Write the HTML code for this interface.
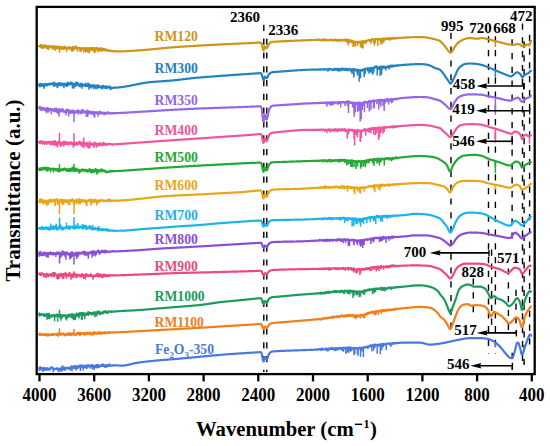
<!DOCTYPE html>
<html><head><meta charset="utf-8"><style>
html,body{margin:0;padding:0;background:#fff;}
svg{display:block;}
text{font-family:"Liberation Serif",serif;font-weight:bold;}
.lb{font-size:13.7px;}
.an{font-size:15px;fill:#000;text-anchor:middle;}
.tk{font-size:17px;fill:#000;text-anchor:middle;}
</style></head><body>
<svg width="550" height="446" viewBox="0 0 550 446" xmlns="http://www.w3.org/2000/svg">
<rect x="0" y="0" width="550" height="446" fill="#fff"/>
<g stroke="#000" stroke-width="1.4" stroke-dasharray="6.2 7.6">
<line x1="263.8" y1="24.8" x2="263.8" y2="372.0"/>
<line x1="266.8" y1="38.6" x2="266.8" y2="372.0"/>
<line x1="451.0" y1="32.8" x2="451.0" y2="335.0"/>
<line x1="488.5" y1="36.2" x2="488.5" y2="354.0"/>
<line x1="491.6" y1="249.6" x2="491.6" y2="327.0"/>
<line x1="495.4" y1="36.2" x2="495.4" y2="354.0"/>
<line x1="508.4" y1="268.5" x2="508.4" y2="330.5"/>
<line x1="512.1" y1="39.2" x2="512.1" y2="242.3"/>
<line x1="512.2" y1="352.7" x2="512.2" y2="370.0"/>
<line x1="516.0" y1="289.7" x2="516.0" y2="334.0"/>
<line x1="522.5" y1="23.5" x2="522.5" y2="364.0"/>
<line x1="524.1" y1="41.5" x2="524.1" y2="372.0"/>
<line x1="529.6" y1="34.7" x2="529.6" y2="352.0"/>
<line x1="473.3" y1="278.5" x2="473.3" y2="316.0"/>
</g>
<path d="M38.5,46.87 L39.0,46.04 L39.5,46.04 L40.0,45.61 L40.5,46.99 L41.0,44.80 L41.5,47.65 L42.0,45.92 L42.5,46.70 L43.0,46.32 L43.5,47.54 L44.0,45.10 L44.5,46.34 L45.0,46.32 L45.5,47.40 L46.0,45.86 L46.5,46.53 L47.0,46.06 L47.5,46.73 L48.0,47.13 L48.5,45.97 L49.0,47.57 L49.5,47.42 L50.0,47.16 L50.5,47.46 L51.0,46.37 L51.5,46.79 L52.0,46.24 L52.5,46.73 L53.0,47.31 L53.5,46.48 L54.0,46.71 L54.5,46.53 L55.0,46.44 L55.5,46.58 L56.0,47.07 L56.5,46.32 L57.0,47.28 L57.5,48.30 L58.0,47.68 L58.5,47.05 L59.0,46.59 L59.5,46.71 L60.0,48.44 L60.5,47.31 L61.0,46.85 L61.5,47.46 L62.0,48.81 L62.5,47.45 L63.0,47.82 L63.5,47.62 L64.0,47.19 L64.5,46.66 L65.0,47.23 L65.5,47.35 L66.0,47.93 L66.5,48.13 L67.0,48.22 L67.5,47.79 L68.0,48.23 L68.5,47.10 L69.0,48.53 L69.5,48.03 L70.0,47.49 L70.5,48.06 L71.0,47.68 L71.5,48.55 L72.0,48.85 L72.5,49.33 L73.0,46.85 L73.5,46.84 L74.0,47.52 L74.5,48.01 L75.0,48.53 L75.5,48.16 L76.0,46.55 L76.5,47.77 L77.0,48.59 L77.5,48.19 L78.0,48.59 L78.5,47.92 L79.0,47.96 L79.5,48.26 L80.0,48.44 L80.5,48.31 L81.0,48.28 L81.5,47.75 L82.0,48.51 L82.5,48.36 L83.0,49.09 L83.5,49.16 L84.0,48.48 L84.5,48.11 L85.0,47.96 L85.5,48.72 L86.0,48.51 L86.5,48.24 L87.0,48.54 L87.5,48.10 L88.0,49.04 L88.5,48.27 L89.0,49.47 L89.5,48.92 L90.0,49.08 L90.5,47.92 L91.0,48.83 L91.5,49.26 L92.0,48.10 L92.5,48.61 L93.0,48.85 L93.5,47.90 L94.0,49.11 L94.5,49.51 L95.0,48.35 L95.5,49.23 L96.0,48.10 L96.5,49.02 L97.0,47.95 L97.5,49.90 L98.0,49.44 L98.5,49.17 L99.0,48.68 L99.5,50.15 L100.0,50.68 L100.5,48.04 L101.0,50.25 L101.5,50.58 L102.0,49.73 L102.5,48.72 L103.0,50.22 L103.5,49.56 L104.0,49.33 L104.5,49.00 L105.0,50.25 L105.5,50.46 L106.0,49.69 L106.5,50.42 L107.0,49.61 L107.5,50.69 L108.0,50.39 L108.5,50.37 L109.0,50.48 L109.5,50.93 L110.0,50.94 L110.5,50.92 L111.0,50.86 L111.5,50.91 L112.0,51.10 L112.5,51.07 L113.0,51.20 L113.5,51.09 L114.0,50.90 L114.5,51.33 L115.0,51.40 L115.5,51.33 L116.0,51.34 L116.5,51.37 L117.0,51.39 L117.5,51.40 L118.0,51.40 L118.5,51.40 L119.0,51.40 L119.5,51.39 L120.0,51.38 L120.5,51.38 L121.0,51.37 L121.5,51.35 L122.0,51.34 L122.5,51.33 L123.0,51.31 L123.5,51.29 L124.0,51.27 L124.5,51.25 L125.0,51.23 L125.5,51.21 L126.0,51.19 L126.5,51.16 L127.0,51.14 L127.5,51.11 L128.0,51.08 L128.5,51.05 L129.0,51.02 L129.5,50.99 L130.0,50.96 L130.5,50.93 L131.0,50.90 L131.5,50.87 L132.0,50.84 L132.5,50.80 L133.0,50.77 L133.5,50.74 L134.0,50.70 L134.5,50.67 L135.0,50.63 L135.5,50.60 L136.0,50.57 L136.5,50.53 L137.0,50.50 L137.5,50.46 L138.0,50.43 L138.5,50.40 L139.0,50.36 L139.5,50.33 L140.0,50.30 L140.5,50.27 L141.0,50.23 L141.5,50.20 L142.0,50.17 L142.5,50.13 L143.0,50.09 L143.5,50.05 L144.0,50.01 L144.5,49.97 L145.0,49.93 L145.5,49.89 L146.0,49.85 L146.5,49.81 L147.0,49.76 L147.5,49.72 L148.0,49.67 L148.5,49.63 L149.0,49.58 L149.5,49.54 L150.0,49.49 L150.5,49.44 L151.0,49.39 L151.5,49.35 L152.0,49.30 L152.5,49.25 L153.0,49.20 L153.5,49.15 L154.0,49.10 L154.5,49.05 L155.0,49.00 L155.5,48.95 L156.0,48.90 L156.5,48.84 L157.0,48.79 L157.5,48.74 L158.0,48.69 L158.5,48.64 L159.0,48.59 L159.5,48.54 L160.0,48.49 L160.5,48.44 L161.0,48.39 L161.5,48.34 L162.0,48.29 L162.5,48.24 L163.0,48.19 L163.5,48.14 L164.0,48.09 L164.5,48.04 L165.0,47.99 L165.5,47.94 L166.0,47.90 L166.5,47.85 L167.0,47.80 L167.5,47.76 L168.0,47.71 L168.5,47.67 L169.0,47.62 L169.5,47.58 L170.0,47.54 L170.5,47.50 L171.0,47.46 L171.5,47.42 L172.0,47.38 L172.5,47.34 L173.0,47.30 L173.5,47.26 L174.0,47.23 L174.5,47.19 L175.0,47.15 L175.5,47.12 L176.0,47.08 L176.5,47.05 L177.0,47.01 L177.5,46.98 L178.0,46.94 L178.5,46.91 L179.0,46.87 L179.5,46.84 L180.0,46.80 L180.5,46.77 L181.0,46.73 L181.5,46.70 L182.0,46.67 L182.5,46.63 L183.0,46.60 L183.5,46.57 L184.0,46.53 L184.5,46.50 L185.0,46.47 L185.5,46.44 L186.0,46.41 L186.5,46.37 L187.0,46.34 L187.5,46.31 L188.0,46.28 L188.5,46.25 L189.0,46.22 L189.5,46.18 L190.0,46.15 L190.5,46.12 L191.0,46.09 L191.5,46.06 L192.0,46.03 L192.5,46.00 L193.0,45.97 L193.5,45.94 L194.0,45.91 L194.5,45.88 L195.0,45.85 L195.5,45.82 L196.0,45.79 L196.5,45.76 L197.0,45.73 L197.5,45.70 L198.0,45.68 L198.5,45.65 L199.0,45.62 L199.5,45.59 L200.0,45.56 L200.5,45.53 L201.0,45.50 L201.5,45.47 L202.0,45.45 L202.5,45.42 L203.0,45.39 L203.5,45.36 L204.0,45.33 L204.5,45.30 L205.0,45.28 L205.5,45.25 L206.0,45.22 L206.5,45.19 L207.0,45.17 L207.5,45.14 L208.0,45.11 L208.5,45.08 L209.0,45.06 L209.5,45.03 L210.0,45.00 L210.5,44.97 L211.0,44.95 L211.5,44.92 L212.0,44.89 L212.5,44.86 L213.0,44.84 L213.5,44.81 L214.0,44.79 L214.5,44.76 L215.0,44.73 L215.5,44.71 L216.0,44.68 L216.5,44.66 L217.0,44.63 L217.5,44.61 L218.0,44.58 L218.5,44.55 L219.0,44.53 L219.5,44.50 L220.0,44.48 L220.5,44.46 L221.0,44.43 L221.5,44.41 L222.0,44.38 L222.5,44.36 L223.0,44.33 L223.5,44.31 L224.0,44.29 L224.5,44.26 L225.0,44.24 L225.5,44.21 L226.0,44.19 L226.5,44.17 L227.0,44.14 L227.5,44.12 L228.0,44.09 L228.5,44.07 L229.0,44.05 L229.5,44.02 L230.0,44.00 L230.5,43.98 L231.0,43.95 L231.5,43.93 L232.0,43.91 L232.5,43.88 L233.0,43.86 L233.5,43.84 L234.0,43.81 L234.5,43.79 L235.0,43.77 L235.5,43.74 L236.0,43.72 L236.5,43.70 L237.0,43.68 L237.5,43.65 L238.0,43.63 L238.5,43.61 L239.0,43.58 L239.5,43.56 L240.0,43.53 L240.5,43.51 L241.0,43.49 L241.5,43.46 L242.0,43.44 L242.5,43.42 L243.0,43.39 L243.5,43.37 L244.0,43.35 L244.5,43.32 L245.0,43.30 L245.5,43.27 L246.0,43.25 L246.5,43.23 L247.0,43.20 L247.5,43.18 L248.0,43.15 L248.5,43.13 L249.0,43.10 L249.5,43.08 L250.0,43.05 L250.5,43.03 L251.0,43.00 L251.5,42.98 L252.0,42.95 L252.5,42.93 L253.0,42.90 L253.5,42.88 L254.0,42.85 L254.5,42.83 L255.0,42.80 L255.5,42.77 L256.0,42.75 L256.5,42.72 L257.0,42.69 L257.5,42.67 L258.0,42.64 L258.5,42.61 L259.0,42.59 L259.5,42.56 L260.0,42.54 L260.5,42.54 L261.0,42.69 L261.5,43.28 L262.0,44.72 L262.5,47.08 L263.0,49.42 L263.5,50.24 L264.0,49.12 L264.5,47.36 L265.0,46.48 L265.5,46.85 L266.0,47.76 L266.5,48.31 L267.0,48.07 L267.5,47.12 L268.0,45.91 L268.5,44.80 L269.0,43.96 L269.5,43.37 L270.0,42.93 L270.5,42.59 L271.0,42.32 L271.5,42.12 L272.0,41.98 L272.5,41.89 L273.0,41.83 L273.5,41.79 L274.0,41.76 L274.5,41.73 L275.0,41.70 L275.5,41.67 L276.0,41.65 L276.5,41.62 L277.0,41.60 L277.5,41.57 L278.0,41.54 L278.5,41.52 L279.0,41.49 L279.5,41.47 L280.0,41.44 L280.5,41.41 L281.0,41.39 L281.5,41.36 L282.0,41.34 L282.5,41.31 L283.0,41.28 L283.5,41.26 L284.0,41.23 L284.5,41.21 L285.0,41.18 L285.5,41.15 L286.0,41.13 L286.5,41.10 L287.0,41.08 L287.5,41.05 L288.0,41.03 L288.5,41.00 L289.0,40.98 L289.5,40.96 L290.0,40.93 L290.5,40.91 L291.0,40.88 L291.5,40.86 L292.0,40.84 L292.5,40.81 L293.0,40.79 L293.5,40.77 L294.0,40.74 L294.5,40.72 L295.0,40.70 L295.5,40.68 L296.0,40.66 L296.5,40.64 L297.0,40.62 L297.5,40.60 L298.0,40.58 L298.5,40.56 L299.0,40.54 L299.5,40.52 L300.0,40.50 L300.5,40.48 L301.0,40.46 L301.5,40.44 L302.0,40.42 L302.5,40.40 L303.0,40.38 L303.5,40.36 L304.0,40.34 L304.5,40.32 L305.0,40.30 L305.5,40.28 L306.0,40.26 L306.5,40.24 L307.0,40.22 L307.5,40.20 L308.0,40.18 L308.5,40.16 L309.0,40.15 L309.5,40.13 L310.0,40.11 L310.5,40.09 L311.0,40.07 L311.5,40.06 L312.0,40.04 L312.5,40.03 L313.0,40.01 L313.5,40.00 L314.0,39.98 L314.5,39.97 L315.0,39.96 L315.5,39.95 L316.0,39.94 L316.5,39.91 L317.0,39.87 L317.5,39.79 L318.0,39.83 L318.5,39.66 L319.0,39.79 L319.5,39.68 L320.0,40.09 L320.5,39.90 L321.0,39.82 L321.5,40.43 L322.0,40.14 L322.5,40.37 L323.0,39.97 L323.5,39.23 L324.0,39.55 L324.5,40.28 L325.0,39.57 L325.5,40.01 L326.0,39.96 L326.5,40.46 L327.0,40.11 L327.5,40.05 L328.0,39.95 L328.5,40.05 L329.0,40.05 L329.5,40.13 L330.0,40.14 L330.5,40.05 L331.0,39.63 L331.5,39.83 L332.0,39.95 L332.5,40.35 L333.0,40.35 L333.5,39.96 L334.0,40.53 L334.5,40.29 L335.0,39.40 L335.5,39.62 L336.0,40.26 L336.5,39.91 L337.0,40.57 L337.5,40.17 L338.0,40.06 L338.5,39.89 L339.0,39.64 L339.5,40.37 L340.0,40.12 L340.5,40.65 L341.0,39.81 L341.5,40.15 L342.0,39.93 L342.5,39.94 L343.0,40.34 L343.5,39.88 L344.0,40.29 L344.5,39.54 L345.0,39.61 L345.5,40.70 L346.0,39.85 L346.5,39.61 L347.0,40.75 L347.5,39.87 L348.0,40.36 L348.5,40.09 L349.0,39.88 L349.5,41.03 L350.0,40.78 L350.5,40.43 L351.0,40.71 L351.5,41.13 L352.0,40.75 L352.5,41.46 L353.0,41.24 L353.5,41.35 L354.0,41.68 L354.5,41.64 L355.0,41.79 L355.5,41.72 L356.0,42.26 L356.5,42.21 L357.0,42.46 L357.5,42.20 L358.0,41.88 L358.5,42.36 L359.0,41.70 L359.5,42.50 L360.0,42.94 L360.5,41.57 L361.0,42.48 L361.5,42.18 L362.0,41.82 L362.5,41.28 L363.0,41.98 L363.5,42.18 L364.0,41.23 L364.5,41.87 L365.0,42.26 L365.5,41.21 L366.0,41.15 L366.5,40.68 L367.0,40.92 L367.5,40.67 L368.0,40.54 L368.5,40.36 L369.0,40.03 L369.5,40.19 L370.0,40.15 L370.5,40.08 L371.0,39.83 L371.5,39.81 L372.0,39.42 L372.5,38.90 L373.0,39.54 L373.5,39.64 L374.0,40.01 L374.5,39.79 L375.0,39.36 L375.5,38.83 L376.0,39.20 L376.5,39.26 L377.0,39.07 L377.5,39.18 L378.0,39.40 L378.5,39.08 L379.0,38.81 L379.5,38.98 L380.0,39.03 L380.5,39.39 L381.0,39.01 L381.5,38.92 L382.0,38.91 L382.5,38.92 L383.0,39.02 L383.5,38.40 L384.0,38.68 L384.5,39.15 L385.0,38.39 L385.5,38.88 L386.0,38.97 L386.5,38.49 L387.0,38.56 L387.5,38.46 L388.0,38.26 L388.5,38.17 L389.0,39.11 L389.5,38.14 L390.0,38.31 L390.5,38.69 L391.0,38.79 L391.5,38.25 L392.0,38.36 L392.5,37.59 L393.0,38.38 L393.5,38.32 L394.0,38.31 L394.5,38.79 L395.0,38.01 L395.5,38.40 L396.0,38.26 L396.5,37.94 L397.0,38.12 L397.5,38.37 L398.0,38.13 L398.5,38.12 L399.0,37.96 L399.5,37.94 L400.0,37.92 L400.5,37.88 L401.0,37.84 L401.5,37.80 L402.0,37.76 L402.5,37.73 L403.0,37.69 L403.5,37.65 L404.0,37.62 L404.5,37.58 L405.0,37.55 L405.5,37.51 L406.0,37.48 L406.5,37.45 L407.0,37.43 L407.5,37.40 L408.0,37.38 L408.5,37.35 L409.0,37.33 L409.5,37.32 L410.0,37.30 L410.5,37.29 L411.0,37.27 L411.5,37.26 L412.0,37.24 L412.5,37.23 L413.0,37.21 L413.5,37.20 L414.0,37.19 L414.5,37.18 L415.0,37.16 L415.5,37.15 L416.0,37.14 L416.5,37.13 L417.0,37.12 L417.5,37.12 L418.0,37.11 L418.5,37.11 L419.0,37.10 L419.5,37.10 L420.0,37.10 L420.5,37.10 L421.0,37.11 L421.5,37.12 L422.0,37.14 L422.5,37.16 L423.0,37.18 L423.5,37.21 L424.0,37.24 L424.5,37.27 L425.0,37.30 L425.5,37.34 L426.0,37.40 L426.5,37.48 L427.0,37.57 L427.5,37.67 L428.0,37.77 L428.5,37.88 L429.0,37.99 L429.5,38.10 L430.0,38.20 L430.5,38.30 L431.0,38.40 L431.5,38.50 L432.0,38.60 L432.5,38.70 L433.0,38.81 L433.5,38.92 L434.0,39.04 L434.5,39.17 L435.0,39.30 L435.5,39.44 L436.0,39.57 L436.5,39.72 L437.0,39.87 L437.5,40.03 L438.0,40.20 L438.5,40.40 L439.0,40.61 L439.5,40.84 L440.0,41.10 L440.5,41.43 L441.0,41.86 L441.5,42.35 L442.0,42.89 L442.5,43.45 L443.0,44.00 L443.5,44.55 L444.0,45.13 L444.5,45.73 L445.0,46.34 L445.5,46.97 L446.0,47.60 L446.5,48.28 L447.0,49.01 L447.5,49.75 L448.0,50.46 L448.5,51.09 L449.0,51.60 L449.5,52.05 L450.0,52.44 L450.5,52.60 L451.0,52.38 L451.5,51.88 L452.0,51.30 L452.5,50.66 L453.0,49.88 L453.5,49.01 L454.0,48.11 L454.5,47.26 L455.0,46.50 L455.5,45.82 L456.0,45.16 L456.5,44.53 L457.0,43.93 L457.5,43.39 L458.0,42.90 L458.5,42.46 L459.0,42.05 L459.5,41.67 L460.0,41.32 L460.5,41.00 L461.0,40.70 L461.5,40.42 L462.0,40.15 L462.5,39.88 L463.0,39.64 L463.5,39.41 L464.0,39.21 L464.5,39.04 L465.0,38.90 L465.5,38.78 L466.0,38.66 L466.5,38.55 L467.0,38.45 L467.5,38.35 L468.0,38.27 L468.5,38.20 L469.0,38.14 L469.5,38.11 L470.0,38.10 L470.5,38.11 L471.0,38.13 L471.5,38.17 L472.0,38.21 L472.5,38.26 L473.0,38.30 L473.5,38.35 L474.0,38.41 L474.5,38.47 L475.0,38.54 L475.5,38.60 L476.0,38.65 L476.5,38.69 L477.0,38.70 L477.5,38.68 L478.0,38.63 L478.5,38.55 L479.0,38.45 L479.5,38.35 L480.0,38.25 L480.5,38.15 L481.0,38.07 L481.5,38.02 L482.0,38.00 L482.5,38.02 L483.0,38.06 L483.5,38.12 L484.0,38.21 L484.5,38.32 L485.0,38.43 L485.5,38.56 L486.0,38.69 L486.5,38.82 L487.0,38.96 L487.5,39.08 L488.0,39.20 L488.5,39.31 L489.0,39.43 L489.5,39.55 L490.0,39.67 L490.5,39.80 L491.0,39.92 L491.5,40.05 L492.0,40.18 L492.5,40.32 L493.0,40.45 L493.5,40.58 L494.0,40.72 L494.5,40.85 L495.0,40.99 L495.5,41.13 L496.0,41.26 L496.5,41.40 L497.0,41.53 L497.5,41.66 L498.0,41.79 L498.5,41.92 L499.0,42.05 L499.5,42.18 L500.0,42.30 L500.5,42.42 L501.0,42.55 L501.5,42.68 L502.0,42.81 L502.5,42.94 L503.0,43.07 L503.5,43.20 L504.0,43.33 L504.5,43.46 L505.0,43.59 L505.5,43.72 L506.0,43.84 L506.5,43.95 L507.0,44.06 L507.5,44.17 L508.0,44.27 L508.5,44.37 L509.0,44.45 L509.5,44.53 L510.0,44.60 L510.5,44.67 L511.0,44.74 L511.5,44.80 L512.0,44.85 L512.5,44.89 L513.0,44.90 L513.5,44.87 L514.0,44.77 L514.5,44.65 L515.0,44.50 L515.5,44.35 L516.0,44.23 L516.5,44.13 L517.0,44.10 L517.5,44.12 L518.0,44.17 L518.5,44.24 L519.0,44.34 L519.5,44.46 L520.0,44.60 L520.5,44.91 L521.0,45.42 L521.5,45.89 L522.0,46.10 L522.5,46.10 L523.0,46.10 L523.5,46.10 L524.0,46.10 L524.5,45.99 L525.0,45.71 L525.5,45.35 L526.0,44.99 L526.5,44.71 L527.0,44.60 L527.5,44.60 L528.0,44.60 L528.5,44.60 L529.0,44.60 L529.5,44.60 L530.0,43.90 L530.5,42.40 L531.0,41.00 L531.5,40.03" stroke="#CF9418" stroke-width="2.2" fill="none" stroke-linejoin="round"/>
<path d="M495.4,41.10V47.10M529.5,44.60V46.60M59.5,46.71V52.71M73.6,46.97V50.47M39.9,45.74V46.19M41.1,45.18V46.95M42.2,46.30V47.51M43.0,46.42V48.81M44.0,45.18V45.76M44.9,46.32V47.01M46.7,46.34V48.77M47.7,46.92V49.58M48.4,46.22V50.01M49.5,47.40V48.37M50.4,47.42V46.81M52.3,46.55V49.10M52.9,47.22V50.06M53.7,46.56V47.20M54.9,46.46V50.73M55.7,46.79V50.10M56.9,47.07V49.03M58.9,46.69V49.18M59.8,47.65V49.21M60.8,47.02V48.58M61.7,48.01V48.50M62.5,47.48V48.29M63.6,47.51V49.99M64.6,46.77V49.71M65.8,47.71V48.32M66.5,48.11V52.36M69.4,48.08V49.41M70.4,47.97V49.52M71.5,48.55V51.43M72.3,49.19V51.73M73.4,46.84V51.09M76.4,47.58V46.27M77.4,48.27V51.67M79.9,48.40V51.64M81.1,48.19V52.05M83.7,48.89V52.49M84.6,48.07V49.43M85.4,48.60V52.53M86.0,48.49V50.35M86.7,48.33V52.13M87.5,48.11V51.49M88.3,48.57V52.58M89.3,49.17V53.29M90.2,48.54V50.01M91.2,48.96V51.47M92.3,48.40V47.88M93.0,48.81V50.95M94.2,49.26V52.97M95.4,49.03V52.51M97.7,49.73V52.57M98.5,49.18V50.48M99.2,49.13V51.02M100.3,48.86V50.82M103.8,49.44V50.57M105.0,50.19V50.72M326.6,40.39V41.26M330.9,39.73V40.33M335.4,39.60V40.94M339.1,39.81V41.85M344.9,39.60V40.98M346.8,40.30V42.78M348.2,40.26V45.49M349.2,40.41V43.45M350.8,40.60V42.59M351.8,40.94V43.49M353.1,41.27V46.98M354.3,41.66V43.74M355.4,41.73V46.58M357.3,42.30V43.06M359.0,41.74V42.78M360.0,42.92V43.46M361.8,41.95V48.24M363.0,41.98V48.40M364.8,42.07V43.84M366.1,41.03V43.69M369.9,40.16V42.26M371.1,39.82V43.78M372.2,39.22V40.05M373.4,39.61V40.29M374.4,39.84V45.72M375.4,38.98V43.24M377.8,39.33V46.08M379.6,38.99V40.54M380.5,39.37V44.58M382.2,38.91V44.23M383.8,38.57V42.76M385.6,38.90V40.40M387.1,38.55V40.04M388.6,38.45V40.37M390.1,38.36V40.55M391.5,38.28V40.16M360.5,41.57V47.17M354.0,41.68V46.23M373.6,39.71V43.21M380.9,39.09V41.89M357.5,42.20V46.05" stroke="#CF9418" stroke-width="1.5" fill="none"/>
<path d="M38.5,85.25 L39.0,85.32 L39.5,84.04 L40.0,86.38 L40.5,83.93 L41.0,84.54 L41.5,85.44 L42.0,84.16 L42.5,84.25 L43.0,84.31 L43.5,85.29 L44.0,86.46 L44.5,84.85 L45.0,83.99 L45.5,85.12 L46.0,84.28 L46.5,84.65 L47.0,85.45 L47.5,84.07 L48.0,84.57 L48.5,83.91 L49.0,84.39 L49.5,84.65 L50.0,83.75 L50.5,84.18 L51.0,84.22 L51.5,83.92 L52.0,83.51 L52.5,83.32 L53.0,84.18 L53.5,84.08 L54.0,85.81 L54.5,82.53 L55.0,84.29 L55.5,84.45 L56.0,85.13 L56.5,84.51 L57.0,83.56 L57.5,84.13 L58.0,84.50 L58.5,83.89 L59.0,84.63 L59.5,82.78 L60.0,85.29 L60.5,85.09 L61.0,83.82 L61.5,84.47 L62.0,84.07 L62.5,83.45 L63.0,84.09 L63.5,84.72 L64.0,83.75 L64.5,83.75 L65.0,83.96 L65.5,84.31 L66.0,84.90 L66.5,83.56 L67.0,84.36 L67.5,84.15 L68.0,82.70 L68.5,83.71 L69.0,83.91 L69.5,83.98 L70.0,84.25 L70.5,82.61 L71.0,84.08 L71.5,83.59 L72.0,83.08 L72.5,84.47 L73.0,84.64 L73.5,83.70 L74.0,84.77 L74.5,83.94 L75.0,84.28 L75.5,83.50 L76.0,85.41 L76.5,82.48 L77.0,84.31 L77.5,84.90 L78.0,83.03 L78.5,84.36 L79.0,84.48 L79.5,85.15 L80.0,85.49 L80.5,84.38 L81.0,83.73 L81.5,85.70 L82.0,85.64 L82.5,84.51 L83.0,85.13 L83.5,85.20 L84.0,85.37 L84.5,85.16 L85.0,86.05 L85.5,83.89 L86.0,85.88 L86.5,85.47 L87.0,85.09 L87.5,86.11 L88.0,83.69 L88.5,86.19 L89.0,85.69 L89.5,84.67 L90.0,85.80 L90.5,85.33 L91.0,87.39 L91.5,86.92 L92.0,85.99 L92.5,85.23 L93.0,85.37 L93.5,85.61 L94.0,85.50 L94.5,85.32 L95.0,85.60 L95.5,85.88 L96.0,85.77 L96.5,85.70 L97.0,85.61 L97.5,88.11 L98.0,85.35 L98.5,85.73 L99.0,86.81 L99.5,86.35 L100.0,86.94 L100.5,87.26 L101.0,87.65 L101.5,87.35 L102.0,86.19 L102.5,87.73 L103.0,85.77 L103.5,86.99 L104.0,86.77 L104.5,86.44 L105.0,87.65 L105.5,87.15 L106.0,88.04 L106.5,86.38 L107.0,87.96 L107.5,87.77 L108.0,87.57 L108.5,86.75 L109.0,87.44 L109.5,86.83 L110.0,86.65 L110.5,89.08 L111.0,88.06 L111.5,88.36 L112.0,87.54 L112.5,87.92 L113.0,87.90 L113.5,87.86 L114.0,87.69 L114.5,87.63 L115.0,87.30 L115.5,87.73 L116.0,87.67 L116.5,87.69 L117.0,87.54 L117.5,87.57 L118.0,87.48 L118.5,87.44 L119.0,87.39 L119.5,87.34 L120.0,87.29 L120.5,87.24 L121.0,87.18 L121.5,87.11 L122.0,87.05 L122.5,86.98 L123.0,86.91 L123.5,86.84 L124.0,86.76 L124.5,86.68 L125.0,86.60 L125.5,86.52 L126.0,86.44 L126.5,86.35 L127.0,86.26 L127.5,86.17 L128.0,86.08 L128.5,85.99 L129.0,85.90 L129.5,85.80 L130.0,85.71 L130.5,85.61 L131.0,85.51 L131.5,85.41 L132.0,85.31 L132.5,85.21 L133.0,85.11 L133.5,85.01 L134.0,84.91 L134.5,84.81 L135.0,84.71 L135.5,84.61 L136.0,84.51 L136.5,84.41 L137.0,84.31 L137.5,84.21 L138.0,84.11 L138.5,84.01 L139.0,83.91 L139.5,83.82 L140.0,83.72 L140.5,83.63 L141.0,83.53 L141.5,83.44 L142.0,83.35 L142.5,83.26 L143.0,83.18 L143.5,83.09 L144.0,83.01 L144.5,82.93 L145.0,82.85 L145.5,82.77 L146.0,82.70 L146.5,82.63 L147.0,82.56 L147.5,82.49 L148.0,82.43 L148.5,82.36 L149.0,82.31 L149.5,82.25 L150.0,82.20 L150.5,82.15 L151.0,82.10 L151.5,82.06 L152.0,82.01 L152.5,81.96 L153.0,81.92 L153.5,81.88 L154.0,81.84 L154.5,81.79 L155.0,81.75 L155.5,81.71 L156.0,81.68 L156.5,81.64 L157.0,81.60 L157.5,81.56 L158.0,81.53 L158.5,81.49 L159.0,81.45 L159.5,81.42 L160.0,81.38 L160.5,81.35 L161.0,81.31 L161.5,81.28 L162.0,81.24 L162.5,81.21 L163.0,81.18 L163.5,81.14 L164.0,81.11 L164.5,81.07 L165.0,81.04 L165.5,81.00 L166.0,80.96 L166.5,80.93 L167.0,80.89 L167.5,80.85 L168.0,80.82 L168.5,80.78 L169.0,80.74 L169.5,80.70 L170.0,80.66 L170.5,80.62 L171.0,80.58 L171.5,80.53 L172.0,80.49 L172.5,80.45 L173.0,80.40 L173.5,80.35 L174.0,80.30 L174.5,80.25 L175.0,80.20 L175.5,80.15 L176.0,80.10 L176.5,80.04 L177.0,79.99 L177.5,79.93 L178.0,79.88 L178.5,79.82 L179.0,79.76 L179.5,79.70 L180.0,79.64 L180.5,79.58 L181.0,79.52 L181.5,79.46 L182.0,79.40 L182.5,79.34 L183.0,79.27 L183.5,79.21 L184.0,79.15 L184.5,79.09 L185.0,79.03 L185.5,78.96 L186.0,78.90 L186.5,78.84 L187.0,78.78 L187.5,78.72 L188.0,78.66 L188.5,78.60 L189.0,78.54 L189.5,78.48 L190.0,78.42 L190.5,78.37 L191.0,78.31 L191.5,78.26 L192.0,78.20 L192.5,78.15 L193.0,78.10 L193.5,78.05 L194.0,78.00 L194.5,77.95 L195.0,77.90 L195.5,77.85 L196.0,77.81 L196.5,77.76 L197.0,77.72 L197.5,77.68 L198.0,77.63 L198.5,77.59 L199.0,77.55 L199.5,77.51 L200.0,77.47 L200.5,77.43 L201.0,77.39 L201.5,77.35 L202.0,77.31 L202.5,77.27 L203.0,77.23 L203.5,77.19 L204.0,77.15 L204.5,77.12 L205.0,77.08 L205.5,77.04 L206.0,77.00 L206.5,76.97 L207.0,76.93 L207.5,76.89 L208.0,76.85 L208.5,76.81 L209.0,76.78 L209.5,76.74 L210.0,76.70 L210.5,76.66 L211.0,76.62 L211.5,76.58 L212.0,76.55 L212.5,76.51 L213.0,76.47 L213.5,76.43 L214.0,76.39 L214.5,76.36 L215.0,76.32 L215.5,76.28 L216.0,76.24 L216.5,76.20 L217.0,76.17 L217.5,76.13 L218.0,76.09 L218.5,76.05 L219.0,76.02 L219.5,75.98 L220.0,75.94 L220.5,75.90 L221.0,75.87 L221.5,75.83 L222.0,75.79 L222.5,75.76 L223.0,75.72 L223.5,75.68 L224.0,75.65 L224.5,75.61 L225.0,75.57 L225.5,75.54 L226.0,75.50 L226.5,75.46 L227.0,75.43 L227.5,75.39 L228.0,75.35 L228.5,75.32 L229.0,75.28 L229.5,75.24 L230.0,75.21 L230.5,75.17 L231.0,75.14 L231.5,75.10 L232.0,75.06 L232.5,75.03 L233.0,74.99 L233.5,74.96 L234.0,74.92 L234.5,74.89 L235.0,74.85 L235.5,74.82 L236.0,74.78 L236.5,74.74 L237.0,74.71 L237.5,74.67 L238.0,74.64 L238.5,74.60 L239.0,74.57 L239.5,74.53 L240.0,74.50 L240.5,74.47 L241.0,74.43 L241.5,74.40 L242.0,74.36 L242.5,74.33 L243.0,74.30 L243.5,74.26 L244.0,74.23 L244.5,74.20 L245.0,74.16 L245.5,74.13 L246.0,74.10 L246.5,74.07 L247.0,74.03 L247.5,74.00 L248.0,73.97 L248.5,73.94 L249.0,73.90 L249.5,73.87 L250.0,73.84 L250.5,73.81 L251.0,73.77 L251.5,73.74 L252.0,73.71 L252.5,73.67 L253.0,73.64 L253.5,73.60 L254.0,73.57 L254.5,73.54 L255.0,73.50 L255.5,73.46 L256.0,73.43 L256.5,73.39 L257.0,73.36 L257.5,73.32 L258.0,73.28 L258.5,73.25 L259.0,73.21 L259.5,73.17 L260.0,73.14 L260.5,73.13 L261.0,73.26 L261.5,73.77 L262.0,75.07 L262.5,77.21 L263.0,79.32 L263.5,80.05 L264.0,79.02 L264.5,77.40 L265.0,76.59 L265.5,76.91 L266.0,77.73 L266.5,78.22 L267.0,77.98 L267.5,77.11 L268.0,75.99 L268.5,74.96 L269.0,74.19 L269.5,73.64 L270.0,73.23 L270.5,72.90 L271.0,72.64 L271.5,72.45 L272.0,72.31 L272.5,72.21 L273.0,72.14 L273.5,72.09 L274.0,72.04 L274.5,72.00 L275.0,71.96 L275.5,71.93 L276.0,71.89 L276.5,71.85 L277.0,71.81 L277.5,71.78 L278.0,71.74 L278.5,71.71 L279.0,71.67 L279.5,71.63 L280.0,71.60 L280.5,71.57 L281.0,71.53 L281.5,71.49 L282.0,71.46 L282.5,71.42 L283.0,71.38 L283.5,71.35 L284.0,71.31 L284.5,71.27 L285.0,71.23 L285.5,71.20 L286.0,71.16 L286.5,71.12 L287.0,71.08 L287.5,71.04 L288.0,71.01 L288.5,70.97 L289.0,70.93 L289.5,70.89 L290.0,70.85 L290.5,70.81 L291.0,70.77 L291.5,70.74 L292.0,70.70 L292.5,70.66 L293.0,70.62 L293.5,70.59 L294.0,70.55 L294.5,70.51 L295.0,70.48 L295.5,70.44 L296.0,70.41 L296.5,70.37 L297.0,70.34 L297.5,70.30 L298.0,70.27 L298.5,70.24 L299.0,70.20 L299.5,70.17 L300.0,70.14 L300.5,70.11 L301.0,70.08 L301.5,70.05 L302.0,70.03 L302.5,70.00 L303.0,69.97 L303.5,69.95 L304.0,69.92 L304.5,69.90 L305.0,69.87 L305.5,69.85 L306.0,69.83 L306.5,69.81 L307.0,69.79 L307.5,69.77 L308.0,69.76 L308.5,69.74 L309.0,69.73 L309.5,69.71 L310.0,69.70 L310.5,69.69 L311.0,69.68 L311.5,69.67 L312.0,69.66 L312.5,69.65 L313.0,69.64 L313.5,69.63 L314.0,69.62 L314.5,69.61 L315.0,69.61 L315.5,69.60 L316.0,69.59 L316.5,69.58 L317.0,69.55 L317.5,69.60 L318.0,69.51 L318.5,69.60 L319.0,69.45 L319.5,69.27 L320.0,69.37 L320.5,69.33 L321.0,69.65 L321.5,69.58 L322.0,69.35 L322.5,69.63 L323.0,69.29 L323.5,69.49 L324.0,69.40 L324.5,69.64 L325.0,69.18 L325.5,69.43 L326.0,69.46 L326.5,69.08 L327.0,69.47 L327.5,69.43 L328.0,69.76 L328.5,69.04 L329.0,68.91 L329.5,68.85 L330.0,69.47 L330.5,69.20 L331.0,69.03 L331.5,69.45 L332.0,69.66 L332.5,70.00 L333.0,69.76 L333.5,69.09 L334.0,69.81 L334.5,69.03 L335.0,69.43 L335.5,69.54 L336.0,68.74 L336.5,69.29 L337.0,69.26 L337.5,69.98 L338.0,68.99 L338.5,69.45 L339.0,69.11 L339.5,69.19 L340.0,68.82 L340.5,69.48 L341.0,69.56 L341.5,69.53 L342.0,68.51 L342.5,68.45 L343.0,69.06 L343.5,69.48 L344.0,69.36 L344.5,68.99 L345.0,68.84 L345.5,69.68 L346.0,69.59 L346.5,68.85 L347.0,69.10 L347.5,69.11 L348.0,69.90 L348.5,69.45 L349.0,69.62 L349.5,68.96 L350.0,69.41 L350.5,69.32 L351.0,69.46 L351.5,69.60 L352.0,69.49 L352.5,69.21 L353.0,70.04 L353.5,69.37 L354.0,69.48 L354.5,69.18 L355.0,70.00 L355.5,69.97 L356.0,69.75 L356.5,69.72 L357.0,70.12 L357.5,69.99 L358.0,69.75 L358.5,70.28 L359.0,70.44 L359.5,70.24 L360.0,70.39 L360.5,70.15 L361.0,70.56 L361.5,70.28 L362.0,69.79 L362.5,70.22 L363.0,69.88 L363.5,69.49 L364.0,69.34 L364.5,69.37 L365.0,68.68 L365.5,68.99 L366.0,68.97 L366.5,68.50 L367.0,68.62 L367.5,68.46 L368.0,68.16 L368.5,68.54 L369.0,68.56 L369.5,68.51 L370.0,68.69 L370.5,68.13 L371.0,67.94 L371.5,68.02 L372.0,68.38 L372.5,68.42 L373.0,67.60 L373.5,67.87 L374.0,67.62 L374.5,67.81 L375.0,66.70 L375.5,67.35 L376.0,66.80 L376.5,66.31 L377.0,67.49 L377.5,66.99 L378.0,67.72 L378.5,67.51 L379.0,67.64 L379.5,67.44 L380.0,66.96 L380.5,67.21 L381.0,66.52 L381.5,66.59 L382.0,67.15 L382.5,67.56 L383.0,66.98 L383.5,66.47 L384.0,66.81 L384.5,67.01 L385.0,67.12 L385.5,66.78 L386.0,67.30 L386.5,67.03 L387.0,66.76 L387.5,66.46 L388.0,67.39 L388.5,66.36 L389.0,66.37 L389.5,66.12 L390.0,66.49 L390.5,65.75 L391.0,66.51 L391.5,65.71 L392.0,66.46 L392.5,65.67 L393.0,65.67 L393.5,65.79 L394.0,66.07 L394.5,65.87 L395.0,65.59 L395.5,65.77 L396.0,65.90 L396.5,65.33 L397.0,65.86 L397.5,65.58 L398.0,65.21 L398.5,65.47 L399.0,65.38 L399.5,65.32 L400.0,65.28 L400.5,65.22 L401.0,65.16 L401.5,65.11 L402.0,65.06 L402.5,65.01 L403.0,64.96 L403.5,64.91 L404.0,64.87 L404.5,64.83 L405.0,64.80 L405.5,64.77 L406.0,64.73 L406.5,64.70 L407.0,64.67 L407.5,64.64 L408.0,64.60 L408.5,64.57 L409.0,64.54 L409.5,64.51 L410.0,64.47 L410.5,64.44 L411.0,64.41 L411.5,64.38 L412.0,64.36 L412.5,64.33 L413.0,64.30 L413.5,64.28 L414.0,64.25 L414.5,64.23 L415.0,64.21 L415.5,64.19 L416.0,64.17 L416.5,64.16 L417.0,64.14 L417.5,64.13 L418.0,64.12 L418.5,64.11 L419.0,64.10 L419.5,64.10 L420.0,64.10 L420.5,64.10 L421.0,64.12 L421.5,64.14 L422.0,64.16 L422.5,64.19 L423.0,64.23 L423.5,64.27 L424.0,64.31 L424.5,64.35 L425.0,64.40 L425.5,64.46 L426.0,64.53 L426.5,64.61 L427.0,64.71 L427.5,64.82 L428.0,64.94 L428.5,65.07 L429.0,65.21 L429.5,65.35 L430.0,65.50 L430.5,65.67 L431.0,65.89 L431.5,66.13 L432.0,66.40 L432.5,66.68 L433.0,66.97 L433.5,67.25 L434.0,67.52 L434.5,67.77 L435.0,68.00 L435.5,68.19 L436.0,68.36 L436.5,68.52 L437.0,68.66 L437.5,68.81 L438.0,68.96 L438.5,69.13 L439.0,69.32 L439.5,69.54 L440.0,69.80 L440.5,70.15 L441.0,70.63 L441.5,71.19 L442.0,71.81 L442.5,72.46 L443.0,73.10 L443.5,73.76 L444.0,74.48 L444.5,75.23 L445.0,75.99 L445.5,76.76 L446.0,77.50 L446.5,78.22 L447.0,78.95 L447.5,79.67 L448.0,80.38 L448.5,81.09 L449.0,81.80 L449.5,82.66 L450.0,83.43 L450.5,83.56 L451.0,83.16 L451.5,82.51 L452.0,81.80 L452.5,81.05 L453.0,80.16 L453.5,79.17 L454.0,78.12 L454.5,77.05 L455.0,76.00 L455.5,74.91 L456.0,73.73 L456.5,72.53 L457.0,71.38 L457.5,70.35 L458.0,69.50 L458.5,68.80 L459.0,68.16 L459.5,67.58 L460.0,67.06 L460.5,66.60 L461.0,66.20 L461.5,65.83 L462.0,65.47 L462.5,65.13 L463.0,64.81 L463.5,64.54 L464.0,64.30 L464.5,64.12 L465.0,64.00 L465.5,63.92 L466.0,63.84 L466.5,63.76 L467.0,63.70 L467.5,63.64 L468.0,63.59 L468.5,63.55 L469.0,63.52 L469.5,63.51 L470.0,63.50 L470.5,63.50 L471.0,63.52 L471.5,63.54 L472.0,63.56 L472.5,63.60 L473.0,63.63 L473.5,63.67 L474.0,63.71 L474.5,63.76 L475.0,63.80 L475.5,63.85 L476.0,63.90 L476.5,63.96 L477.0,64.03 L477.5,64.10 L478.0,64.18 L478.5,64.27 L479.0,64.36 L479.5,64.46 L480.0,64.56 L480.5,64.66 L481.0,64.77 L481.5,64.88 L482.0,65.00 L482.5,65.13 L483.0,65.27 L483.5,65.43 L484.0,65.61 L484.5,65.79 L485.0,65.98 L485.5,66.18 L486.0,66.39 L486.5,66.59 L487.0,66.80 L487.5,67.00 L488.0,67.20 L488.5,67.40 L489.0,67.60 L489.5,67.80 L490.0,68.01 L490.5,68.21 L491.0,68.42 L491.5,68.64 L492.0,68.85 L492.5,69.07 L493.0,69.28 L493.5,69.50 L494.0,69.72 L494.5,69.94 L495.0,70.16 L495.5,70.38 L496.0,70.60 L496.5,70.81 L497.0,71.03 L497.5,71.25 L498.0,71.46 L498.5,71.67 L499.0,71.88 L499.5,72.09 L500.0,72.30 L500.5,72.51 L501.0,72.71 L501.5,72.92 L502.0,73.12 L502.5,73.33 L503.0,73.53 L503.5,73.73 L504.0,73.92 L504.5,74.11 L505.0,74.30 L505.5,74.49 L506.0,74.70 L506.5,74.92 L507.0,75.14 L507.5,75.36 L508.0,75.57 L508.5,75.77 L509.0,75.94 L509.5,76.09 L510.0,76.20 L510.5,76.27 L511.0,76.30 L511.5,76.20 L512.0,75.93 L512.5,75.55 L513.0,75.11 L513.5,74.68 L514.0,74.30 L514.5,73.92 L515.0,73.49 L515.5,73.05 L516.0,72.67 L516.5,72.40 L517.0,72.30 L517.5,72.36 L518.0,72.52 L518.5,72.77 L519.0,73.08 L519.5,73.43 L520.0,73.80 L520.5,74.40 L521.0,75.30 L521.5,76.25 L522.0,77.00 L522.5,77.30 L523.0,76.87 L523.5,75.99 L524.0,75.30 L524.5,74.96 L525.0,74.68 L525.5,74.45 L526.0,74.24 L526.5,74.03 L527.0,73.80 L527.5,73.57 L528.0,73.36 L528.5,73.12 L529.0,72.80 L529.5,72.12 L530.0,71.24 L530.5,70.80 L531.0,71.04 L531.5,71.75" stroke="#2483BF" stroke-width="2.2" fill="none" stroke-linejoin="round"/>
<path d="M495.4,70.33V77.33M74.0,84.77V88.77M39.2,84.80V86.76M40.4,84.36V86.75M41.3,85.00V86.59M42.1,84.19V85.69M43.0,84.31V86.69M44.0,86.43V88.80M45.8,84.59V83.82M47.0,85.38V86.06M49.5,84.58V82.87M50.6,84.18V83.60M51.8,83.69V82.58M52.7,83.66V85.27M54.0,85.78V86.63M55.1,84.31V86.05M57.1,83.67V87.71M57.7,84.31V88.31M58.4,83.96V84.48M59.3,83.48V82.29M59.9,84.90V83.24M62.0,84.11V86.54M63.9,83.87V88.20M65.1,84.04V85.86M66.1,84.61V86.90M66.8,84.12V87.08M68.1,82.94V86.16M69.9,84.18V85.25M70.6,82.85V83.74M71.6,83.48V81.78M72.4,84.24V88.57M73.7,84.09V86.25M74.4,84.06V87.48M75.5,83.57V86.44M76.2,84.02V86.41M77.5,84.88V84.38M78.2,83.44V83.01M79.0,84.47V86.85M80.0,85.44V87.58M80.9,83.81V87.09M82.0,85.54V88.82M82.8,84.83V83.62M83.6,85.24V84.31M84.3,85.26V86.16M85.4,84.51V85.21M86.6,85.40V86.65M88.3,85.08V86.42M89.0,85.59V89.70M89.8,85.31V85.82M90.7,86.14V84.91M93.5,85.60V88.88M94.2,85.43V88.54M94.8,85.51V86.73M95.8,85.80V89.15M98.7,86.19V86.71M100.4,87.18V87.72M101.5,87.37V88.72M102.6,87.45V89.53M105.2,87.45V88.55M106.0,88.01V89.03M108.1,87.44V88.01M109.9,86.70V87.27M324.8,69.35V69.99M327.9,69.68V71.64M329.4,68.86V70.36M331.1,69.13V70.07M336.6,69.28V70.15M338.3,69.25V71.62M339.8,68.94V71.46M341.5,69.47V71.21M342.8,68.77V69.97M344.0,69.37V71.09M345.3,69.28V70.45M346.3,69.19V70.94M347.3,69.11V70.74M348.3,69.61V71.55M350.9,69.44V72.24M352.1,69.44V73.97M353.8,69.44V77.47M354.9,69.85V71.07M356.4,69.73V72.56M357.3,70.04V71.56M359.2,70.37V81.86M362.1,69.90V71.58M363.1,69.81V71.12M364.1,69.35V77.25M365.2,68.83V74.19M367.5,68.44V71.58M369.0,68.56V73.64M370.3,68.34V71.97M371.3,67.99V73.33M372.9,67.82V74.73M373.9,67.68V70.89M377.2,67.31V75.61M378.6,67.53V69.88M380.2,67.07V75.92M381.6,66.72V74.87M382.7,67.37V69.18M384.3,66.92V68.69M385.7,66.99V70.61M387.2,66.65V68.29M388.2,66.91V68.29M389.4,66.19V69.47M392.5,65.67V67.42M360.5,70.15V78.15M354.0,69.48V75.98M373.6,67.82V72.82M380.9,66.66V70.66M357.5,69.99V75.49" stroke="#2483BF" stroke-width="1.5" fill="none"/>
<path d="M38.5,108.53 L39.0,108.18 L39.5,108.10 L40.0,106.82 L40.5,108.00 L41.0,108.02 L41.5,108.28 L42.0,107.97 L42.5,108.45 L43.0,108.22 L43.5,107.70 L44.0,109.31 L44.5,109.38 L45.0,110.03 L45.5,108.93 L46.0,108.68 L46.5,108.65 L47.0,108.01 L47.5,109.85 L48.0,108.46 L48.5,108.46 L49.0,109.21 L49.5,110.45 L50.0,109.64 L50.5,108.82 L51.0,109.10 L51.5,110.09 L52.0,109.60 L52.5,109.23 L53.0,109.66 L53.5,110.40 L54.0,111.32 L54.5,109.12 L55.0,109.60 L55.5,109.53 L56.0,108.45 L56.5,109.54 L57.0,109.52 L57.5,111.07 L58.0,110.24 L58.5,109.24 L59.0,110.87 L59.5,110.21 L60.0,109.28 L60.5,110.12 L61.0,110.17 L61.5,110.01 L62.0,110.68 L62.5,109.12 L63.0,110.54 L63.5,111.48 L64.0,111.40 L64.5,111.61 L65.0,111.66 L65.5,111.95 L66.0,110.16 L66.5,111.56 L67.0,109.70 L67.5,110.62 L68.0,109.73 L68.5,111.83 L69.0,112.06 L69.5,111.02 L70.0,112.43 L70.5,110.75 L71.0,111.36 L71.5,111.39 L72.0,110.56 L72.5,111.64 L73.0,112.72 L73.5,110.67 L74.0,112.05 L74.5,111.34 L75.0,112.71 L75.5,111.84 L76.0,112.00 L76.5,112.00 L77.0,111.76 L77.5,110.63 L78.0,112.61 L78.5,110.70 L79.0,111.85 L79.5,112.14 L80.0,111.15 L80.5,111.87 L81.0,112.61 L81.5,111.80 L82.0,111.22 L82.5,109.83 L83.0,111.21 L83.5,111.51 L84.0,111.59 L84.5,111.30 L85.0,112.26 L85.5,111.62 L86.0,111.98 L86.5,112.56 L87.0,111.51 L87.5,111.93 L88.0,113.68 L88.5,112.81 L89.0,111.33 L89.5,112.21 L90.0,112.69 L90.5,113.19 L91.0,112.46 L91.5,112.02 L92.0,111.91 L92.5,112.91 L93.0,112.71 L93.5,112.16 L94.0,112.42 L94.5,112.29 L95.0,113.12 L95.5,112.16 L96.0,113.02 L96.5,113.30 L97.0,113.08 L97.5,112.18 L98.0,113.74 L98.5,112.35 L99.0,113.15 L99.5,112.35 L100.0,111.68 L100.5,113.09 L101.0,113.16 L101.5,112.93 L102.0,113.20 L102.5,112.57 L103.0,112.53 L103.5,112.95 L104.0,114.42 L104.5,113.67 L105.0,112.75 L105.5,113.52 L106.0,112.81 L106.5,112.85 L107.0,113.72 L107.5,112.86 L108.0,112.21 L108.5,112.69 L109.0,113.24 L109.5,113.26 L110.0,113.78 L110.5,112.89 L111.0,113.50 L111.5,113.36 L112.0,113.14 L112.5,113.45 L113.0,113.32 L113.5,112.94 L114.0,113.41 L114.5,112.90 L115.0,113.14 L115.5,113.12 L116.0,113.15 L116.5,113.03 L117.0,113.07 L117.5,113.05 L118.0,113.04 L118.5,113.02 L119.0,113.00 L119.5,112.98 L120.0,112.95 L120.5,112.93 L121.0,112.91 L121.5,112.88 L122.0,112.86 L122.5,112.83 L123.0,112.81 L123.5,112.78 L124.0,112.75 L124.5,112.73 L125.0,112.70 L125.5,112.67 L126.0,112.64 L126.5,112.61 L127.0,112.58 L127.5,112.55 L128.0,112.52 L128.5,112.49 L129.0,112.46 L129.5,112.43 L130.0,112.40 L130.5,112.37 L131.0,112.33 L131.5,112.30 L132.0,112.27 L132.5,112.24 L133.0,112.21 L133.5,112.18 L134.0,112.15 L134.5,112.12 L135.0,112.09 L135.5,112.06 L136.0,112.03 L136.5,112.00 L137.0,111.97 L137.5,111.94 L138.0,111.91 L138.5,111.88 L139.0,111.85 L139.5,111.83 L140.0,111.80 L140.5,111.77 L141.0,111.75 L141.5,111.72 L142.0,111.69 L142.5,111.66 L143.0,111.64 L143.5,111.61 L144.0,111.58 L144.5,111.55 L145.0,111.52 L145.5,111.49 L146.0,111.46 L146.5,111.43 L147.0,111.40 L147.5,111.37 L148.0,111.34 L148.5,111.31 L149.0,111.28 L149.5,111.25 L150.0,111.22 L150.5,111.19 L151.0,111.15 L151.5,111.12 L152.0,111.09 L152.5,111.06 L153.0,111.03 L153.5,111.00 L154.0,110.96 L154.5,110.93 L155.0,110.90 L155.5,110.87 L156.0,110.84 L156.5,110.80 L157.0,110.77 L157.5,110.74 L158.0,110.71 L158.5,110.67 L159.0,110.64 L159.5,110.61 L160.0,110.58 L160.5,110.55 L161.0,110.51 L161.5,110.48 L162.0,110.45 L162.5,110.42 L163.0,110.39 L163.5,110.36 L164.0,110.33 L164.5,110.29 L165.0,110.26 L165.5,110.23 L166.0,110.20 L166.5,110.17 L167.0,110.14 L167.5,110.11 L168.0,110.08 L168.5,110.05 L169.0,110.02 L169.5,109.99 L170.0,109.97 L170.5,109.94 L171.0,109.91 L171.5,109.88 L172.0,109.85 L172.5,109.83 L173.0,109.80 L173.5,109.77 L174.0,109.75 L174.5,109.72 L175.0,109.69 L175.5,109.67 L176.0,109.64 L176.5,109.61 L177.0,109.59 L177.5,109.56 L178.0,109.54 L178.5,109.51 L179.0,109.48 L179.5,109.46 L180.0,109.43 L180.5,109.41 L181.0,109.38 L181.5,109.36 L182.0,109.33 L182.5,109.31 L183.0,109.28 L183.5,109.26 L184.0,109.23 L184.5,109.21 L185.0,109.18 L185.5,109.16 L186.0,109.13 L186.5,109.11 L187.0,109.08 L187.5,109.06 L188.0,109.04 L188.5,109.01 L189.0,108.99 L189.5,108.96 L190.0,108.94 L190.5,108.92 L191.0,108.89 L191.5,108.87 L192.0,108.85 L192.5,108.82 L193.0,108.80 L193.5,108.78 L194.0,108.76 L194.5,108.73 L195.0,108.71 L195.5,108.69 L196.0,108.67 L196.5,108.65 L197.0,108.63 L197.5,108.60 L198.0,108.58 L198.5,108.56 L199.0,108.54 L199.5,108.52 L200.0,108.50 L200.5,108.48 L201.0,108.46 L201.5,108.44 L202.0,108.42 L202.5,108.40 L203.0,108.38 L203.5,108.36 L204.0,108.34 L204.5,108.32 L205.0,108.30 L205.5,108.28 L206.0,108.27 L206.5,108.25 L207.0,108.23 L207.5,108.21 L208.0,108.19 L208.5,108.17 L209.0,108.16 L209.5,108.14 L210.0,108.12 L210.5,108.10 L211.0,108.09 L211.5,108.07 L212.0,108.05 L212.5,108.03 L213.0,108.02 L213.5,108.00 L214.0,107.98 L214.5,107.97 L215.0,107.95 L215.5,107.93 L216.0,107.92 L216.5,107.90 L217.0,107.88 L217.5,107.87 L218.0,107.85 L218.5,107.83 L219.0,107.82 L219.5,107.80 L220.0,107.78 L220.5,107.77 L221.0,107.75 L221.5,107.73 L222.0,107.72 L222.5,107.70 L223.0,107.69 L223.5,107.67 L224.0,107.65 L224.5,107.64 L225.0,107.62 L225.5,107.60 L226.0,107.59 L226.5,107.57 L227.0,107.55 L227.5,107.54 L228.0,107.52 L228.5,107.50 L229.0,107.49 L229.5,107.47 L230.0,107.45 L230.5,107.44 L231.0,107.42 L231.5,107.40 L232.0,107.39 L232.5,107.37 L233.0,107.35 L233.5,107.33 L234.0,107.32 L234.5,107.30 L235.0,107.28 L235.5,107.26 L236.0,107.25 L236.5,107.23 L237.0,107.21 L237.5,107.19 L238.0,107.17 L238.5,107.16 L239.0,107.14 L239.5,107.12 L240.0,107.10 L240.5,107.08 L241.0,107.06 L241.5,107.04 L242.0,107.02 L242.5,107.01 L243.0,106.99 L243.5,106.97 L244.0,106.95 L244.5,106.93 L245.0,106.91 L245.5,106.89 L246.0,106.87 L246.5,106.85 L247.0,106.83 L247.5,106.81 L248.0,106.79 L248.5,106.77 L249.0,106.75 L249.5,106.73 L250.0,106.71 L250.5,106.69 L251.0,106.67 L251.5,106.65 L252.0,106.63 L252.5,106.61 L253.0,106.59 L253.5,106.57 L254.0,106.54 L254.5,106.52 L255.0,106.50 L255.5,106.48 L256.0,106.46 L256.5,106.43 L257.0,106.41 L257.5,106.39 L258.0,106.36 L258.5,106.34 L259.0,106.32 L259.5,106.30 L260.0,106.28 L260.5,106.33 L261.0,106.65 L261.5,107.82 L262.0,110.66 L262.5,115.30 L263.0,119.89 L263.5,121.56 L264.0,119.52 L264.5,116.28 L265.0,114.88 L265.5,115.99 L266.0,118.10 L266.5,119.36 L267.0,118.87 L267.5,116.85 L268.0,114.23 L268.5,111.84 L269.0,110.05 L269.5,108.79 L270.0,107.87 L270.5,107.16 L271.0,106.61 L271.5,106.21 L272.0,105.94 L272.5,105.77 L273.0,105.67 L273.5,105.60 L274.0,105.56 L274.5,105.53 L275.0,105.50 L275.5,105.47 L276.0,105.44 L276.5,105.42 L277.0,105.39 L277.5,105.36 L278.0,105.33 L278.5,105.30 L279.0,105.27 L279.5,105.23 L280.0,105.20 L280.5,105.17 L281.0,105.14 L281.5,105.11 L282.0,105.07 L282.5,105.04 L283.0,105.01 L283.5,104.97 L284.0,104.94 L284.5,104.91 L285.0,104.87 L285.5,104.84 L286.0,104.80 L286.5,104.77 L287.0,104.73 L287.5,104.70 L288.0,104.66 L288.5,104.63 L289.0,104.60 L289.5,104.56 L290.0,104.53 L290.5,104.49 L291.0,104.46 L291.5,104.42 L292.0,104.39 L292.5,104.35 L293.0,104.32 L293.5,104.28 L294.0,104.25 L294.5,104.21 L295.0,104.18 L295.5,104.14 L296.0,104.11 L296.5,104.08 L297.0,104.04 L297.5,104.01 L298.0,103.98 L298.5,103.94 L299.0,103.91 L299.5,103.88 L300.0,103.85 L300.5,103.82 L301.0,103.78 L301.5,103.75 L302.0,103.72 L302.5,103.69 L303.0,103.66 L303.5,103.63 L304.0,103.61 L304.5,103.58 L305.0,103.55 L305.5,103.52 L306.0,103.49 L306.5,103.47 L307.0,103.44 L307.5,103.42 L308.0,103.39 L308.5,103.37 L309.0,103.35 L309.5,103.32 L310.0,103.30 L310.5,103.28 L311.0,103.26 L311.5,103.24 L312.0,103.22 L312.5,103.20 L313.0,103.18 L313.5,103.16 L314.0,103.14 L314.5,103.12 L315.0,103.10 L315.5,103.09 L316.0,103.07 L316.5,103.04 L317.0,103.02 L317.5,102.93 L318.0,103.08 L318.5,103.06 L319.0,103.05 L319.5,102.80 L320.0,102.66 L320.5,102.80 L321.0,102.79 L321.5,102.92 L322.0,102.86 L322.5,102.94 L323.0,102.92 L323.5,103.06 L324.0,102.52 L324.5,102.47 L325.0,102.97 L325.5,103.24 L326.0,102.76 L326.5,102.52 L327.0,103.11 L327.5,102.44 L328.0,102.11 L328.5,103.04 L329.0,102.93 L329.5,103.13 L330.0,102.87 L330.5,102.43 L331.0,102.77 L331.5,102.21 L332.0,102.31 L332.5,102.38 L333.0,102.86 L333.5,102.19 L334.0,102.84 L334.5,102.74 L335.0,102.70 L335.5,102.18 L336.0,102.39 L336.5,102.61 L337.0,102.54 L337.5,102.81 L338.0,102.01 L338.5,101.91 L339.0,102.17 L339.5,102.88 L340.0,102.43 L340.5,102.35 L341.0,102.64 L341.5,102.13 L342.0,102.29 L342.5,102.17 L343.0,102.25 L343.5,102.14 L344.0,102.65 L344.5,102.25 L345.0,102.14 L345.5,102.14 L346.0,101.83 L346.5,102.06 L347.0,102.32 L347.5,102.06 L348.0,101.28 L348.5,101.88 L349.0,102.29 L349.5,102.54 L350.0,102.39 L350.5,102.13 L351.0,102.41 L351.5,103.00 L352.0,102.81 L352.5,102.52 L353.0,102.73 L353.5,103.21 L354.0,102.54 L354.5,102.73 L355.0,102.78 L355.5,103.20 L356.0,102.80 L356.5,103.65 L357.0,102.74 L357.5,103.29 L358.0,103.59 L358.5,103.28 L359.0,103.56 L359.5,102.34 L360.0,102.96 L360.5,103.31 L361.0,103.36 L361.5,103.14 L362.0,103.10 L362.5,103.07 L363.0,103.10 L363.5,102.45 L364.0,102.51 L364.5,102.73 L365.0,101.77 L365.5,102.22 L366.0,102.20 L366.5,102.50 L367.0,102.37 L367.5,102.36 L368.0,101.64 L368.5,102.01 L369.0,101.23 L369.5,101.40 L370.0,100.93 L370.5,101.78 L371.0,101.62 L371.5,101.51 L372.0,101.10 L372.5,101.32 L373.0,101.30 L373.5,100.50 L374.0,100.87 L374.5,100.68 L375.0,100.87 L375.5,100.89 L376.0,100.56 L376.5,100.60 L377.0,100.57 L377.5,100.28 L378.0,100.20 L378.5,100.51 L379.0,100.32 L379.5,100.21 L380.0,99.77 L380.5,100.83 L381.0,100.37 L381.5,100.16 L382.0,100.14 L382.5,99.68 L383.0,100.24 L383.5,100.09 L384.0,100.26 L384.5,99.85 L385.0,99.69 L385.5,99.69 L386.0,99.55 L386.5,99.94 L387.0,100.03 L387.5,99.00 L388.0,99.39 L388.5,100.31 L389.0,99.49 L389.5,99.43 L390.0,100.55 L390.5,99.36 L391.0,99.46 L391.5,98.82 L392.0,99.18 L392.5,99.82 L393.0,99.40 L393.5,99.23 L394.0,99.41 L394.5,98.76 L395.0,98.88 L395.5,98.65 L396.0,98.90 L396.5,99.27 L397.0,98.87 L397.5,98.66 L398.0,98.55 L398.5,98.55 L399.0,98.49 L399.5,98.37 L400.0,98.35 L400.5,98.28 L401.0,98.21 L401.5,98.15 L402.0,98.09 L402.5,98.03 L403.0,97.98 L403.5,97.93 L404.0,97.88 L404.5,97.84 L405.0,97.80 L405.5,97.76 L406.0,97.73 L406.5,97.69 L407.0,97.65 L407.5,97.61 L408.0,97.58 L408.5,97.54 L409.0,97.50 L409.5,97.46 L410.0,97.43 L410.5,97.39 L411.0,97.36 L411.5,97.33 L412.0,97.29 L412.5,97.26 L413.0,97.23 L413.5,97.20 L414.0,97.18 L414.5,97.15 L415.0,97.13 L415.5,97.10 L416.0,97.08 L416.5,97.06 L417.0,97.05 L417.5,97.03 L418.0,97.02 L418.5,97.01 L419.0,97.01 L419.5,97.00 L420.0,97.00 L420.5,97.00 L421.0,97.00 L421.5,97.01 L422.0,97.02 L422.5,97.03 L423.0,97.04 L423.5,97.05 L424.0,97.07 L424.5,97.08 L425.0,97.10 L425.5,97.13 L426.0,97.16 L426.5,97.22 L427.0,97.28 L427.5,97.35 L428.0,97.43 L428.5,97.52 L429.0,97.61 L429.5,97.70 L430.0,97.80 L430.5,97.91 L431.0,98.03 L431.5,98.17 L432.0,98.33 L432.5,98.49 L433.0,98.66 L433.5,98.82 L434.0,98.99 L434.5,99.15 L435.0,99.30 L435.5,99.44 L436.0,99.56 L436.5,99.68 L437.0,99.80 L437.5,99.92 L438.0,100.04 L438.5,100.18 L439.0,100.33 L439.5,100.50 L440.0,100.70 L440.5,100.95 L441.0,101.28 L441.5,101.66 L442.0,102.07 L442.5,102.49 L443.0,102.90 L443.5,103.30 L444.0,103.72 L444.5,104.16 L445.0,104.60 L445.5,105.05 L446.0,105.50 L446.5,105.99 L447.0,106.51 L447.5,107.04 L448.0,107.55 L448.5,108.02 L449.0,108.40 L449.5,108.76 L450.0,109.04 L450.5,109.06 L451.0,108.66 L451.5,108.01 L452.0,107.30 L452.5,106.51 L453.0,105.54 L453.5,104.47 L454.0,103.38 L454.5,102.36 L455.0,101.50 L455.5,100.76 L456.0,100.05 L456.5,99.39 L457.0,98.78 L457.5,98.25 L458.0,97.80 L458.5,97.41 L459.0,97.06 L459.5,96.74 L460.0,96.46 L460.5,96.21 L461.0,96.00 L461.5,95.82 L462.0,95.64 L462.5,95.49 L463.0,95.34 L463.5,95.21 L464.0,95.10 L464.5,94.99 L465.0,94.90 L465.5,94.81 L466.0,94.73 L466.5,94.65 L467.0,94.57 L467.5,94.49 L468.0,94.43 L468.5,94.38 L469.0,94.34 L469.5,94.31 L470.0,94.30 L470.5,94.30 L471.0,94.30 L471.5,94.31 L472.0,94.31 L472.5,94.32 L473.0,94.33 L473.5,94.34 L474.0,94.36 L474.5,94.37 L475.0,94.38 L475.5,94.40 L476.0,94.42 L476.5,94.44 L477.0,94.46 L477.5,94.48 L478.0,94.50 L478.5,94.53 L479.0,94.55 L479.5,94.57 L480.0,94.60 L480.5,94.63 L481.0,94.68 L481.5,94.74 L482.0,94.81 L482.5,94.89 L483.0,94.98 L483.5,95.08 L484.0,95.19 L484.5,95.30 L485.0,95.42 L485.5,95.54 L486.0,95.66 L486.5,95.78 L487.0,95.91 L487.5,96.03 L488.0,96.15 L488.5,96.27 L489.0,96.39 L489.5,96.50 L490.0,96.60 L490.5,96.70 L491.0,96.80 L491.5,96.90 L492.0,97.00 L492.5,97.10 L493.0,97.20 L493.5,97.30 L494.0,97.40 L494.5,97.50 L495.0,97.60 L495.5,97.70 L496.0,97.80 L496.5,97.90 L497.0,98.00 L497.5,98.10 L498.0,98.20 L498.5,98.30 L499.0,98.40 L499.5,98.50 L500.0,98.60 L500.5,98.70 L501.0,98.82 L501.5,98.94 L502.0,99.06 L502.5,99.19 L503.0,99.33 L503.5,99.46 L504.0,99.59 L504.5,99.72 L505.0,99.85 L505.5,99.97 L506.0,100.09 L506.5,100.20 L507.0,100.29 L507.5,100.38 L508.0,100.46 L508.5,100.52 L509.0,100.56 L509.5,100.59 L510.0,100.60 L510.5,100.56 L511.0,100.45 L511.5,100.28 L512.0,100.07 L512.5,99.83 L513.0,99.56 L513.5,99.30 L514.0,99.04 L514.5,98.80 L515.0,98.60 L515.5,98.40 L516.0,98.18 L516.5,97.96 L517.0,97.78 L517.5,97.65 L518.0,97.60 L518.5,97.77 L519.0,98.22 L519.5,98.87 L520.0,99.60 L520.5,100.33 L521.0,100.97 L521.5,101.43 L522.0,101.60 L522.5,101.50 L523.0,101.24 L523.5,100.86 L524.0,100.40 L524.5,99.90 L525.0,99.41 L525.5,98.96 L526.0,98.60 L526.5,98.32 L527.0,98.09 L527.5,97.87 L528.0,97.66 L528.5,97.45 L529.0,97.21 L529.5,96.93 L530.0,96.60 L530.5,96.16 L531.0,95.61 L531.5,94.99" stroke="#9466E8" stroke-width="2.2" fill="none" stroke-linejoin="round"/>
<path d="M495.4,97.68V114.68M59.0,110.87V116.87M74.0,112.05V122.05M39.1,108.16V107.54M40.4,107.84V110.32M41.2,108.13V111.02M42.7,108.36V110.71M43.7,108.24V109.42M44.9,109.86V111.32M45.8,108.80V110.04M46.4,108.65V113.36M47.5,109.80V111.93M48.3,108.46V112.68M49.0,109.16V108.34M50.1,109.46V108.47M51.3,109.78V114.43M55.1,109.58V112.01M56.4,109.32V112.85M57.6,110.93V114.00M58.8,110.20V110.72M59.6,110.08V111.10M60.6,110.13V112.74M61.2,110.11V110.75M62.2,110.20V111.86M64.0,111.40V113.21M65.2,111.78V110.56M66.1,110.39V115.41M67.4,110.42V112.62M68.7,111.91V116.46M70.5,110.79V113.98M71.5,111.38V113.55M72.3,111.21V112.02M73.4,110.92V112.69M74.4,111.55V113.35M75.6,111.88V113.21M76.6,111.96V109.97M77.9,112.14V113.74M78.6,110.98V114.48M79.4,112.06V112.81M80.6,112.00V114.15M81.8,111.50V114.05M83.4,111.45V113.34M84.3,111.43V113.20M85.1,112.08V111.02M86.3,112.30V116.91M87.1,111.59V109.62M87.8,113.07V116.87M89.5,112.23V110.53M90.5,113.19V113.90M91.8,111.96V114.78M93.0,112.71V110.89M93.8,112.33V116.26M94.7,112.67V117.65M97.0,113.09V111.77M98.2,113.14V116.67M100.6,113.11V114.67M101.5,112.94V113.48M102.4,112.73V112.25M320.2,102.72V103.56M321.6,102.91V103.71M324.4,102.48V103.04M325.9,102.88V104.33M326.9,102.97V106.67M328.2,102.40V104.05M329.1,102.96V104.42M330.4,102.50V105.70M331.4,102.34V105.59M332.5,102.37V105.45M334.1,102.81V104.74M335.4,102.28V103.61M337.0,102.54V103.62M337.9,102.11V104.94M339.5,102.84V103.70M340.7,102.44V107.40M343.7,102.33V103.32M345.0,102.14V105.98M346.3,101.99V103.18M347.5,102.07V106.31M348.5,101.89V112.94M349.7,102.49V103.51M350.8,102.27V103.82M352.6,102.55V107.60M354.2,102.63V116.76M355.2,102.96V112.40M356.9,102.85V105.27M358.8,103.43V111.09M360.2,103.09V121.54M361.3,103.24V119.11M362.4,103.08V110.05M363.4,102.58V106.03M364.5,102.64V112.26M366.4,102.46V103.32M367.4,102.36V108.12M369.3,101.32V111.62M371.0,101.61V109.72M374.3,100.74V107.88M376.8,100.58V104.32M378.7,100.45V109.50M380.3,100.32V104.41M381.9,100.15V101.80M383.1,100.22V105.79M384.2,100.14V110.69M385.3,99.69V103.58M387.1,99.76V101.89M388.6,100.13V104.59M389.9,100.42V101.37M391.4,99.00V103.15M392.7,99.67V102.62M393.8,99.35V100.54M360.5,103.31V116.11M354.0,102.54V112.94M373.6,100.58V108.58M380.9,100.46V106.86M357.5,103.29V112.09" stroke="#9466E8" stroke-width="1.5" fill="none"/>
<path d="M38.5,142.32 L39.0,142.54 L39.5,141.74 L40.0,142.81 L40.5,142.04 L41.0,141.24 L41.5,141.90 L42.0,142.78 L42.5,142.61 L43.0,141.58 L43.5,142.83 L44.0,142.34 L44.5,142.71 L45.0,142.65 L45.5,141.62 L46.0,142.69 L46.5,142.03 L47.0,143.54 L47.5,142.98 L48.0,142.51 L48.5,141.80 L49.0,142.54 L49.5,142.63 L50.0,141.68 L50.5,144.09 L51.0,142.82 L51.5,143.74 L52.0,141.79 L52.5,143.72 L53.0,141.64 L53.5,142.14 L54.0,142.99 L54.5,142.66 L55.0,140.98 L55.5,141.87 L56.0,143.24 L56.5,144.13 L57.0,143.32 L57.5,142.50 L58.0,143.26 L58.5,141.91 L59.0,143.08 L59.5,141.79 L60.0,142.74 L60.5,142.67 L61.0,143.33 L61.5,142.57 L62.0,143.64 L62.5,142.67 L63.0,143.41 L63.5,143.39 L64.0,141.56 L64.5,142.89 L65.0,142.90 L65.5,142.34 L66.0,143.02 L66.5,141.89 L67.0,143.31 L67.5,143.29 L68.0,143.16 L68.5,144.69 L69.0,143.22 L69.5,143.03 L70.0,142.49 L70.5,143.22 L71.0,142.35 L71.5,143.93 L72.0,142.60 L72.5,143.18 L73.0,144.48 L73.5,143.92 L74.0,143.29 L74.5,144.10 L75.0,143.12 L75.5,143.73 L76.0,143.21 L76.5,142.58 L77.0,143.53 L77.5,143.90 L78.0,143.03 L78.5,142.52 L79.0,142.94 L79.5,141.66 L80.0,142.93 L80.5,142.62 L81.0,144.81 L81.5,143.02 L82.0,142.35 L82.5,144.07 L83.0,143.36 L83.5,143.53 L84.0,143.65 L84.5,143.69 L85.0,143.30 L85.5,144.25 L86.0,143.97 L86.5,143.28 L87.0,143.53 L87.5,143.01 L88.0,143.89 L88.5,144.23 L89.0,144.19 L89.5,144.19 L90.0,143.69 L90.5,144.91 L91.0,143.68 L91.5,143.86 L92.0,143.63 L92.5,143.94 L93.0,143.74 L93.5,145.35 L94.0,144.24 L94.5,142.78 L95.0,143.68 L95.5,143.01 L96.0,144.63 L96.5,145.00 L97.0,143.74 L97.5,144.50 L98.0,143.94 L98.5,144.39 L99.0,145.33 L99.5,143.89 L100.0,143.28 L100.5,144.66 L101.0,144.53 L101.5,144.66 L102.0,144.92 L102.5,143.73 L103.0,142.84 L103.5,144.96 L104.0,143.96 L104.5,143.44 L105.0,143.51 L105.5,144.96 L106.0,144.38 L106.5,144.45 L107.0,144.73 L107.5,143.95 L108.0,143.77 L108.5,143.92 L109.0,143.85 L109.5,144.19 L110.0,143.99 L110.5,144.31 L111.0,144.16 L111.5,144.27 L112.0,144.44 L112.5,144.56 L113.0,144.54 L113.5,144.27 L114.0,144.27 L114.5,144.18 L115.0,144.27 L115.5,144.24 L116.0,144.17 L116.5,144.15 L117.0,144.13 L117.5,144.11 L118.0,144.09 L118.5,144.06 L119.0,144.03 L119.5,144.01 L120.0,143.98 L120.5,143.95 L121.0,143.92 L121.5,143.88 L122.0,143.85 L122.5,143.82 L123.0,143.78 L123.5,143.75 L124.0,143.71 L124.5,143.68 L125.0,143.64 L125.5,143.60 L126.0,143.57 L126.5,143.53 L127.0,143.49 L127.5,143.45 L128.0,143.41 L128.5,143.37 L129.0,143.33 L129.5,143.29 L130.0,143.25 L130.5,143.21 L131.0,143.17 L131.5,143.13 L132.0,143.09 L132.5,143.05 L133.0,143.01 L133.5,142.97 L134.0,142.93 L134.5,142.90 L135.0,142.86 L135.5,142.82 L136.0,142.78 L136.5,142.74 L137.0,142.71 L137.5,142.67 L138.0,142.64 L138.5,142.60 L139.0,142.57 L139.5,142.53 L140.0,142.50 L140.5,142.47 L141.0,142.44 L141.5,142.40 L142.0,142.37 L142.5,142.34 L143.0,142.30 L143.5,142.27 L144.0,142.24 L144.5,142.20 L145.0,142.17 L145.5,142.14 L146.0,142.10 L146.5,142.07 L147.0,142.03 L147.5,142.00 L148.0,141.97 L148.5,141.93 L149.0,141.90 L149.5,141.86 L150.0,141.83 L150.5,141.79 L151.0,141.76 L151.5,141.72 L152.0,141.69 L152.5,141.65 L153.0,141.62 L153.5,141.58 L154.0,141.55 L154.5,141.51 L155.0,141.48 L155.5,141.44 L156.0,141.40 L156.5,141.37 L157.0,141.33 L157.5,141.30 L158.0,141.26 L158.5,141.23 L159.0,141.19 L159.5,141.15 L160.0,141.12 L160.5,141.08 L161.0,141.05 L161.5,141.01 L162.0,140.98 L162.5,140.94 L163.0,140.90 L163.5,140.87 L164.0,140.83 L164.5,140.80 L165.0,140.76 L165.5,140.73 L166.0,140.69 L166.5,140.66 L167.0,140.62 L167.5,140.58 L168.0,140.55 L168.5,140.51 L169.0,140.48 L169.5,140.44 L170.0,140.41 L170.5,140.37 L171.0,140.34 L171.5,140.30 L172.0,140.27 L172.5,140.23 L173.0,140.20 L173.5,140.17 L174.0,140.13 L174.5,140.10 L175.0,140.06 L175.5,140.03 L176.0,139.99 L176.5,139.96 L177.0,139.93 L177.5,139.89 L178.0,139.86 L178.5,139.82 L179.0,139.79 L179.5,139.75 L180.0,139.72 L180.5,139.69 L181.0,139.65 L181.5,139.62 L182.0,139.58 L182.5,139.55 L183.0,139.52 L183.5,139.48 L184.0,139.45 L184.5,139.42 L185.0,139.38 L185.5,139.35 L186.0,139.31 L186.5,139.28 L187.0,139.25 L187.5,139.21 L188.0,139.18 L188.5,139.14 L189.0,139.11 L189.5,139.08 L190.0,139.04 L190.5,139.01 L191.0,138.98 L191.5,138.94 L192.0,138.91 L192.5,138.87 L193.0,138.84 L193.5,138.81 L194.0,138.77 L194.5,138.74 L195.0,138.71 L195.5,138.67 L196.0,138.64 L196.5,138.61 L197.0,138.57 L197.5,138.54 L198.0,138.50 L198.5,138.47 L199.0,138.44 L199.5,138.40 L200.0,138.37 L200.5,138.34 L201.0,138.30 L201.5,138.27 L202.0,138.23 L202.5,138.20 L203.0,138.17 L203.5,138.13 L204.0,138.10 L204.5,138.06 L205.0,138.03 L205.5,138.00 L206.0,137.96 L206.5,137.93 L207.0,137.89 L207.5,137.86 L208.0,137.83 L208.5,137.79 L209.0,137.76 L209.5,137.72 L210.0,137.69 L210.5,137.66 L211.0,137.62 L211.5,137.59 L212.0,137.55 L212.5,137.52 L213.0,137.48 L213.5,137.45 L214.0,137.42 L214.5,137.38 L215.0,137.35 L215.5,137.31 L216.0,137.28 L216.5,137.24 L217.0,137.21 L217.5,137.17 L218.0,137.14 L218.5,137.10 L219.0,137.07 L219.5,137.03 L220.0,137.00 L220.5,136.97 L221.0,136.93 L221.5,136.90 L222.0,136.86 L222.5,136.83 L223.0,136.79 L223.5,136.76 L224.0,136.73 L224.5,136.69 L225.0,136.66 L225.5,136.62 L226.0,136.59 L226.5,136.56 L227.0,136.52 L227.5,136.49 L228.0,136.46 L228.5,136.42 L229.0,136.39 L229.5,136.36 L230.0,136.32 L230.5,136.29 L231.0,136.26 L231.5,136.23 L232.0,136.19 L232.5,136.16 L233.0,136.13 L233.5,136.09 L234.0,136.06 L234.5,136.03 L235.0,135.99 L235.5,135.96 L236.0,135.92 L236.5,135.89 L237.0,135.86 L237.5,135.82 L238.0,135.79 L238.5,135.75 L239.0,135.72 L239.5,135.69 L240.0,135.65 L240.5,135.62 L241.0,135.58 L241.5,135.55 L242.0,135.51 L242.5,135.48 L243.0,135.44 L243.5,135.40 L244.0,135.37 L244.5,135.33 L245.0,135.29 L245.5,135.26 L246.0,135.22 L246.5,135.18 L247.0,135.15 L247.5,135.11 L248.0,135.07 L248.5,135.03 L249.0,134.99 L249.5,134.95 L250.0,134.91 L250.5,134.87 L251.0,134.83 L251.5,134.79 L252.0,134.75 L252.5,134.71 L253.0,134.67 L253.5,134.63 L254.0,134.59 L254.5,134.54 L255.0,134.50 L255.5,134.46 L256.0,134.41 L256.5,134.36 L257.0,134.32 L257.5,134.27 L258.0,134.22 L258.5,134.17 L259.0,134.12 L259.5,134.07 L260.0,134.02 L260.5,134.01 L261.0,134.16 L261.5,134.82 L262.0,136.48 L262.5,139.22 L263.0,141.94 L263.5,142.89 L264.0,141.61 L264.5,139.60 L265.0,138.67 L265.5,139.24 L266.0,140.41 L266.5,141.11 L267.0,140.78 L267.5,139.56 L268.0,137.99 L268.5,136.56 L269.0,135.47 L269.5,134.70 L270.0,134.12 L270.5,133.67 L271.0,133.31 L271.5,133.04 L272.0,132.85 L272.5,132.71 L273.0,132.62 L273.5,132.55 L274.0,132.50 L274.5,132.45 L275.0,132.40 L275.5,132.36 L276.0,132.31 L276.5,132.26 L277.0,132.22 L277.5,132.17 L278.0,132.12 L278.5,132.08 L279.0,132.03 L279.5,131.98 L280.0,131.93 L280.5,131.88 L281.0,131.83 L281.5,131.78 L282.0,131.73 L282.5,131.68 L283.0,131.63 L283.5,131.58 L284.0,131.53 L284.5,131.48 L285.0,131.43 L285.5,131.38 L286.0,131.33 L286.5,131.28 L287.0,131.23 L287.5,131.19 L288.0,131.14 L288.5,131.09 L289.0,131.04 L289.5,130.99 L290.0,130.94 L290.5,130.90 L291.0,130.85 L291.5,130.80 L292.0,130.76 L292.5,130.71 L293.0,130.67 L293.5,130.63 L294.0,130.58 L294.5,130.54 L295.0,130.50 L295.5,130.46 L296.0,130.42 L296.5,130.38 L297.0,130.34 L297.5,130.30 L298.0,130.27 L298.5,130.23 L299.0,130.20 L299.5,130.17 L300.0,130.14 L300.5,130.10 L301.0,130.08 L301.5,130.05 L302.0,130.02 L302.5,130.00 L303.0,129.97 L303.5,129.95 L304.0,129.93 L304.5,129.91 L305.0,129.89 L305.5,129.87 L306.0,129.86 L306.5,129.84 L307.0,129.83 L307.5,129.82 L308.0,129.81 L308.5,129.81 L309.0,129.80 L309.5,129.80 L310.0,129.80 L310.5,129.80 L311.0,129.80 L311.5,129.80 L312.0,129.80 L312.5,129.80 L313.0,129.80 L313.5,129.80 L314.0,129.80 L314.5,129.80 L315.0,129.80 L315.5,129.80 L316.0,129.80 L316.5,129.81 L317.0,129.89 L317.5,129.80 L318.0,129.61 L318.5,129.92 L319.0,129.66 L319.5,129.95 L320.0,129.85 L320.5,129.67 L321.0,129.69 L321.5,129.63 L322.0,130.02 L322.5,129.54 L323.0,129.70 L323.5,129.59 L324.0,129.58 L324.5,130.06 L325.0,130.22 L325.5,129.68 L326.0,129.86 L326.5,130.14 L327.0,130.08 L327.5,129.63 L328.0,130.09 L328.5,129.84 L329.0,129.36 L329.5,129.67 L330.0,129.47 L330.5,129.99 L331.0,130.06 L331.5,130.13 L332.0,129.72 L332.5,129.61 L333.0,129.69 L333.5,129.80 L334.0,129.55 L334.5,129.90 L335.0,130.10 L335.5,129.16 L336.0,130.06 L336.5,130.06 L337.0,129.31 L337.5,131.22 L338.0,130.04 L338.5,129.84 L339.0,129.18 L339.5,129.78 L340.0,129.73 L340.5,129.89 L341.0,129.53 L341.5,129.33 L342.0,129.30 L342.5,129.76 L343.0,129.41 L343.5,129.77 L344.0,130.25 L344.5,129.11 L345.0,129.59 L345.5,130.45 L346.0,129.86 L346.5,130.34 L347.0,129.80 L347.5,130.31 L348.0,130.15 L348.5,130.21 L349.0,129.46 L349.5,130.38 L350.0,129.97 L350.5,129.83 L351.0,130.33 L351.5,129.90 L352.0,129.76 L352.5,130.25 L353.0,130.64 L353.5,130.22 L354.0,130.63 L354.5,130.96 L355.0,130.51 L355.5,130.54 L356.0,130.38 L356.5,130.47 L357.0,130.67 L357.5,129.86 L358.0,130.82 L358.5,131.40 L359.0,130.81 L359.5,130.77 L360.0,130.50 L360.5,130.93 L361.0,130.55 L361.5,131.27 L362.0,130.72 L362.5,130.69 L363.0,130.53 L363.5,130.17 L364.0,129.32 L364.5,129.96 L365.0,130.26 L365.5,129.22 L366.0,129.95 L366.5,129.83 L367.0,129.77 L367.5,129.52 L368.0,129.43 L368.5,129.11 L369.0,129.54 L369.5,128.55 L370.0,128.53 L370.5,128.49 L371.0,128.43 L371.5,128.91 L372.0,128.49 L372.5,128.80 L373.0,127.98 L373.5,128.21 L374.0,128.03 L374.5,128.27 L375.0,128.26 L375.5,128.22 L376.0,127.86 L376.5,128.49 L377.0,127.88 L377.5,128.24 L378.0,128.51 L378.5,128.34 L379.0,127.39 L379.5,128.42 L380.0,127.70 L380.5,127.97 L381.0,127.74 L381.5,127.66 L382.0,127.66 L382.5,127.77 L383.0,127.86 L383.5,127.20 L384.0,126.90 L384.5,127.30 L385.0,126.95 L385.5,127.06 L386.0,127.76 L386.5,127.53 L387.0,127.01 L387.5,127.03 L388.0,127.02 L388.5,127.02 L389.0,127.07 L389.5,127.16 L390.0,127.41 L390.5,126.97 L391.0,126.37 L391.5,126.99 L392.0,126.87 L392.5,126.71 L393.0,127.13 L393.5,126.13 L394.0,126.35 L394.5,126.44 L395.0,127.11 L395.5,126.36 L396.0,126.45 L396.5,126.58 L397.0,126.46 L397.5,126.08 L398.0,126.35 L398.5,126.25 L399.0,126.26 L399.5,126.22 L400.0,126.14 L400.5,126.09 L401.0,126.04 L401.5,125.99 L402.0,125.94 L402.5,125.90 L403.0,125.85 L403.5,125.81 L404.0,125.77 L404.5,125.74 L405.0,125.70 L405.5,125.67 L406.0,125.63 L406.5,125.60 L407.0,125.56 L407.5,125.52 L408.0,125.49 L408.5,125.45 L409.0,125.41 L409.5,125.38 L410.0,125.34 L410.5,125.31 L411.0,125.27 L411.5,125.24 L412.0,125.20 L412.5,125.17 L413.0,125.14 L413.5,125.11 L414.0,125.08 L414.5,125.06 L415.0,125.03 L415.5,125.01 L416.0,124.99 L416.5,124.97 L417.0,124.95 L417.5,124.94 L418.0,124.92 L418.5,124.91 L419.0,124.91 L419.5,124.90 L420.0,124.90 L420.5,124.90 L421.0,124.91 L421.5,124.92 L422.0,124.94 L422.5,124.96 L423.0,124.99 L423.5,125.01 L424.0,125.04 L424.5,125.07 L425.0,125.10 L425.5,125.13 L426.0,125.18 L426.5,125.22 L427.0,125.28 L427.5,125.34 L428.0,125.40 L428.5,125.47 L429.0,125.54 L429.5,125.62 L430.0,125.70 L430.5,125.79 L431.0,125.89 L431.5,126.00 L432.0,126.12 L432.5,126.25 L433.0,126.38 L433.5,126.51 L434.0,126.65 L434.5,126.78 L435.0,126.90 L435.5,127.01 L436.0,127.11 L436.5,127.21 L437.0,127.30 L437.5,127.40 L438.0,127.50 L438.5,127.62 L439.0,127.76 L439.5,127.91 L440.0,128.10 L440.5,128.38 L441.0,128.80 L441.5,129.31 L442.0,129.86 L442.5,130.41 L443.0,130.90 L443.5,131.34 L444.0,131.77 L444.5,132.19 L445.0,132.62 L445.5,133.05 L446.0,133.50 L446.5,133.99 L447.0,134.51 L447.5,135.04 L448.0,135.55 L448.5,136.02 L449.0,136.40 L449.5,136.76 L450.0,137.04 L450.5,137.06 L451.0,136.64 L451.5,135.98 L452.0,135.30 L452.5,134.65 L453.0,133.93 L453.5,133.17 L454.0,132.39 L454.5,131.63 L455.0,130.90 L455.5,130.18 L456.0,129.43 L456.5,128.69 L457.0,127.99 L457.5,127.39 L458.0,126.90 L458.5,126.50 L459.0,126.13 L459.5,125.79 L460.0,125.51 L460.5,125.27 L461.0,125.10 L461.5,124.97 L462.0,124.85 L462.5,124.75 L463.0,124.66 L463.5,124.58 L464.0,124.51 L464.5,124.45 L465.0,124.40 L465.5,124.35 L466.0,124.31 L466.5,124.27 L467.0,124.23 L467.5,124.19 L468.0,124.16 L468.5,124.14 L469.0,124.12 L469.5,124.10 L470.0,124.10 L470.5,124.10 L471.0,124.10 L471.5,124.11 L472.0,124.12 L472.5,124.13 L473.0,124.14 L473.5,124.16 L474.0,124.17 L474.5,124.19 L475.0,124.21 L475.5,124.24 L476.0,124.26 L476.5,124.28 L477.0,124.31 L477.5,124.34 L478.0,124.37 L478.5,124.40 L479.0,124.43 L479.5,124.47 L480.0,124.50 L480.5,124.54 L481.0,124.61 L481.5,124.69 L482.0,124.78 L482.5,124.89 L483.0,125.01 L483.5,125.14 L484.0,125.28 L484.5,125.43 L485.0,125.58 L485.5,125.74 L486.0,125.91 L486.5,126.07 L487.0,126.24 L487.5,126.41 L488.0,126.58 L488.5,126.74 L489.0,126.90 L489.5,127.05 L490.0,127.20 L490.5,127.34 L491.0,127.49 L491.5,127.63 L492.0,127.78 L492.5,127.92 L493.0,128.07 L493.5,128.22 L494.0,128.36 L494.5,128.51 L495.0,128.66 L495.5,128.81 L496.0,128.96 L496.5,129.12 L497.0,129.27 L497.5,129.42 L498.0,129.58 L498.5,129.73 L499.0,129.89 L499.5,130.04 L500.0,130.20 L500.5,130.36 L501.0,130.53 L501.5,130.70 L502.0,130.88 L502.5,131.07 L503.0,131.25 L503.5,131.44 L504.0,131.63 L504.5,131.82 L505.0,132.00 L505.5,132.19 L506.0,132.37 L506.5,132.54 L507.0,132.71 L507.5,132.86 L508.0,133.01 L508.5,133.15 L509.0,133.28 L509.5,133.40 L510.0,133.50 L510.5,133.60 L511.0,133.70 L511.5,133.77 L512.0,133.80 L512.5,133.58 L513.0,133.04 L513.5,132.39 L514.0,131.81 L514.5,131.51 L515.0,131.52 L515.5,131.58 L516.0,131.68 L516.5,131.82 L517.0,131.99 L517.5,132.19 L518.0,132.40 L518.5,132.70 L519.0,133.13 L519.5,133.70 L520.0,134.38 L520.5,135.15 L521.0,136.00 L521.5,137.57 L522.0,138.70 L522.5,138.28 L523.0,137.32 L523.5,136.28 L524.0,135.60 L524.5,135.26 L525.0,134.98 L525.5,134.78 L526.0,134.70 L526.5,134.90 L527.0,135.35 L527.5,135.80 L528.0,136.00 L528.5,135.97 L529.0,135.90 L529.5,135.80 L530.0,135.70 L530.5,135.63 L531.0,135.60 L531.5,136.05" stroke="#F0559E" stroke-width="2.2" fill="none" stroke-linejoin="round"/>
<path d="M495.4,128.78V142.78M529.5,135.80V143.80M523.0,137.32V139.82M59.5,141.79V132.79M74.0,143.29V133.29M83.8,143.61V137.61M89.6,144.09V141.09M39.0,142.51V141.31M40.0,142.78V144.22M40.9,141.46V142.99M42.4,142.64V144.65M43.9,142.44V143.82M44.7,142.68V144.91M45.5,141.72V142.99M46.7,142.67V144.48M47.6,142.93V143.51M49.3,142.58V144.58M50.4,143.39V143.84M51.2,143.22V145.35M52.2,142.45V145.07M53.0,141.67V145.26M53.9,142.74V145.84M54.7,141.97V145.25M55.4,141.73V143.15M56.2,143.55V145.89M56.8,143.64V146.55M57.6,142.58V147.49M58.5,141.94V144.59M59.7,142.13V145.04M60.5,142.70V147.00M61.2,143.08V143.77M61.9,143.52V146.05M62.6,142.82V143.49M63.8,142.12V146.85M64.7,142.89V144.70M65.4,142.47V144.94M66.8,142.77V144.92M67.6,143.26V142.64M70.7,142.85V143.84M71.6,143.80V144.50M72.2,142.83V143.93M73.4,144.02V147.96M74.1,143.48V141.80M74.9,143.23V146.09M76.9,143.34V145.90M78.0,142.98V144.88M78.9,142.83V144.69M79.5,141.67V142.60M80.5,142.77V144.57M81.3,143.75V143.00M82.1,142.69V147.18M83.4,143.49V146.44M84.1,143.66V148.29M85.2,143.74V142.36M86.2,143.64V146.54M87.2,143.29V147.81M87.9,143.65V146.94M88.8,144.21V148.39M89.8,143.89V148.40M92.2,143.72V146.28M93.3,144.64V145.34M94.1,144.00V147.89M94.7,143.11V142.03M95.4,143.11V145.11M96.4,144.96V147.91M97.5,144.45V145.47M98.4,144.29V146.51M100.8,144.58V145.45M101.6,144.72V144.30M102.2,144.36V146.22M103.4,144.57V145.31M104.1,143.87V144.56M106.1,144.39V145.01M321.5,129.63V130.16M324.5,130.03V131.91M325.4,129.77V130.70M326.9,130.08V133.06M328.7,129.64V131.31M330.3,129.78V132.39M331.3,130.11V131.60M332.3,129.65V130.93M333.3,129.76V131.41M335.1,129.96V131.76M336.7,129.73V131.19M338.0,130.03V131.28M340.5,129.85V131.80M342.1,129.35V131.50M343.9,130.12V131.24M345.6,130.37V132.25M347.3,130.10V138.74M348.5,130.20V134.45M349.9,130.05V130.76M350.8,130.13V130.71M353.5,130.25V132.75M354.6,130.84V145.44M356.0,130.38V134.84M357.2,130.42V136.80M360.2,130.69V142.03M361.3,130.92V138.08M362.8,130.60V131.65M364.0,129.35V130.50M365.7,129.50V135.64M367.3,129.63V131.62M368.6,129.21V131.97M369.7,128.54V132.74M370.8,128.46V133.19M374.0,128.04V130.64M375.4,128.23V135.17M376.8,128.07V133.28M378.6,128.20V140.09M379.7,128.13V137.19M381.1,127.73V128.99M382.1,127.68V130.40M383.0,127.80V133.70M384.2,127.02V131.90M385.4,127.03V128.07M386.9,127.14V128.16M388.7,127.04V127.86M389.6,127.22V127.90M390.9,126.48V127.76M392.2,126.81V128.39M393.4,126.41V128.34M394.7,126.71V127.73M396.2,126.51V127.18M397.5,126.08V127.03M360.5,130.93V141.33M354.0,130.63V139.08M373.6,128.18V134.68M380.9,127.78V132.98M357.5,129.86V137.01" stroke="#F0559E" stroke-width="1.5" fill="none"/>
<path d="M38.5,168.85 L39.0,168.55 L39.5,170.14 L40.0,168.55 L40.5,168.81 L41.0,169.85 L41.5,168.12 L42.0,168.35 L42.5,168.91 L43.0,168.56 L43.5,167.96 L44.0,168.66 L44.5,168.57 L45.0,169.25 L45.5,167.67 L46.0,168.36 L46.5,169.67 L47.0,170.17 L47.5,167.82 L48.0,169.35 L48.5,168.22 L49.0,168.32 L49.5,168.32 L50.0,168.65 L50.5,169.65 L51.0,169.46 L51.5,169.02 L52.0,168.74 L52.5,169.00 L53.0,168.94 L53.5,169.58 L54.0,168.60 L54.5,169.05 L55.0,169.00 L55.5,169.04 L56.0,169.27 L56.5,169.24 L57.0,170.05 L57.5,169.07 L58.0,170.24 L58.5,168.95 L59.0,168.84 L59.5,169.26 L60.0,169.45 L60.5,169.40 L61.0,170.13 L61.5,170.04 L62.0,169.60 L62.5,169.04 L63.0,169.22 L63.5,170.29 L64.0,169.47 L64.5,168.41 L65.0,168.86 L65.5,168.96 L66.0,170.18 L66.5,169.32 L67.0,170.99 L67.5,169.88 L68.0,169.53 L68.5,169.15 L69.0,170.15 L69.5,169.32 L70.0,168.92 L70.5,169.91 L71.0,169.54 L71.5,170.38 L72.0,169.52 L72.5,167.59 L73.0,170.16 L73.5,168.31 L74.0,170.73 L74.5,170.95 L75.0,169.39 L75.5,168.90 L76.0,168.76 L76.5,170.37 L77.0,169.65 L77.5,169.39 L78.0,169.67 L78.5,171.33 L79.0,170.13 L79.5,170.44 L80.0,170.49 L80.5,170.68 L81.0,170.74 L81.5,169.53 L82.0,169.90 L82.5,169.55 L83.0,169.61 L83.5,170.94 L84.0,169.81 L84.5,170.14 L85.0,169.74 L85.5,169.84 L86.0,170.83 L86.5,170.00 L87.0,170.00 L87.5,170.71 L88.0,170.74 L88.5,170.98 L89.0,170.57 L89.5,169.25 L90.0,170.95 L90.5,170.88 L91.0,171.28 L91.5,170.00 L92.0,172.38 L92.5,169.78 L93.0,171.18 L93.5,170.73 L94.0,170.38 L94.5,171.32 L95.0,170.58 L95.5,169.16 L96.0,170.00 L96.5,171.17 L97.0,172.43 L97.5,169.85 L98.0,170.90 L98.5,171.95 L99.0,171.38 L99.5,170.71 L100.0,170.00 L100.5,169.77 L101.0,170.51 L101.5,170.79 L102.0,169.49 L102.5,169.89 L103.0,171.31 L103.5,170.82 L104.0,170.59 L104.5,170.86 L105.0,170.62 L105.5,171.72 L106.0,172.12 L106.5,172.32 L107.0,171.55 L107.5,171.56 L108.0,171.87 L108.5,171.96 L109.0,171.80 L109.5,171.66 L110.0,170.98 L110.5,170.69 L111.0,171.45 L111.5,171.17 L112.0,171.17 L112.5,171.00 L113.0,170.94 L113.5,171.36 L114.0,171.20 L114.5,171.04 L115.0,171.14 L115.5,171.11 L116.0,171.08 L116.5,171.06 L117.0,171.04 L117.5,171.02 L118.0,171.00 L118.5,170.98 L119.0,170.95 L119.5,170.92 L120.0,170.90 L120.5,170.87 L121.0,170.84 L121.5,170.81 L122.0,170.78 L122.5,170.75 L123.0,170.72 L123.5,170.69 L124.0,170.65 L124.5,170.62 L125.0,170.58 L125.5,170.55 L126.0,170.51 L126.5,170.48 L127.0,170.44 L127.5,170.40 L128.0,170.37 L128.5,170.33 L129.0,170.29 L129.5,170.26 L130.0,170.22 L130.5,170.18 L131.0,170.14 L131.5,170.10 L132.0,170.07 L132.5,170.03 L133.0,169.99 L133.5,169.95 L134.0,169.92 L134.5,169.88 L135.0,169.84 L135.5,169.81 L136.0,169.77 L136.5,169.73 L137.0,169.70 L137.5,169.66 L138.0,169.63 L138.5,169.60 L139.0,169.56 L139.5,169.53 L140.0,169.50 L140.5,169.47 L141.0,169.44 L141.5,169.41 L142.0,169.37 L142.5,169.34 L143.0,169.31 L143.5,169.27 L144.0,169.24 L144.5,169.21 L145.0,169.17 L145.5,169.14 L146.0,169.11 L146.5,169.07 L147.0,169.04 L147.5,169.00 L148.0,168.97 L148.5,168.93 L149.0,168.90 L149.5,168.86 L150.0,168.83 L150.5,168.79 L151.0,168.75 L151.5,168.72 L152.0,168.68 L152.5,168.65 L153.0,168.61 L153.5,168.57 L154.0,168.54 L154.5,168.50 L155.0,168.46 L155.5,168.43 L156.0,168.39 L156.5,168.35 L157.0,168.32 L157.5,168.28 L158.0,168.24 L158.5,168.21 L159.0,168.17 L159.5,168.13 L160.0,168.10 L160.5,168.06 L161.0,168.03 L161.5,167.99 L162.0,167.95 L162.5,167.92 L163.0,167.88 L163.5,167.85 L164.0,167.81 L164.5,167.77 L165.0,167.74 L165.5,167.70 L166.0,167.67 L166.5,167.63 L167.0,167.60 L167.5,167.56 L168.0,167.53 L168.5,167.50 L169.0,167.46 L169.5,167.43 L170.0,167.40 L170.5,167.36 L171.0,167.33 L171.5,167.30 L172.0,167.26 L172.5,167.23 L173.0,167.20 L173.5,167.17 L174.0,167.14 L174.5,167.11 L175.0,167.07 L175.5,167.04 L176.0,167.01 L176.5,166.98 L177.0,166.95 L177.5,166.92 L178.0,166.89 L178.5,166.86 L179.0,166.83 L179.5,166.79 L180.0,166.76 L180.5,166.73 L181.0,166.70 L181.5,166.67 L182.0,166.64 L182.5,166.61 L183.0,166.58 L183.5,166.55 L184.0,166.52 L184.5,166.49 L185.0,166.46 L185.5,166.43 L186.0,166.40 L186.5,166.37 L187.0,166.34 L187.5,166.31 L188.0,166.28 L188.5,166.25 L189.0,166.22 L189.5,166.19 L190.0,166.16 L190.5,166.13 L191.0,166.10 L191.5,166.07 L192.0,166.05 L192.5,166.02 L193.0,165.99 L193.5,165.96 L194.0,165.93 L194.5,165.90 L195.0,165.87 L195.5,165.84 L196.0,165.81 L196.5,165.79 L197.0,165.76 L197.5,165.73 L198.0,165.70 L198.5,165.67 L199.0,165.64 L199.5,165.62 L200.0,165.59 L200.5,165.56 L201.0,165.53 L201.5,165.50 L202.0,165.47 L202.5,165.45 L203.0,165.42 L203.5,165.39 L204.0,165.36 L204.5,165.34 L205.0,165.31 L205.5,165.28 L206.0,165.25 L206.5,165.22 L207.0,165.20 L207.5,165.17 L208.0,165.14 L208.5,165.12 L209.0,165.09 L209.5,165.06 L210.0,165.03 L210.5,165.01 L211.0,164.98 L211.5,164.95 L212.0,164.93 L212.5,164.90 L213.0,164.87 L213.5,164.84 L214.0,164.82 L214.5,164.79 L215.0,164.76 L215.5,164.74 L216.0,164.71 L216.5,164.68 L217.0,164.66 L217.5,164.63 L218.0,164.61 L218.5,164.58 L219.0,164.55 L219.5,164.53 L220.0,164.50 L220.5,164.47 L221.0,164.45 L221.5,164.42 L222.0,164.39 L222.5,164.37 L223.0,164.34 L223.5,164.32 L224.0,164.29 L224.5,164.26 L225.0,164.24 L225.5,164.21 L226.0,164.18 L226.5,164.16 L227.0,164.13 L227.5,164.10 L228.0,164.08 L228.5,164.05 L229.0,164.02 L229.5,164.00 L230.0,163.97 L230.5,163.94 L231.0,163.92 L231.5,163.89 L232.0,163.86 L232.5,163.84 L233.0,163.81 L233.5,163.79 L234.0,163.76 L234.5,163.73 L235.0,163.71 L235.5,163.68 L236.0,163.66 L236.5,163.63 L237.0,163.60 L237.5,163.58 L238.0,163.55 L238.5,163.53 L239.0,163.50 L239.5,163.48 L240.0,163.45 L240.5,163.43 L241.0,163.41 L241.5,163.38 L242.0,163.36 L242.5,163.33 L243.0,163.31 L243.5,163.29 L244.0,163.26 L244.5,163.24 L245.0,163.22 L245.5,163.19 L246.0,163.17 L246.5,163.15 L247.0,163.12 L247.5,163.10 L248.0,163.08 L248.5,163.06 L249.0,163.04 L249.5,163.02 L250.0,163.00 L250.5,162.97 L251.0,162.95 L251.5,162.93 L252.0,162.91 L252.5,162.89 L253.0,162.87 L253.5,162.86 L254.0,162.84 L254.5,162.82 L255.0,162.80 L255.5,162.78 L256.0,162.76 L256.5,162.75 L257.0,162.73 L257.5,162.71 L258.0,162.70 L258.5,162.68 L259.0,162.67 L259.5,162.65 L260.0,162.64 L260.5,162.67 L261.0,162.86 L261.5,163.56 L262.0,165.26 L262.5,168.05 L263.0,170.80 L263.5,171.80 L264.0,170.56 L264.5,168.59 L265.0,167.71 L265.5,168.31 L266.0,169.53 L266.5,170.27 L267.0,169.98 L267.5,168.81 L268.0,167.28 L268.5,165.89 L269.0,164.84 L269.5,164.11 L270.0,163.58 L270.5,163.16 L271.0,162.84 L271.5,162.61 L272.0,162.45 L272.5,162.35 L273.0,162.30 L273.5,162.26 L274.0,162.24 L274.5,162.22 L275.0,162.20 L275.5,162.18 L276.0,162.17 L276.5,162.15 L277.0,162.14 L277.5,162.12 L278.0,162.10 L278.5,162.09 L279.0,162.07 L279.5,162.05 L280.0,162.03 L280.5,162.02 L281.0,162.00 L281.5,161.98 L282.0,161.96 L282.5,161.95 L283.0,161.93 L283.5,161.91 L284.0,161.89 L284.5,161.88 L285.0,161.86 L285.5,161.84 L286.0,161.82 L286.5,161.80 L287.0,161.79 L287.5,161.77 L288.0,161.75 L288.5,161.73 L289.0,161.71 L289.5,161.69 L290.0,161.68 L290.5,161.66 L291.0,161.64 L291.5,161.62 L292.0,161.60 L292.5,161.59 L293.0,161.57 L293.5,161.55 L294.0,161.53 L294.5,161.51 L295.0,161.50 L295.5,161.48 L296.0,161.46 L296.5,161.44 L297.0,161.42 L297.5,161.41 L298.0,161.39 L298.5,161.37 L299.0,161.35 L299.5,161.34 L300.0,161.32 L300.5,161.30 L301.0,161.28 L301.5,161.27 L302.0,161.25 L302.5,161.23 L303.0,161.22 L303.5,161.20 L304.0,161.18 L304.5,161.17 L305.0,161.15 L305.5,161.14 L306.0,161.12 L306.5,161.10 L307.0,161.09 L307.5,161.07 L308.0,161.06 L308.5,161.04 L309.0,161.03 L309.5,161.01 L310.0,161.00 L310.5,160.99 L311.0,160.97 L311.5,160.96 L312.0,160.94 L312.5,160.93 L313.0,160.92 L313.5,160.91 L314.0,160.89 L314.5,160.88 L315.0,160.87 L315.5,160.85 L316.0,160.84 L316.5,160.88 L317.0,160.77 L317.5,160.73 L318.0,160.90 L318.5,160.66 L319.0,160.59 L319.5,160.93 L320.0,160.69 L320.5,160.59 L321.0,160.50 L321.5,160.41 L322.0,160.78 L322.5,160.63 L323.0,160.45 L323.5,161.41 L324.0,160.88 L324.5,160.20 L325.0,160.74 L325.5,160.37 L326.0,160.42 L326.5,161.26 L327.0,161.04 L327.5,160.67 L328.0,160.94 L328.5,160.03 L329.0,160.78 L329.5,160.79 L330.0,160.25 L330.5,159.90 L331.0,160.68 L331.5,160.56 L332.0,160.42 L332.5,160.46 L333.0,160.46 L333.5,160.73 L334.0,160.91 L334.5,160.22 L335.0,160.82 L335.5,160.20 L336.0,160.09 L336.5,160.24 L337.0,160.54 L337.5,160.48 L338.0,160.28 L338.5,159.92 L339.0,160.61 L339.5,160.15 L340.0,160.24 L340.5,159.96 L341.0,160.85 L341.5,160.08 L342.0,159.75 L342.5,160.51 L343.0,160.21 L343.5,160.52 L344.0,160.52 L344.5,159.62 L345.0,160.15 L345.5,161.07 L346.0,160.45 L346.5,160.47 L347.0,160.67 L347.5,160.78 L348.0,160.39 L348.5,160.73 L349.0,160.73 L349.5,160.59 L350.0,160.55 L350.5,160.88 L351.0,160.80 L351.5,160.41 L352.0,160.35 L352.5,160.86 L353.0,160.91 L353.5,161.51 L354.0,161.08 L354.5,161.14 L355.0,161.08 L355.5,161.36 L356.0,161.48 L356.5,161.78 L357.0,161.27 L357.5,161.67 L358.0,161.84 L358.5,160.94 L359.0,161.66 L359.5,161.24 L360.0,161.36 L360.5,161.43 L361.0,161.39 L361.5,161.15 L362.0,161.47 L362.5,161.54 L363.0,161.18 L363.5,160.82 L364.0,160.96 L364.5,161.61 L365.0,161.15 L365.5,160.67 L366.0,160.37 L366.5,160.73 L367.0,160.62 L367.5,161.22 L368.0,159.81 L368.5,160.41 L369.0,160.53 L369.5,160.46 L370.0,159.51 L370.5,160.08 L371.0,159.88 L371.5,159.90 L372.0,159.86 L372.5,159.40 L373.0,159.77 L373.5,159.23 L374.0,158.96 L374.5,159.23 L375.0,159.47 L375.5,159.94 L376.0,159.18 L376.5,159.80 L377.0,158.96 L377.5,159.00 L378.0,158.68 L378.5,159.13 L379.0,159.12 L379.5,159.39 L380.0,158.94 L380.5,159.11 L381.0,158.59 L381.5,158.92 L382.0,159.57 L382.5,158.59 L383.0,158.93 L383.5,159.21 L384.0,159.11 L384.5,158.78 L385.0,158.65 L385.5,158.37 L386.0,159.22 L386.5,158.18 L387.0,158.60 L387.5,158.28 L388.0,158.46 L388.5,158.18 L389.0,158.57 L389.5,158.86 L390.0,158.34 L390.5,158.50 L391.0,158.54 L391.5,158.31 L392.0,159.02 L392.5,158.04 L393.0,158.13 L393.5,158.59 L394.0,158.29 L394.5,158.13 L395.0,158.46 L395.5,157.51 L396.0,158.09 L396.5,158.22 L397.0,157.68 L397.5,158.25 L398.0,157.83 L398.5,157.76 L399.0,157.69 L399.5,157.60 L400.0,157.54 L400.5,157.47 L401.0,157.41 L401.5,157.36 L402.0,157.30 L402.5,157.24 L403.0,157.19 L403.5,157.14 L404.0,157.09 L404.5,157.04 L405.0,157.00 L405.5,156.96 L406.0,156.92 L406.5,156.87 L407.0,156.83 L407.5,156.78 L408.0,156.74 L408.5,156.69 L409.0,156.65 L409.5,156.60 L410.0,156.56 L410.5,156.51 L411.0,156.47 L411.5,156.43 L412.0,156.39 L412.5,156.35 L413.0,156.31 L413.5,156.27 L414.0,156.23 L414.5,156.20 L415.0,156.17 L415.5,156.14 L416.0,156.11 L416.5,156.09 L417.0,156.06 L417.5,156.05 L418.0,156.03 L418.5,156.02 L419.0,156.01 L419.5,156.00 L420.0,156.00 L420.5,156.00 L421.0,156.01 L421.5,156.02 L422.0,156.03 L422.5,156.05 L423.0,156.07 L423.5,156.09 L424.0,156.12 L424.5,156.15 L425.0,156.18 L425.5,156.21 L426.0,156.25 L426.5,156.29 L427.0,156.33 L427.5,156.37 L428.0,156.41 L428.5,156.46 L429.0,156.50 L429.5,156.55 L430.0,156.60 L430.5,156.65 L431.0,156.71 L431.5,156.79 L432.0,156.87 L432.5,156.95 L433.0,157.05 L433.5,157.15 L434.0,157.27 L434.5,157.39 L435.0,157.51 L435.5,157.65 L436.0,157.79 L436.5,157.94 L437.0,158.10 L437.5,158.29 L438.0,158.51 L438.5,158.78 L439.0,159.07 L439.5,159.37 L440.0,159.68 L440.5,160.00 L441.0,160.30 L441.5,160.59 L442.0,160.88 L442.5,161.17 L443.0,161.49 L443.5,161.82 L444.0,162.20 L444.5,162.62 L445.0,163.07 L445.5,163.58 L446.0,164.13 L446.5,164.74 L447.0,165.40 L447.5,166.33 L448.0,167.57 L448.5,168.92 L449.0,170.15 L449.5,171.05 L450.0,171.40 L450.5,171.07 L451.0,170.22 L451.5,169.03 L452.0,167.71 L452.5,166.43 L453.0,165.40 L453.5,164.57 L454.0,163.77 L454.5,163.00 L455.0,162.28 L455.5,161.61 L456.0,161.00 L456.5,160.43 L457.0,159.89 L457.5,159.38 L458.0,158.91 L458.5,158.48 L459.0,158.10 L459.5,157.75 L460.0,157.40 L460.5,157.07 L461.0,156.76 L461.5,156.48 L462.0,156.24 L462.5,156.04 L463.0,155.90 L463.5,155.79 L464.0,155.69 L464.5,155.60 L465.0,155.52 L465.5,155.45 L466.0,155.39 L466.5,155.33 L467.0,155.28 L467.5,155.24 L468.0,155.20 L468.5,155.17 L469.0,155.13 L469.5,155.10 L470.0,155.07 L470.5,155.04 L471.0,155.02 L471.5,154.99 L472.0,154.97 L472.5,154.95 L473.0,154.93 L473.5,154.92 L474.0,154.91 L474.5,154.90 L475.0,154.90 L475.5,154.91 L476.0,154.93 L476.5,154.96 L477.0,155.01 L477.5,155.07 L478.0,155.13 L478.5,155.21 L479.0,155.29 L479.5,155.38 L480.0,155.48 L480.5,155.58 L481.0,155.68 L481.5,155.79 L482.0,155.90 L482.5,156.03 L483.0,156.20 L483.5,156.40 L484.0,156.62 L484.5,156.87 L485.0,157.13 L485.5,157.39 L486.0,157.66 L486.5,157.92 L487.0,158.16 L487.5,158.39 L488.0,158.60 L488.5,158.79 L489.0,158.98 L489.5,159.16 L490.0,159.34 L490.5,159.51 L491.0,159.68 L491.5,159.85 L492.0,160.02 L492.5,160.18 L493.0,160.34 L493.5,160.50 L494.0,160.66 L494.5,160.82 L495.0,160.97 L495.5,161.12 L496.0,161.28 L496.5,161.43 L497.0,161.58 L497.5,161.73 L498.0,161.89 L498.5,162.04 L499.0,162.19 L499.5,162.34 L500.0,162.50 L500.5,162.66 L501.0,162.84 L501.5,163.02 L502.0,163.21 L502.5,163.41 L503.0,163.61 L503.5,163.81 L504.0,164.00 L504.5,164.20 L505.0,164.39 L505.5,164.57 L506.0,164.74 L506.5,164.90 L507.0,165.05 L507.5,165.18 L508.0,165.29 L508.5,165.38 L509.0,165.44 L509.5,165.49 L510.0,165.50 L510.5,165.42 L511.0,165.20 L511.5,164.88 L512.0,164.46 L512.5,164.00 L513.0,163.50 L513.5,163.00 L514.0,162.54 L514.5,162.12 L515.0,161.80 L515.5,161.58 L516.0,161.50 L516.5,161.54 L517.0,161.65 L517.5,161.83 L518.0,162.07 L518.5,162.36 L519.0,162.71 L519.5,163.09 L520.0,163.50 L520.5,164.37 L521.0,165.71 L521.5,166.96 L522.0,167.50 L522.5,167.40 L523.0,167.14 L523.5,166.76 L524.0,166.30 L524.5,165.80 L525.0,165.31 L525.5,164.86 L526.0,164.50 L526.5,164.21 L527.0,163.95 L527.5,163.70 L528.0,163.46 L528.5,163.23 L529.0,163.00 L529.5,162.76 L530.0,162.50 L530.5,162.23 L531.0,161.95 L531.5,161.67" stroke="#26A836" stroke-width="2.2" fill="none" stroke-linejoin="round"/>
<path d="M495.4,161.09V173.09M59.5,169.26V164.26M74.0,170.73V163.73M39.3,169.62V168.85M41.2,168.99V170.59M42.5,168.91V170.85M43.6,168.05V170.12M44.8,168.93V169.91M45.9,168.24V169.27M46.6,169.78V171.12M47.8,168.71V171.65M48.8,168.27V169.75M49.5,168.32V170.14M50.6,169.62V172.47M51.5,169.03V169.47M53.4,169.46V172.44M54.1,168.67V169.56M55.3,169.03V171.18M56.5,169.32V170.16M57.6,169.34V172.04M58.8,168.89V172.39M60.4,169.42V172.09M61.5,170.05V169.34M62.2,169.37V170.90M64.3,168.75V170.26M65.6,169.22V168.34M68.2,169.40V171.78M68.9,169.94V171.89M69.6,169.27V172.10M70.2,169.34V172.17M71.4,170.19V170.80M72.6,168.21V171.59M73.2,169.28V170.71M74.3,170.86V170.23M75.3,169.14V171.89M76.1,169.19V167.74M77.3,169.47V170.01M78.6,171.19V172.14M79.3,170.33V173.80M80.4,170.66V172.55M81.5,169.54V171.17M82.5,169.55V171.29M84.3,169.99V171.51M85.5,169.83V170.76M86.5,170.00V171.90M87.2,170.26V172.85M87.9,170.74V171.87M89.6,169.49V171.67M90.3,170.90V173.12M91.4,170.18V171.60M92.3,170.86V172.65M94.0,170.43V173.31M95.2,170.00V170.73M95.9,169.88V172.32M96.9,172.14V174.81M98.2,171.26V172.69M99.3,171.04V172.12M100.1,169.93V170.69M101.1,170.57V172.23M103.5,170.83V171.85M104.4,170.83V171.44M105.3,171.30V171.72M106.4,172.27V172.69M326.0,160.50V161.10M327.6,160.72V162.58M328.5,160.05V160.96M331.2,160.63V162.71M332.9,160.46V161.93M333.9,160.86V161.85M337.1,160.53V161.76M338.7,160.22V162.85M340.2,160.11V162.23M342.4,160.33V161.85M343.4,160.48V161.00M344.9,160.05V163.36M346.8,160.57V165.58M348.4,160.68V164.51M350.0,160.56V164.31M350.9,160.82V166.99M352.2,160.53V167.37M354.1,161.09V163.22M355.9,161.46V168.94M357.1,161.33V163.37M358.8,161.40V162.15M360.5,161.43V162.69M361.7,161.28V166.97M363.5,160.83V166.47M365.3,160.87V167.20M366.7,160.68V163.69M367.9,160.02V161.71M369.0,160.52V163.39M370.9,159.94V160.47M372.4,159.46V163.32M374.0,158.97V165.89M375.6,159.74V161.27M377.0,158.99V163.43M378.1,158.80V162.66M379.5,159.38V165.53M380.4,159.09V160.13M381.4,158.85V159.49M383.0,158.90V160.08M384.3,158.93V165.61M385.5,158.42V159.66M387.1,158.54V159.19M389.0,158.53V160.39M390.7,158.52V160.40M391.6,158.51V161.24M392.6,158.05V159.80M394.0,158.29V158.79M360.5,161.43V168.63M354.0,161.08V166.93M373.6,159.18V163.68M380.9,158.70V162.30M357.5,161.67V166.62" stroke="#26A836" stroke-width="1.5" fill="none"/>
<path d="M38.5,200.89 L39.0,201.33 L39.5,201.10 L40.0,200.33 L40.5,199.21 L41.0,201.57 L41.5,201.71 L42.0,199.85 L42.5,202.04 L43.0,200.58 L43.5,202.71 L44.0,201.27 L44.5,200.61 L45.0,201.69 L45.5,200.89 L46.0,200.89 L46.5,200.84 L47.0,200.67 L47.5,201.21 L48.0,201.32 L48.5,200.99 L49.0,202.00 L49.5,199.77 L50.0,200.39 L50.5,201.28 L51.0,199.87 L51.5,201.78 L52.0,201.17 L52.5,200.54 L53.0,201.03 L53.5,200.24 L54.0,199.61 L54.5,201.24 L55.0,201.29 L55.5,200.71 L56.0,200.60 L56.5,199.13 L57.0,200.03 L57.5,200.28 L58.0,200.77 L58.5,201.57 L59.0,200.24 L59.5,200.05 L60.0,201.27 L60.5,200.51 L61.0,199.64 L61.5,201.45 L62.0,200.00 L62.5,200.21 L63.0,199.88 L63.5,200.86 L64.0,201.36 L64.5,200.34 L65.0,200.89 L65.5,200.28 L66.0,202.25 L66.5,201.67 L67.0,200.20 L67.5,200.99 L68.0,201.28 L68.5,200.92 L69.0,200.10 L69.5,200.51 L70.0,201.14 L70.5,200.94 L71.0,200.04 L71.5,200.95 L72.0,199.93 L72.5,199.15 L73.0,200.77 L73.5,201.32 L74.0,200.97 L74.5,201.69 L75.0,201.89 L75.5,200.91 L76.0,200.22 L76.5,200.64 L77.0,199.66 L77.5,200.66 L78.0,200.62 L78.5,200.81 L79.0,201.46 L79.5,199.21 L80.0,201.23 L80.5,200.33 L81.0,201.26 L81.5,200.83 L82.0,199.99 L82.5,201.33 L83.0,200.20 L83.5,201.09 L84.0,200.32 L84.5,200.40 L85.0,200.82 L85.5,202.07 L86.0,201.23 L86.5,200.73 L87.0,201.91 L87.5,200.78 L88.0,200.55 L88.5,200.08 L89.0,200.88 L89.5,200.85 L90.0,200.29 L90.5,199.43 L91.0,200.68 L91.5,200.86 L92.0,200.50 L92.5,200.11 L93.0,200.03 L93.5,200.45 L94.0,201.74 L94.5,200.90 L95.0,199.65 L95.5,201.24 L96.0,200.48 L96.5,202.43 L97.0,200.58 L97.5,200.76 L98.0,200.93 L98.5,201.00 L99.0,200.84 L99.5,200.84 L100.0,200.65 L100.5,200.41 L101.0,200.54 L101.5,199.97 L102.0,200.43 L102.5,200.33 L103.0,200.49 L103.5,200.48 L104.0,200.69 L104.5,201.08 L105.0,200.58 L105.5,200.83 L106.0,200.92 L106.5,200.59 L107.0,200.68 L107.5,200.93 L108.0,199.95 L108.5,201.02 L109.0,200.54 L109.5,199.32 L110.0,200.90 L110.5,200.32 L111.0,200.96 L111.5,200.43 L112.0,200.63 L112.5,200.81 L113.0,200.52 L113.5,200.50 L114.0,200.63 L114.5,200.75 L115.0,200.68 L115.5,200.65 L116.0,200.60 L116.5,200.59 L117.0,200.57 L117.5,200.56 L118.0,200.55 L118.5,200.54 L119.0,200.53 L119.5,200.51 L120.0,200.50 L120.5,200.49 L121.0,200.47 L121.5,200.45 L122.0,200.43 L122.5,200.40 L123.0,200.38 L123.5,200.35 L124.0,200.32 L124.5,200.29 L125.0,200.25 L125.5,200.22 L126.0,200.18 L126.5,200.14 L127.0,200.10 L127.5,200.06 L128.0,200.01 L128.5,199.97 L129.0,199.92 L129.5,199.87 L130.0,199.83 L130.5,199.78 L131.0,199.73 L131.5,199.68 L132.0,199.63 L132.5,199.57 L133.0,199.52 L133.5,199.47 L134.0,199.42 L134.5,199.36 L135.0,199.31 L135.5,199.26 L136.0,199.21 L136.5,199.15 L137.0,199.10 L137.5,199.05 L138.0,199.00 L138.5,198.95 L139.0,198.90 L139.5,198.85 L140.0,198.80 L140.5,198.75 L141.0,198.70 L141.5,198.65 L142.0,198.60 L142.5,198.54 L143.0,198.49 L143.5,198.43 L144.0,198.38 L144.5,198.32 L145.0,198.26 L145.5,198.20 L146.0,198.15 L146.5,198.09 L147.0,198.03 L147.5,197.97 L148.0,197.91 L148.5,197.85 L149.0,197.79 L149.5,197.72 L150.0,197.66 L150.5,197.60 L151.0,197.54 L151.5,197.48 L152.0,197.43 L152.5,197.37 L153.0,197.31 L153.5,197.25 L154.0,197.19 L154.5,197.14 L155.0,197.08 L155.5,197.03 L156.0,196.98 L156.5,196.92 L157.0,196.87 L157.5,196.82 L158.0,196.78 L158.5,196.73 L159.0,196.69 L159.5,196.64 L160.0,196.60 L160.5,196.56 L161.0,196.52 L161.5,196.48 L162.0,196.44 L162.5,196.40 L163.0,196.36 L163.5,196.33 L164.0,196.29 L164.5,196.25 L165.0,196.22 L165.5,196.18 L166.0,196.15 L166.5,196.11 L167.0,196.08 L167.5,196.04 L168.0,196.01 L168.5,195.98 L169.0,195.94 L169.5,195.91 L170.0,195.88 L170.5,195.85 L171.0,195.82 L171.5,195.78 L172.0,195.75 L172.5,195.72 L173.0,195.69 L173.5,195.66 L174.0,195.63 L174.5,195.61 L175.0,195.58 L175.5,195.55 L176.0,195.52 L176.5,195.49 L177.0,195.46 L177.5,195.44 L178.0,195.41 L178.5,195.38 L179.0,195.35 L179.5,195.33 L180.0,195.30 L180.5,195.27 L181.0,195.25 L181.5,195.22 L182.0,195.20 L182.5,195.17 L183.0,195.15 L183.5,195.13 L184.0,195.10 L184.5,195.08 L185.0,195.06 L185.5,195.03 L186.0,195.01 L186.5,194.99 L187.0,194.97 L187.5,194.95 L188.0,194.93 L188.5,194.90 L189.0,194.88 L189.5,194.86 L190.0,194.84 L190.5,194.82 L191.0,194.80 L191.5,194.78 L192.0,194.76 L192.5,194.74 L193.0,194.72 L193.5,194.69 L194.0,194.67 L194.5,194.65 L195.0,194.63 L195.5,194.61 L196.0,194.59 L196.5,194.56 L197.0,194.54 L197.5,194.52 L198.0,194.50 L198.5,194.47 L199.0,194.45 L199.5,194.42 L200.0,194.40 L200.5,194.38 L201.0,194.35 L201.5,194.32 L202.0,194.30 L202.5,194.27 L203.0,194.25 L203.5,194.22 L204.0,194.19 L204.5,194.17 L205.0,194.14 L205.5,194.11 L206.0,194.09 L206.5,194.06 L207.0,194.03 L207.5,194.00 L208.0,193.98 L208.5,193.95 L209.0,193.92 L209.5,193.89 L210.0,193.86 L210.5,193.84 L211.0,193.81 L211.5,193.78 L212.0,193.75 L212.5,193.72 L213.0,193.69 L213.5,193.67 L214.0,193.64 L214.5,193.61 L215.0,193.58 L215.5,193.55 L216.0,193.52 L216.5,193.50 L217.0,193.47 L217.5,193.44 L218.0,193.41 L218.5,193.38 L219.0,193.36 L219.5,193.33 L220.0,193.30 L220.5,193.27 L221.0,193.25 L221.5,193.22 L222.0,193.19 L222.5,193.17 L223.0,193.14 L223.5,193.11 L224.0,193.09 L224.5,193.06 L225.0,193.04 L225.5,193.01 L226.0,192.99 L226.5,192.96 L227.0,192.94 L227.5,192.91 L228.0,192.89 L228.5,192.86 L229.0,192.83 L229.5,192.81 L230.0,192.78 L230.5,192.76 L231.0,192.73 L231.5,192.70 L232.0,192.68 L232.5,192.65 L233.0,192.62 L233.5,192.60 L234.0,192.57 L234.5,192.54 L235.0,192.51 L235.5,192.48 L236.0,192.45 L236.5,192.42 L237.0,192.39 L237.5,192.36 L238.0,192.33 L238.5,192.30 L239.0,192.27 L239.5,192.23 L240.0,192.20 L240.5,192.17 L241.0,192.13 L241.5,192.09 L242.0,192.05 L242.5,192.01 L243.0,191.97 L243.5,191.93 L244.0,191.88 L244.5,191.84 L245.0,191.79 L245.5,191.75 L246.0,191.70 L246.5,191.65 L247.0,191.60 L247.5,191.55 L248.0,191.51 L248.5,191.46 L249.0,191.41 L249.5,191.36 L250.0,191.31 L250.5,191.26 L251.0,191.21 L251.5,191.16 L252.0,191.11 L252.5,191.07 L253.0,191.02 L253.5,190.97 L254.0,190.93 L254.5,190.88 L255.0,190.84 L255.5,190.80 L256.0,190.75 L256.5,190.71 L257.0,190.67 L257.5,190.64 L258.0,190.60 L258.5,190.56 L259.0,190.53 L259.5,190.49 L260.0,190.46 L260.5,190.47 L261.0,190.62 L261.5,191.21 L262.0,192.71 L262.5,195.16 L263.0,197.58 L263.5,198.44 L264.0,197.30 L264.5,195.50 L265.0,194.64 L265.5,195.10 L266.0,196.11 L266.5,196.72 L267.0,196.45 L267.5,195.42 L268.0,194.09 L268.5,192.88 L269.0,191.96 L269.5,191.32 L270.0,190.84 L270.5,190.47 L271.0,190.18 L271.5,189.96 L272.0,189.81 L272.5,189.71 L273.0,189.64 L273.5,189.60 L274.0,189.57 L274.5,189.54 L275.0,189.51 L275.5,189.49 L276.0,189.46 L276.5,189.44 L277.0,189.42 L277.5,189.40 L278.0,189.38 L278.5,189.36 L279.0,189.34 L279.5,189.32 L280.0,189.30 L280.5,189.28 L281.0,189.27 L281.5,189.25 L282.0,189.24 L282.5,189.22 L283.0,189.21 L283.5,189.19 L284.0,189.18 L284.5,189.17 L285.0,189.16 L285.5,189.15 L286.0,189.13 L286.5,189.12 L287.0,189.11 L287.5,189.10 L288.0,189.09 L288.5,189.08 L289.0,189.07 L289.5,189.06 L290.0,189.05 L290.5,189.04 L291.0,189.03 L291.5,189.02 L292.0,189.01 L292.5,189.00 L293.0,188.99 L293.5,188.98 L294.0,188.97 L294.5,188.96 L295.0,188.94 L295.5,188.93 L296.0,188.92 L296.5,188.91 L297.0,188.89 L297.5,188.88 L298.0,188.86 L298.5,188.85 L299.0,188.83 L299.5,188.82 L300.0,188.80 L300.5,188.78 L301.0,188.76 L301.5,188.74 L302.0,188.72 L302.5,188.69 L303.0,188.67 L303.5,188.64 L304.0,188.61 L304.5,188.58 L305.0,188.55 L305.5,188.52 L306.0,188.49 L306.5,188.46 L307.0,188.43 L307.5,188.39 L308.0,188.36 L308.5,188.33 L309.0,188.29 L309.5,188.26 L310.0,188.22 L310.5,188.19 L311.0,188.15 L311.5,188.12 L312.0,188.08 L312.5,188.05 L313.0,188.01 L313.5,187.98 L314.0,187.94 L314.5,187.91 L315.0,187.88 L315.5,187.85 L316.0,187.82 L316.5,187.74 L317.0,187.66 L317.5,187.79 L318.0,187.72 L318.5,187.75 L319.0,188.13 L319.5,187.48 L320.0,187.69 L320.5,187.92 L321.0,187.08 L321.5,187.37 L322.0,187.70 L322.5,187.31 L323.0,187.45 L323.5,187.13 L324.0,187.77 L324.5,187.90 L325.0,186.16 L325.5,187.73 L326.0,187.10 L326.5,187.16 L327.0,187.06 L327.5,187.33 L328.0,187.21 L328.5,187.40 L329.0,186.84 L329.5,187.11 L330.0,187.85 L330.5,187.03 L331.0,187.11 L331.5,187.12 L332.0,187.67 L332.5,187.10 L333.0,187.24 L333.5,187.50 L334.0,187.01 L334.5,186.49 L335.0,187.26 L335.5,186.60 L336.0,186.58 L336.5,186.46 L337.0,186.72 L337.5,187.24 L338.0,187.07 L338.5,187.75 L339.0,187.15 L339.5,186.82 L340.0,186.66 L340.5,187.98 L341.0,187.12 L341.5,186.62 L342.0,187.01 L342.5,186.06 L343.0,187.01 L343.5,186.68 L344.0,186.54 L344.5,187.02 L345.0,187.15 L345.5,187.20 L346.0,186.70 L346.5,186.45 L347.0,187.24 L347.5,186.98 L348.0,186.51 L348.5,187.17 L349.0,186.82 L349.5,187.34 L350.0,187.03 L350.5,187.75 L351.0,187.27 L351.5,187.20 L352.0,186.99 L352.5,187.47 L353.0,187.42 L353.5,188.02 L354.0,187.49 L354.5,187.36 L355.0,188.06 L355.5,188.19 L356.0,188.14 L356.5,187.21 L357.0,187.64 L357.5,187.75 L358.0,187.81 L358.5,188.38 L359.0,188.46 L359.5,187.61 L360.0,187.89 L360.5,188.04 L361.0,187.45 L361.5,187.83 L362.0,187.41 L362.5,187.91 L363.0,187.52 L363.5,187.81 L364.0,187.55 L364.5,187.40 L365.0,187.30 L365.5,187.68 L366.0,187.64 L366.5,187.13 L367.0,186.78 L367.5,186.89 L368.0,186.90 L368.5,186.51 L369.0,186.34 L369.5,186.06 L370.0,186.11 L370.5,186.58 L371.0,185.79 L371.5,186.44 L372.0,186.33 L372.5,186.14 L373.0,185.96 L373.5,185.80 L374.0,185.27 L374.5,186.04 L375.0,185.80 L375.5,185.59 L376.0,185.05 L376.5,185.56 L377.0,185.43 L377.5,185.90 L378.0,186.06 L378.5,185.20 L379.0,185.92 L379.5,185.26 L380.0,185.00 L380.5,185.39 L381.0,184.79 L381.5,184.63 L382.0,184.68 L382.5,185.70 L383.0,185.32 L383.5,184.90 L384.0,185.34 L384.5,185.44 L385.0,185.23 L385.5,184.78 L386.0,185.25 L386.5,185.16 L387.0,184.65 L387.5,184.85 L388.0,184.81 L388.5,184.52 L389.0,184.60 L389.5,185.28 L390.0,184.83 L390.5,184.57 L391.0,184.97 L391.5,184.88 L392.0,184.97 L392.5,184.99 L393.0,184.22 L393.5,184.47 L394.0,184.37 L394.5,184.66 L395.0,184.64 L395.5,184.45 L396.0,184.66 L396.5,184.30 L397.0,183.95 L397.5,184.38 L398.0,184.27 L398.5,184.17 L399.0,184.08 L399.5,184.08 L400.0,184.05 L400.5,184.01 L401.0,183.97 L401.5,183.93 L402.0,183.90 L402.5,183.86 L403.0,183.83 L403.5,183.79 L404.0,183.76 L404.5,183.73 L405.0,183.70 L405.5,183.67 L406.0,183.64 L406.5,183.61 L407.0,183.58 L407.5,183.55 L408.0,183.52 L408.5,183.49 L409.0,183.45 L409.5,183.42 L410.0,183.39 L410.5,183.36 L411.0,183.33 L411.5,183.30 L412.0,183.27 L412.5,183.24 L413.0,183.22 L413.5,183.19 L414.0,183.16 L414.5,183.14 L415.0,183.12 L415.5,183.10 L416.0,183.08 L416.5,183.06 L417.0,183.05 L417.5,183.03 L418.0,183.02 L418.5,183.01 L419.0,183.01 L419.5,183.00 L420.0,183.00 L420.5,183.00 L421.0,183.00 L421.5,183.01 L422.0,183.01 L422.5,183.02 L423.0,183.03 L423.5,183.04 L424.0,183.05 L424.5,183.07 L425.0,183.08 L425.5,183.10 L426.0,183.12 L426.5,183.13 L427.0,183.16 L427.5,183.18 L428.0,183.20 L428.5,183.22 L429.0,183.25 L429.5,183.27 L430.0,183.30 L430.5,183.34 L431.0,183.39 L431.5,183.46 L432.0,183.54 L432.5,183.63 L433.0,183.74 L433.5,183.85 L434.0,183.96 L434.5,184.09 L435.0,184.21 L435.5,184.34 L436.0,184.46 L436.5,184.58 L437.0,184.70 L437.5,184.81 L438.0,184.92 L438.5,185.03 L439.0,185.14 L439.5,185.25 L440.0,185.36 L440.5,185.48 L441.0,185.61 L441.5,185.74 L442.0,185.89 L442.5,186.04 L443.0,186.21 L443.5,186.40 L444.0,186.60 L444.5,186.85 L445.0,187.15 L445.5,187.51 L446.0,187.91 L446.5,188.35 L447.0,188.80 L447.5,189.39 L448.0,190.17 L448.5,190.99 L449.0,191.75 L449.5,192.29 L450.0,192.50 L450.5,192.21 L451.0,191.47 L451.5,190.44 L452.0,189.29 L452.5,188.19 L453.0,187.30 L453.5,186.58 L454.0,185.88 L454.5,185.21 L455.0,184.60 L455.5,184.05 L456.0,183.60 L456.5,183.21 L457.0,182.84 L457.5,182.50 L458.0,182.21 L458.5,181.97 L459.0,181.80 L459.5,181.66 L460.0,181.53 L460.5,181.41 L461.0,181.29 L461.5,181.19 L462.0,181.09 L462.5,181.01 L463.0,180.94 L463.5,180.88 L464.0,180.84 L464.5,180.81 L465.0,180.80 L465.5,180.80 L466.0,180.80 L466.5,180.80 L467.0,180.80 L467.5,180.80 L468.0,180.80 L468.5,180.80 L469.0,180.80 L469.5,180.80 L470.0,180.80 L470.5,180.80 L471.0,180.80 L471.5,180.80 L472.0,180.80 L472.5,180.80 L473.0,180.80 L473.5,180.80 L474.0,180.80 L474.5,180.80 L475.0,180.80 L475.5,180.81 L476.0,180.82 L476.5,180.84 L477.0,180.88 L477.5,180.92 L478.0,180.97 L478.5,181.02 L479.0,181.08 L479.5,181.14 L480.0,181.21 L480.5,181.28 L481.0,181.35 L481.5,181.43 L482.0,181.50 L482.5,181.59 L483.0,181.70 L483.5,181.82 L484.0,181.97 L484.5,182.12 L485.0,182.28 L485.5,182.44 L486.0,182.61 L486.5,182.77 L487.0,182.93 L487.5,183.07 L488.0,183.20 L488.5,183.32 L489.0,183.44 L489.5,183.55 L490.0,183.67 L490.5,183.78 L491.0,183.89 L491.5,184.00 L492.0,184.10 L492.5,184.21 L493.0,184.31 L493.5,184.41 L494.0,184.51 L494.5,184.61 L495.0,184.71 L495.5,184.81 L496.0,184.91 L496.5,185.00 L497.0,185.10 L497.5,185.20 L498.0,185.30 L498.5,185.40 L499.0,185.50 L499.5,185.60 L500.0,185.70 L500.5,185.81 L501.0,185.92 L501.5,186.04 L502.0,186.17 L502.5,186.30 L503.0,186.43 L503.5,186.57 L504.0,186.70 L504.5,186.83 L505.0,186.95 L505.5,187.08 L506.0,187.19 L506.5,187.30 L507.0,187.40 L507.5,187.48 L508.0,187.56 L508.5,187.62 L509.0,187.66 L509.5,187.69 L510.0,187.70 L510.5,187.64 L511.0,187.48 L511.5,187.23 L512.0,186.92 L512.5,186.57 L513.0,186.20 L513.5,185.83 L514.0,185.48 L514.5,185.17 L515.0,184.92 L515.5,184.76 L516.0,184.70 L516.5,184.73 L517.0,184.82 L517.5,184.96 L518.0,185.15 L518.5,185.39 L519.0,185.66 L519.5,185.97 L520.0,186.30 L520.5,187.03 L521.0,188.17 L521.5,189.23 L522.0,189.70 L522.5,189.65 L523.0,189.50 L523.5,189.29 L524.0,189.01 L524.5,188.70 L525.0,188.36 L525.5,188.02 L526.0,187.70 L526.5,187.38 L527.0,187.03 L527.5,186.67 L528.0,186.28 L528.5,185.87 L529.0,185.44 L529.5,184.99 L530.0,184.53 L530.5,184.04 L531.0,183.54 L531.5,183.02" stroke="#E9A617" stroke-width="2.2" fill="none" stroke-linejoin="round"/>
<path d="M495.4,184.79V189.79M59.5,200.05V214.05M74.0,200.97V213.97M39.3,201.18V202.13M40.0,200.34V203.49M41.1,201.60V200.95M41.9,200.18V202.31M43.1,200.93V204.40M44.1,201.12V202.07M44.7,201.09V201.72M45.5,200.95V204.18M46.7,200.78V206.31M47.7,201.25V204.16M48.5,201.07V205.06M49.5,199.80V199.28M52.5,200.58V201.80M53.4,200.35V200.91M54.2,200.41V202.07M54.9,201.28V205.96M55.5,200.70V205.44M56.7,199.57V198.22M57.7,200.45V204.90M58.6,201.44V202.93M59.8,200.81V203.79M61.8,200.59V203.42M62.6,200.11V204.87M63.6,200.92V204.89M64.8,200.70V202.40M65.9,201.76V202.18M66.5,201.67V200.00M67.8,201.15V202.94M68.6,200.75V205.33M69.8,200.90V204.94M70.7,200.61V201.66M71.4,200.85V202.27M72.5,199.20V200.10M73.5,201.29V204.42M74.3,201.38V205.14M75.3,201.36V202.03M76.3,200.44V204.58M76.9,199.78V202.82M78.1,200.67V202.60M78.7,201.11V204.26M79.4,199.82V202.51M80.2,200.95V204.25M81.0,201.26V203.08M82.3,200.67V201.10M83.3,200.80V202.25M85.8,201.54V204.51M86.8,201.56V206.36M87.6,200.72V202.29M90.8,200.23V205.54M92.1,200.45V204.07M93.0,200.04V201.38M94.4,200.99V202.25M96.8,201.41V205.45M97.6,200.81V204.12M98.8,200.90V199.57M99.4,200.84V203.00M100.5,200.41V201.34M101.3,200.21V200.63M102.4,200.35V199.70M103.4,200.48V202.25M104.1,200.74V201.60M105.2,200.67V201.29M105.9,200.90V201.36M325.4,187.55V188.70M326.3,187.14V188.05M327.3,187.20V188.15M328.4,187.37V188.60M334.0,187.01V188.07M342.2,186.57V189.12M344.1,186.60V189.80M345.8,186.93V189.11M347.6,186.92V191.80M349.4,187.20V188.80M351.1,187.26V188.71M352.0,187.00V189.48M354.8,187.73V194.49M356.4,187.39V189.08M359.5,187.64V192.74M361.3,187.69V188.23M362.5,187.86V189.04M364.1,187.52V191.67M366.9,186.83V187.56M369.6,186.07V186.67M373.3,185.86V187.92M374.9,185.86V192.31M376.4,185.48V186.81M378.3,185.55V189.24M379.9,185.04V190.58M381.4,184.66V187.07M383.2,185.15V185.71M384.5,185.42V186.95M385.9,185.17V186.01M387.1,184.67V185.33M388.5,184.52V187.01M390.1,184.80V186.04M391.9,184.95V185.70M393.7,184.44V184.94M360.5,188.04V193.64M354.0,187.49V192.04M373.6,185.70V189.20M380.9,184.91V187.71M357.5,187.75V191.60" stroke="#E9A617" stroke-width="1.5" fill="none"/>
<path d="M38.5,229.19 L39.0,228.37 L39.5,228.59 L40.0,228.85 L40.5,228.00 L41.0,228.54 L41.5,228.52 L42.0,227.28 L42.5,229.21 L43.0,228.91 L43.5,228.04 L44.0,228.34 L44.5,228.80 L45.0,228.25 L45.5,228.25 L46.0,227.39 L46.5,228.78 L47.0,228.47 L47.5,228.56 L48.0,227.28 L48.5,229.49 L49.0,228.43 L49.5,228.04 L50.0,229.72 L50.5,228.25 L51.0,227.25 L51.5,227.97 L52.0,226.64 L52.5,228.96 L53.0,227.92 L53.5,227.68 L54.0,228.93 L54.5,227.01 L55.0,228.53 L55.5,226.69 L56.0,227.66 L56.5,227.26 L57.0,229.12 L57.5,229.31 L58.0,227.83 L58.5,228.63 L59.0,227.90 L59.5,228.41 L60.0,227.47 L60.5,226.79 L61.0,226.70 L61.5,228.22 L62.0,229.50 L62.5,228.10 L63.0,227.52 L63.5,229.21 L64.0,228.01 L64.5,227.90 L65.0,227.98 L65.5,227.69 L66.0,227.54 L66.5,226.73 L67.0,228.06 L67.5,227.62 L68.0,228.50 L68.5,227.38 L69.0,226.28 L69.5,227.53 L70.0,228.76 L70.5,227.28 L71.0,226.91 L71.5,226.67 L72.0,226.75 L72.5,227.26 L73.0,226.62 L73.5,228.48 L74.0,227.21 L74.5,227.47 L75.0,228.39 L75.5,228.42 L76.0,227.20 L76.5,227.57 L77.0,227.85 L77.5,227.19 L78.0,226.07 L78.5,227.77 L79.0,227.93 L79.5,227.59 L80.0,226.65 L80.5,227.17 L81.0,226.90 L81.5,227.11 L82.0,228.24 L82.5,228.43 L83.0,227.85 L83.5,227.79 L84.0,227.91 L84.5,227.46 L85.0,227.45 L85.5,227.08 L86.0,227.55 L86.5,229.22 L87.0,228.29 L87.5,227.50 L88.0,227.46 L88.5,227.24 L89.0,228.16 L89.5,228.23 L90.0,227.01 L90.5,228.42 L91.0,227.75 L91.5,229.21 L92.0,228.38 L92.5,229.54 L93.0,228.08 L93.5,228.27 L94.0,228.75 L94.5,229.34 L95.0,229.07 L95.5,227.88 L96.0,228.93 L96.5,228.89 L97.0,228.64 L97.5,228.55 L98.0,230.29 L98.5,228.85 L99.0,228.59 L99.5,229.69 L100.0,229.39 L100.5,229.31 L101.0,229.97 L101.5,229.84 L102.0,229.82 L102.5,230.32 L103.0,229.92 L103.5,229.37 L104.0,229.63 L104.5,229.62 L105.0,230.19 L105.5,229.48 L106.0,229.15 L106.5,230.35 L107.0,229.67 L107.5,229.48 L108.0,230.69 L108.5,230.26 L109.0,230.83 L109.5,230.48 L110.0,230.33 L110.5,230.35 L111.0,230.63 L111.5,230.72 L112.0,230.61 L112.5,230.74 L113.0,230.53 L113.5,230.80 L114.0,230.59 L114.5,230.78 L115.0,230.83 L115.5,230.82 L116.0,230.78 L116.5,230.78 L117.0,230.77 L117.5,230.76 L118.0,230.76 L118.5,230.75 L119.0,230.75 L119.5,230.74 L120.0,230.73 L120.5,230.72 L121.0,230.72 L121.5,230.71 L122.0,230.70 L122.5,230.69 L123.0,230.68 L123.5,230.66 L124.0,230.64 L124.5,230.62 L125.0,230.59 L125.5,230.57 L126.0,230.54 L126.5,230.50 L127.0,230.47 L127.5,230.43 L128.0,230.39 L128.5,230.35 L129.0,230.31 L129.5,230.27 L130.0,230.23 L130.5,230.18 L131.0,230.13 L131.5,230.09 L132.0,230.04 L132.5,229.99 L133.0,229.94 L133.5,229.89 L134.0,229.84 L134.5,229.80 L135.0,229.75 L135.5,229.70 L136.0,229.65 L136.5,229.60 L137.0,229.56 L137.5,229.51 L138.0,229.47 L138.5,229.42 L139.0,229.38 L139.5,229.34 L140.0,229.30 L140.5,229.26 L141.0,229.22 L141.5,229.19 L142.0,229.15 L142.5,229.11 L143.0,229.07 L143.5,229.03 L144.0,229.00 L144.5,228.96 L145.0,228.92 L145.5,228.88 L146.0,228.85 L146.5,228.81 L147.0,228.77 L147.5,228.73 L148.0,228.70 L148.5,228.66 L149.0,228.62 L149.5,228.58 L150.0,228.55 L150.5,228.51 L151.0,228.47 L151.5,228.43 L152.0,228.40 L152.5,228.36 L153.0,228.32 L153.5,228.29 L154.0,228.25 L154.5,228.21 L155.0,228.17 L155.5,228.14 L156.0,228.10 L156.5,228.06 L157.0,228.02 L157.5,227.99 L158.0,227.95 L158.5,227.91 L159.0,227.87 L159.5,227.84 L160.0,227.80 L160.5,227.76 L161.0,227.72 L161.5,227.69 L162.0,227.65 L162.5,227.61 L163.0,227.57 L163.5,227.53 L164.0,227.50 L164.5,227.46 L165.0,227.42 L165.5,227.38 L166.0,227.34 L166.5,227.30 L167.0,227.27 L167.5,227.23 L168.0,227.19 L168.5,227.15 L169.0,227.11 L169.5,227.07 L170.0,227.04 L170.5,227.00 L171.0,226.96 L171.5,226.92 L172.0,226.88 L172.5,226.85 L173.0,226.81 L173.5,226.77 L174.0,226.73 L174.5,226.70 L175.0,226.66 L175.5,226.62 L176.0,226.59 L176.5,226.55 L177.0,226.51 L177.5,226.48 L178.0,226.44 L178.5,226.41 L179.0,226.37 L179.5,226.33 L180.0,226.30 L180.5,226.27 L181.0,226.23 L181.5,226.20 L182.0,226.16 L182.5,226.13 L183.0,226.10 L183.5,226.07 L184.0,226.03 L184.5,226.00 L185.0,225.97 L185.5,225.94 L186.0,225.91 L186.5,225.88 L187.0,225.85 L187.5,225.82 L188.0,225.79 L188.5,225.76 L189.0,225.73 L189.5,225.70 L190.0,225.66 L190.5,225.63 L191.0,225.60 L191.5,225.57 L192.0,225.54 L192.5,225.51 L193.0,225.48 L193.5,225.45 L194.0,225.41 L194.5,225.38 L195.0,225.35 L195.5,225.32 L196.0,225.28 L196.5,225.25 L197.0,225.22 L197.5,225.18 L198.0,225.15 L198.5,225.11 L199.0,225.07 L199.5,225.04 L200.0,225.00 L200.5,224.96 L201.0,224.92 L201.5,224.88 L202.0,224.84 L202.5,224.80 L203.0,224.76 L203.5,224.71 L204.0,224.67 L204.5,224.63 L205.0,224.58 L205.5,224.53 L206.0,224.49 L206.5,224.44 L207.0,224.40 L207.5,224.35 L208.0,224.30 L208.5,224.25 L209.0,224.20 L209.5,224.16 L210.0,224.11 L210.5,224.06 L211.0,224.01 L211.5,223.96 L212.0,223.92 L212.5,223.87 L213.0,223.82 L213.5,223.77 L214.0,223.73 L214.5,223.68 L215.0,223.63 L215.5,223.59 L216.0,223.54 L216.5,223.50 L217.0,223.45 L217.5,223.41 L218.0,223.36 L218.5,223.32 L219.0,223.28 L219.5,223.24 L220.0,223.20 L220.5,223.16 L221.0,223.12 L221.5,223.08 L222.0,223.05 L222.5,223.01 L223.0,222.97 L223.5,222.93 L224.0,222.90 L224.5,222.86 L225.0,222.82 L225.5,222.79 L226.0,222.75 L226.5,222.72 L227.0,222.68 L227.5,222.65 L228.0,222.61 L228.5,222.58 L229.0,222.54 L229.5,222.51 L230.0,222.47 L230.5,222.44 L231.0,222.41 L231.5,222.37 L232.0,222.34 L232.5,222.30 L233.0,222.27 L233.5,222.24 L234.0,222.20 L234.5,222.17 L235.0,222.14 L235.5,222.10 L236.0,222.07 L236.5,222.04 L237.0,222.00 L237.5,221.97 L238.0,221.94 L238.5,221.90 L239.0,221.87 L239.5,221.83 L240.0,221.80 L240.5,221.77 L241.0,221.73 L241.5,221.69 L242.0,221.66 L242.5,221.62 L243.0,221.59 L243.5,221.55 L244.0,221.51 L244.5,221.47 L245.0,221.44 L245.5,221.40 L246.0,221.36 L246.5,221.32 L247.0,221.28 L247.5,221.25 L248.0,221.21 L248.5,221.17 L249.0,221.13 L249.5,221.10 L250.0,221.06 L250.5,221.03 L251.0,220.99 L251.5,220.96 L252.0,220.92 L252.5,220.89 L253.0,220.86 L253.5,220.83 L254.0,220.80 L254.5,220.77 L255.0,220.74 L255.5,220.72 L256.0,220.69 L256.5,220.67 L257.0,220.64 L257.5,220.62 L258.0,220.60 L258.5,220.58 L259.0,220.56 L259.5,220.54 L260.0,220.53 L260.5,220.54 L261.0,220.66 L261.5,221.12 L262.0,222.25 L262.5,224.10 L263.0,225.93 L263.5,226.60 L264.0,225.79 L264.5,224.52 L265.0,224.00 L265.5,224.49 L266.0,225.38 L266.5,225.91 L267.0,225.70 L267.5,224.86 L268.0,223.76 L268.5,222.76 L269.0,222.02 L269.5,221.49 L270.0,221.11 L270.5,220.81 L271.0,220.58 L271.5,220.41 L272.0,220.30 L272.5,220.23 L273.0,220.18 L273.5,220.16 L274.0,220.14 L274.5,220.13 L275.0,220.11 L275.5,220.10 L276.0,220.09 L276.5,220.08 L277.0,220.07 L277.5,220.06 L278.0,220.05 L278.5,220.03 L279.0,220.02 L279.5,220.01 L280.0,220.00 L280.5,219.99 L281.0,219.98 L281.5,219.97 L282.0,219.96 L282.5,219.95 L283.0,219.94 L283.5,219.93 L284.0,219.92 L284.5,219.91 L285.0,219.90 L285.5,219.89 L286.0,219.88 L286.5,219.87 L287.0,219.86 L287.5,219.85 L288.0,219.84 L288.5,219.83 L289.0,219.82 L289.5,219.82 L290.0,219.81 L290.5,219.80 L291.0,219.79 L291.5,219.78 L292.0,219.77 L292.5,219.76 L293.0,219.75 L293.5,219.74 L294.0,219.73 L294.5,219.72 L295.0,219.71 L295.5,219.70 L296.0,219.69 L296.5,219.68 L297.0,219.67 L297.5,219.66 L298.0,219.65 L298.5,219.64 L299.0,219.62 L299.5,219.61 L300.0,219.60 L300.5,219.59 L301.0,219.57 L301.5,219.56 L302.0,219.54 L302.5,219.53 L303.0,219.51 L303.5,219.50 L304.0,219.48 L304.5,219.47 L305.0,219.45 L305.5,219.43 L306.0,219.41 L306.5,219.40 L307.0,219.38 L307.5,219.36 L308.0,219.34 L308.5,219.32 L309.0,219.30 L309.5,219.29 L310.0,219.27 L310.5,219.25 L311.0,219.23 L311.5,219.21 L312.0,219.19 L312.5,219.17 L313.0,219.15 L313.5,219.13 L314.0,219.11 L314.5,219.10 L315.0,219.08 L315.5,219.06 L316.0,219.04 L316.5,219.07 L317.0,218.92 L317.5,218.99 L318.0,218.93 L318.5,218.88 L319.0,218.95 L319.5,218.85 L320.0,218.82 L320.5,218.70 L321.0,218.97 L321.5,219.17 L322.0,219.39 L322.5,218.62 L323.0,218.42 L323.5,218.68 L324.0,218.46 L324.5,219.10 L325.0,218.44 L325.5,218.74 L326.0,218.23 L326.5,218.56 L327.0,218.74 L327.5,219.19 L328.0,218.40 L328.5,218.76 L329.0,217.89 L329.5,218.18 L330.0,218.30 L330.5,218.40 L331.0,218.71 L331.5,218.76 L332.0,217.97 L332.5,218.70 L333.0,218.11 L333.5,219.13 L334.0,218.58 L334.5,218.51 L335.0,218.38 L335.5,218.42 L336.0,218.41 L336.5,218.15 L337.0,218.64 L337.5,218.46 L338.0,218.61 L338.5,218.32 L339.0,218.56 L339.5,218.04 L340.0,219.54 L340.5,218.03 L341.0,218.11 L341.5,218.59 L342.0,218.68 L342.5,217.96 L343.0,217.65 L343.5,217.73 L344.0,217.87 L344.5,217.94 L345.0,218.16 L345.5,218.59 L346.0,218.61 L346.5,218.03 L347.0,218.45 L347.5,218.59 L348.0,218.80 L348.5,218.28 L349.0,218.11 L349.5,218.67 L350.0,218.98 L350.5,218.32 L351.0,219.23 L351.5,219.21 L352.0,218.57 L352.5,218.18 L353.0,218.58 L353.5,218.73 L354.0,219.10 L354.5,218.39 L355.0,219.89 L355.5,219.91 L356.0,218.89 L356.5,218.54 L357.0,219.17 L357.5,219.41 L358.0,219.76 L358.5,219.55 L359.0,219.23 L359.5,218.61 L360.0,219.46 L360.5,219.55 L361.0,219.11 L361.5,219.26 L362.0,219.18 L362.5,218.96 L363.0,218.56 L363.5,219.00 L364.0,218.30 L364.5,219.19 L365.0,218.28 L365.5,218.66 L366.0,218.13 L366.5,218.41 L367.0,218.10 L367.5,218.25 L368.0,217.68 L368.5,217.29 L369.0,217.66 L369.5,217.54 L370.0,217.04 L370.5,217.24 L371.0,216.82 L371.5,217.36 L372.0,217.12 L372.5,217.19 L373.0,218.03 L373.5,217.11 L374.0,217.13 L374.5,217.17 L375.0,216.85 L375.5,216.65 L376.0,217.12 L376.5,217.13 L377.0,215.71 L377.5,216.64 L378.0,216.54 L378.5,216.43 L379.0,217.03 L379.5,216.38 L380.0,216.83 L380.5,216.31 L381.0,216.33 L381.5,216.70 L382.0,216.16 L382.5,216.33 L383.0,215.97 L383.5,216.02 L384.0,216.56 L384.5,216.48 L385.0,215.85 L385.5,215.81 L386.0,217.09 L386.5,215.94 L387.0,215.83 L387.5,216.29 L388.0,215.81 L388.5,215.93 L389.0,216.34 L389.5,216.35 L390.0,215.90 L390.5,216.41 L391.0,215.87 L391.5,215.80 L392.0,215.86 L392.5,215.72 L393.0,215.98 L393.5,215.87 L394.0,215.47 L394.5,215.77 L395.0,215.53 L395.5,215.51 L396.0,215.60 L396.5,215.81 L397.0,215.62 L397.5,215.73 L398.0,215.69 L398.5,215.48 L399.0,215.41 L399.5,215.39 L400.0,215.38 L400.5,215.35 L401.0,215.31 L401.5,215.28 L402.0,215.24 L402.5,215.20 L403.0,215.16 L403.5,215.12 L404.0,215.08 L404.5,215.04 L405.0,215.00 L405.5,214.95 L406.0,214.90 L406.5,214.84 L407.0,214.78 L407.5,214.71 L408.0,214.64 L408.5,214.57 L409.0,214.49 L409.5,214.42 L410.0,214.34 L410.5,214.27 L411.0,214.21 L411.5,214.14 L412.0,214.08 L412.5,214.03 L413.0,213.99 L413.5,213.95 L414.0,213.92 L414.5,213.91 L415.0,213.90 L415.5,213.90 L416.0,213.91 L416.5,213.91 L417.0,213.92 L417.5,213.93 L418.0,213.94 L418.5,213.96 L419.0,213.98 L419.5,214.00 L420.0,214.02 L420.5,214.04 L421.0,214.06 L421.5,214.09 L422.0,214.12 L422.5,214.14 L423.0,214.17 L423.5,214.20 L424.0,214.24 L424.5,214.27 L425.0,214.30 L425.5,214.34 L426.0,214.38 L426.5,214.44 L427.0,214.50 L427.5,214.57 L428.0,214.65 L428.5,214.73 L429.0,214.82 L429.5,214.91 L430.0,215.00 L430.5,215.10 L431.0,215.22 L431.5,215.35 L432.0,215.50 L432.5,215.65 L433.0,215.81 L433.5,215.98 L434.0,216.15 L434.5,216.32 L435.0,216.50 L435.5,216.67 L436.0,216.84 L436.5,217.02 L437.0,217.19 L437.5,217.38 L438.0,217.58 L438.5,217.80 L439.0,218.04 L439.5,218.31 L440.0,218.60 L440.5,218.96 L441.0,219.41 L441.5,219.94 L442.0,220.52 L442.5,221.13 L443.0,221.76 L443.5,222.39 L444.0,223.00 L444.5,223.59 L445.0,224.19 L445.5,224.80 L446.0,225.43 L446.5,226.09 L447.0,226.80 L447.5,227.68 L448.0,228.76 L448.5,229.91 L449.0,231.00 L449.5,231.87 L450.0,232.40 L450.5,232.46 L451.0,232.08 L451.5,231.37 L452.0,230.46 L452.5,229.46 L453.0,228.50 L453.5,227.47 L454.0,226.24 L454.5,224.93 L455.0,223.62 L455.5,222.41 L456.0,221.40 L456.5,220.53 L457.0,219.70 L457.5,218.90 L458.0,218.16 L458.5,217.48 L459.0,216.87 L459.5,216.34 L460.0,215.90 L460.5,215.51 L461.0,215.15 L461.5,214.80 L462.0,214.48 L462.5,214.18 L463.0,213.91 L463.5,213.68 L464.0,213.48 L464.5,213.32 L465.0,213.20 L465.5,213.10 L466.0,213.01 L466.5,212.93 L467.0,212.85 L467.5,212.78 L468.0,212.72 L468.5,212.67 L469.0,212.63 L469.5,212.61 L470.0,212.60 L470.5,212.60 L471.0,212.61 L471.5,212.61 L472.0,212.62 L472.5,212.63 L473.0,212.65 L473.5,212.67 L474.0,212.69 L474.5,212.71 L475.0,212.73 L475.5,212.75 L476.0,212.78 L476.5,212.81 L477.0,212.84 L477.5,212.87 L478.0,212.90 L478.5,212.94 L479.0,212.99 L479.5,213.06 L480.0,213.14 L480.5,213.23 L481.0,213.33 L481.5,213.43 L482.0,213.55 L482.5,213.68 L483.0,213.81 L483.5,213.95 L484.0,214.10 L484.5,214.25 L485.0,214.40 L485.5,214.58 L486.0,214.79 L486.5,215.03 L487.0,215.29 L487.5,215.57 L488.0,215.86 L488.5,216.15 L489.0,216.45 L489.5,216.73 L490.0,217.00 L490.5,217.26 L491.0,217.53 L491.5,217.80 L492.0,218.07 L492.5,218.35 L493.0,218.62 L493.5,218.90 L494.0,219.18 L494.5,219.45 L495.0,219.73 L495.5,220.00 L496.0,220.27 L496.5,220.53 L497.0,220.79 L497.5,221.04 L498.0,221.29 L498.5,221.53 L499.0,221.76 L499.5,221.99 L500.0,222.20 L500.5,222.41 L501.0,222.64 L501.5,222.87 L502.0,223.10 L502.5,223.34 L503.0,223.57 L503.5,223.80 L504.0,224.03 L504.5,224.26 L505.0,224.47 L505.5,224.68 L506.0,224.87 L506.5,225.05 L507.0,225.21 L507.5,225.35 L508.0,225.47 L508.5,225.57 L509.0,225.64 L509.5,225.68 L510.0,225.70 L510.5,225.56 L511.0,225.19 L511.5,224.64 L512.0,223.98 L512.5,223.25 L513.0,222.52 L513.5,221.86 L514.0,221.31 L514.5,220.94 L515.0,220.80 L515.5,220.86 L516.0,221.04 L516.5,221.28 L517.0,221.58 L517.5,221.90 L518.0,222.20 L518.5,222.55 L519.0,223.01 L519.5,223.52 L520.0,224.04 L520.5,224.52 L521.0,224.92 L521.5,225.20 L522.0,225.30 L522.5,225.22 L523.0,225.00 L523.5,224.66 L524.0,224.23 L524.5,223.74 L525.0,223.22 L525.5,222.70 L526.0,222.20 L526.5,221.67 L527.0,221.06 L527.5,220.38 L528.0,219.69 L528.5,218.99 L529.0,218.33 L529.5,217.72 L530.0,217.20 L530.5,216.76 L531.0,216.36 L531.5,216.00" stroke="#1DB5E5" stroke-width="2.2" fill="none" stroke-linejoin="round"/>
<path d="M59.5,228.41V217.41M74.0,227.21V217.21M39.2,228.45V229.06M40.0,228.85V227.27M42.3,228.27V225.82M44.1,228.41V227.96M44.9,228.40V226.55M48.3,228.52V227.75M50.0,229.63V229.05M50.7,227.84V223.50M51.4,227.77V227.17M52.6,228.82V227.85M53.6,227.84V225.13M54.4,227.43V225.97M55.6,226.94V225.27M56.3,227.38V223.87M57.3,229.25V230.41M58.5,228.59V225.73M59.5,228.34V227.76M60.5,226.79V224.27M61.6,228.35V227.45M62.2,229.03V228.59M63.1,227.69V229.19M64.8,227.95V227.36M65.7,227.63V226.64M66.5,226.80V222.58M67.8,228.06V227.48M69.5,227.50V226.62M71.4,226.70V226.11M72.3,227.05V225.93M74.8,227.96V226.25M75.7,227.97V224.44M76.8,227.74V228.60M77.8,226.58V222.92M79.5,227.55V226.30M80.4,227.08V225.77M82.2,228.33V224.53M83.2,227.82V223.98M84.3,227.61V225.05M85.7,227.29V224.75M86.4,228.73V225.15M88.0,227.46V226.67M88.9,228.04V225.87M89.6,228.09V225.26M90.7,228.11V225.32M91.9,228.49V229.82M92.9,228.35V225.07M94.2,228.94V229.55M95.3,228.43V227.53M95.9,228.73V227.60M97.8,229.64V227.41M98.8,228.71V226.10M101.4,229.86V227.97M102.5,230.29V229.25M103.2,229.67V228.30M103.9,229.58V230.02M104.8,230.00V229.24M105.9,229.19V228.79M106.6,230.16V229.71M107.3,229.54V228.91M324.3,218.89V219.39M327.8,218.64V219.60M330.9,218.68V220.46M337.6,218.49V219.35M340.3,218.71V219.22M341.8,218.64V219.66M343.3,217.70V219.37M344.8,218.10V222.91M346.3,218.29V220.65M347.8,218.71V221.48M349.1,218.23V219.26M350.5,218.40V219.55M352.1,218.49V226.51M353.8,218.95V226.24M356.0,218.88V223.67M357.0,219.19V219.70M358.9,219.27V221.65M359.9,219.30V223.20M361.5,219.26V222.38M362.5,218.93V222.37M363.5,219.00V224.37M366.8,218.21V223.05M369.3,217.58V219.52M370.3,217.15V222.35M371.7,217.27V218.73M373.4,217.37V218.36M374.8,217.00V220.44M375.8,216.91V223.94M377.4,216.40V217.42M378.7,216.67V218.48M380.5,216.31V221.42M382.4,216.29V221.90M384.1,216.55V217.87M385.8,216.64V217.87M387.6,216.24V219.22M390.5,216.38V218.15M393.2,215.94V217.12M396.7,215.71V216.41M360.5,219.55V226.75M354.0,219.10V224.95M373.6,217.12V221.62M380.9,216.33V219.93M357.5,219.41V224.36" stroke="#1DB5E5" stroke-width="1.5" fill="none"/>
<path d="M38.5,253.53 L39.0,254.01 L39.5,252.36 L40.0,252.53 L40.5,251.89 L41.0,255.19 L41.5,254.71 L42.0,255.04 L42.5,254.06 L43.0,254.18 L43.5,252.67 L44.0,254.84 L44.5,252.71 L45.0,253.04 L45.5,253.24 L46.0,252.95 L46.5,254.10 L47.0,253.34 L47.5,253.45 L48.0,253.35 L48.5,254.44 L49.0,253.08 L49.5,253.38 L50.0,253.80 L50.5,252.35 L51.0,253.16 L51.5,253.87 L52.0,254.32 L52.5,253.61 L53.0,253.03 L53.5,254.51 L54.0,253.34 L54.5,253.52 L55.0,253.63 L55.5,253.46 L56.0,253.12 L56.5,253.83 L57.0,252.68 L57.5,253.15 L58.0,253.21 L58.5,252.85 L59.0,253.56 L59.5,253.60 L60.0,253.55 L60.5,253.39 L61.0,253.89 L61.5,254.69 L62.0,254.20 L62.5,251.31 L63.0,254.30 L63.5,252.19 L64.0,252.25 L64.5,253.59 L65.0,252.55 L65.5,254.59 L66.0,253.99 L66.5,252.93 L67.0,252.35 L67.5,253.73 L68.0,254.36 L68.5,253.57 L69.0,254.81 L69.5,253.87 L70.0,254.06 L70.5,253.28 L71.0,253.76 L71.5,253.33 L72.0,252.17 L72.5,255.21 L73.0,253.37 L73.5,253.54 L74.0,254.38 L74.5,253.51 L75.0,253.57 L75.5,253.70 L76.0,252.58 L76.5,254.44 L77.0,253.60 L77.5,252.90 L78.0,253.96 L78.5,253.53 L79.0,252.59 L79.5,253.34 L80.0,253.21 L80.5,253.42 L81.0,253.42 L81.5,253.63 L82.0,252.26 L82.5,253.07 L83.0,252.39 L83.5,253.36 L84.0,252.05 L84.5,251.41 L85.0,252.61 L85.5,254.66 L86.0,253.66 L86.5,252.88 L87.0,254.53 L87.5,252.62 L88.0,252.59 L88.5,253.28 L89.0,252.87 L89.5,252.57 L90.0,252.26 L90.5,252.51 L91.0,253.26 L91.5,251.57 L92.0,251.98 L92.5,253.36 L93.0,254.16 L93.5,251.07 L94.0,252.61 L94.5,253.44 L95.0,252.11 L95.5,251.83 L96.0,253.07 L96.5,251.79 L97.0,251.64 L97.5,251.72 L98.0,251.12 L98.5,250.39 L99.0,252.85 L99.5,253.20 L100.0,252.16 L100.5,251.84 L101.0,252.31 L101.5,251.81 L102.0,250.69 L102.5,251.05 L103.0,252.17 L103.5,251.58 L104.0,250.74 L104.5,250.85 L105.0,252.40 L105.5,250.84 L106.0,252.42 L106.5,252.01 L107.0,251.19 L107.5,251.54 L108.0,251.75 L108.5,251.82 L109.0,251.75 L109.5,252.16 L110.0,251.93 L110.5,251.42 L111.0,251.52 L111.5,251.31 L112.0,251.41 L112.5,251.53 L113.0,251.08 L113.5,251.49 L114.0,251.45 L114.5,251.41 L115.0,251.34 L115.5,251.38 L116.0,251.37 L116.5,251.35 L117.0,251.33 L117.5,251.31 L118.0,251.29 L118.5,251.27 L119.0,251.25 L119.5,251.22 L120.0,251.20 L120.5,251.18 L121.0,251.15 L121.5,251.13 L122.0,251.11 L122.5,251.08 L123.0,251.06 L123.5,251.03 L124.0,251.01 L124.5,250.98 L125.0,250.96 L125.5,250.93 L126.0,250.91 L126.5,250.88 L127.0,250.85 L127.5,250.83 L128.0,250.80 L128.5,250.77 L129.0,250.75 L129.5,250.72 L130.0,250.69 L130.5,250.67 L131.0,250.64 L131.5,250.61 L132.0,250.58 L132.5,250.55 L133.0,250.52 L133.5,250.49 L134.0,250.47 L134.5,250.44 L135.0,250.41 L135.5,250.38 L136.0,250.35 L136.5,250.32 L137.0,250.29 L137.5,250.26 L138.0,250.23 L138.5,250.19 L139.0,250.16 L139.5,250.13 L140.0,250.10 L140.5,250.07 L141.0,250.03 L141.5,250.00 L142.0,249.97 L142.5,249.93 L143.0,249.90 L143.5,249.86 L144.0,249.82 L144.5,249.78 L145.0,249.75 L145.5,249.71 L146.0,249.67 L146.5,249.63 L147.0,249.59 L147.5,249.55 L148.0,249.51 L148.5,249.47 L149.0,249.43 L149.5,249.39 L150.0,249.35 L150.5,249.31 L151.0,249.27 L151.5,249.23 L152.0,249.19 L152.5,249.15 L153.0,249.11 L153.5,249.07 L154.0,249.03 L154.5,248.99 L155.0,248.95 L155.5,248.92 L156.0,248.88 L156.5,248.84 L157.0,248.80 L157.5,248.77 L158.0,248.73 L158.5,248.70 L159.0,248.67 L159.5,248.63 L160.0,248.60 L160.5,248.57 L161.0,248.54 L161.5,248.51 L162.0,248.48 L162.5,248.45 L163.0,248.42 L163.5,248.39 L164.0,248.36 L164.5,248.33 L165.0,248.30 L165.5,248.27 L166.0,248.25 L166.5,248.22 L167.0,248.19 L167.5,248.16 L168.0,248.14 L168.5,248.11 L169.0,248.08 L169.5,248.06 L170.0,248.03 L170.5,248.00 L171.0,247.98 L171.5,247.95 L172.0,247.92 L172.5,247.90 L173.0,247.87 L173.5,247.85 L174.0,247.82 L174.5,247.79 L175.0,247.77 L175.5,247.74 L176.0,247.71 L176.5,247.69 L177.0,247.66 L177.5,247.64 L178.0,247.61 L178.5,247.58 L179.0,247.55 L179.5,247.53 L180.0,247.50 L180.5,247.47 L181.0,247.45 L181.5,247.42 L182.0,247.39 L182.5,247.36 L183.0,247.34 L183.5,247.31 L184.0,247.28 L184.5,247.25 L185.0,247.23 L185.5,247.20 L186.0,247.17 L186.5,247.15 L187.0,247.12 L187.5,247.09 L188.0,247.06 L188.5,247.04 L189.0,247.01 L189.5,246.98 L190.0,246.96 L190.5,246.93 L191.0,246.90 L191.5,246.87 L192.0,246.85 L192.5,246.82 L193.0,246.79 L193.5,246.76 L194.0,246.74 L194.5,246.71 L195.0,246.68 L195.5,246.65 L196.0,246.63 L196.5,246.60 L197.0,246.57 L197.5,246.54 L198.0,246.51 L198.5,246.49 L199.0,246.46 L199.5,246.43 L200.0,246.40 L200.5,246.37 L201.0,246.34 L201.5,246.31 L202.0,246.28 L202.5,246.25 L203.0,246.23 L203.5,246.20 L204.0,246.17 L204.5,246.14 L205.0,246.11 L205.5,246.08 L206.0,246.05 L206.5,246.02 L207.0,245.99 L207.5,245.96 L208.0,245.93 L208.5,245.90 L209.0,245.87 L209.5,245.84 L210.0,245.81 L210.5,245.78 L211.0,245.75 L211.5,245.72 L212.0,245.69 L212.5,245.65 L213.0,245.62 L213.5,245.59 L214.0,245.56 L214.5,245.53 L215.0,245.50 L215.5,245.47 L216.0,245.44 L216.5,245.41 L217.0,245.38 L217.5,245.35 L218.0,245.32 L218.5,245.29 L219.0,245.26 L219.5,245.23 L220.0,245.20 L220.5,245.17 L221.0,245.14 L221.5,245.11 L222.0,245.08 L222.5,245.05 L223.0,245.02 L223.5,244.99 L224.0,244.96 L224.5,244.93 L225.0,244.90 L225.5,244.87 L226.0,244.84 L226.5,244.81 L227.0,244.78 L227.5,244.75 L228.0,244.72 L228.5,244.69 L229.0,244.66 L229.5,244.63 L230.0,244.60 L230.5,244.57 L231.0,244.54 L231.5,244.51 L232.0,244.48 L232.5,244.45 L233.0,244.42 L233.5,244.39 L234.0,244.36 L234.5,244.33 L235.0,244.30 L235.5,244.27 L236.0,244.24 L236.5,244.21 L237.0,244.18 L237.5,244.15 L238.0,244.12 L238.5,244.09 L239.0,244.06 L239.5,244.03 L240.0,244.00 L240.5,243.97 L241.0,243.94 L241.5,243.91 L242.0,243.88 L242.5,243.85 L243.0,243.82 L243.5,243.78 L244.0,243.75 L244.5,243.72 L245.0,243.69 L245.5,243.66 L246.0,243.63 L246.5,243.60 L247.0,243.56 L247.5,243.53 L248.0,243.50 L248.5,243.47 L249.0,243.44 L249.5,243.41 L250.0,243.38 L250.5,243.34 L251.0,243.31 L251.5,243.28 L252.0,243.25 L252.5,243.22 L253.0,243.19 L253.5,243.16 L254.0,243.13 L254.5,243.10 L255.0,243.07 L255.5,243.04 L256.0,243.01 L256.5,242.98 L257.0,242.96 L257.5,242.93 L258.0,242.90 L258.5,242.87 L259.0,242.84 L259.5,242.82 L260.0,242.79 L260.5,242.79 L261.0,242.87 L261.5,243.24 L262.0,244.17 L262.5,245.69 L263.0,247.20 L263.5,247.74 L264.0,247.04 L264.5,245.94 L265.0,245.45 L265.5,245.80 L266.0,246.48 L266.5,246.89 L267.0,246.70 L267.5,246.01 L268.0,245.11 L268.5,244.30 L269.0,243.69 L269.5,243.25 L270.0,242.92 L270.5,242.67 L271.0,242.47 L271.5,242.32 L272.0,242.21 L272.5,242.14 L273.0,242.09 L273.5,242.06 L274.0,242.03 L274.5,242.00 L275.0,241.98 L275.5,241.96 L276.0,241.94 L276.5,241.92 L277.0,241.90 L277.5,241.88 L278.0,241.86 L278.5,241.85 L279.0,241.83 L279.5,241.81 L280.0,241.80 L280.5,241.79 L281.0,241.77 L281.5,241.76 L282.0,241.75 L282.5,241.74 L283.0,241.72 L283.5,241.71 L284.0,241.70 L284.5,241.69 L285.0,241.68 L285.5,241.67 L286.0,241.67 L286.5,241.66 L287.0,241.65 L287.5,241.64 L288.0,241.63 L288.5,241.62 L289.0,241.61 L289.5,241.61 L290.0,241.60 L290.5,241.59 L291.0,241.58 L291.5,241.57 L292.0,241.57 L292.5,241.56 L293.0,241.55 L293.5,241.54 L294.0,241.53 L294.5,241.52 L295.0,241.51 L295.5,241.50 L296.0,241.49 L296.5,241.48 L297.0,241.47 L297.5,241.46 L298.0,241.45 L298.5,241.44 L299.0,241.43 L299.5,241.41 L300.0,241.40 L300.5,241.39 L301.0,241.37 L301.5,241.35 L302.0,241.34 L302.5,241.32 L303.0,241.30 L303.5,241.28 L304.0,241.26 L304.5,241.24 L305.0,241.22 L305.5,241.20 L306.0,241.17 L306.5,241.15 L307.0,241.13 L307.5,241.10 L308.0,241.08 L308.5,241.05 L309.0,241.03 L309.5,241.00 L310.0,240.98 L310.5,240.95 L311.0,240.93 L311.5,240.90 L312.0,240.88 L312.5,240.85 L313.0,240.83 L313.5,240.80 L314.0,240.78 L314.5,240.75 L315.0,240.73 L315.5,240.70 L316.0,240.68 L316.5,240.70 L317.0,240.67 L317.5,240.66 L318.0,240.74 L318.5,240.51 L319.0,240.60 L319.5,239.98 L320.0,240.50 L320.5,240.34 L321.0,240.19 L321.5,240.43 L322.0,239.98 L322.5,240.32 L323.0,240.47 L323.5,240.95 L324.0,240.04 L324.5,240.56 L325.0,240.35 L325.5,239.95 L326.0,240.99 L326.5,239.83 L327.0,240.17 L327.5,239.74 L328.0,240.49 L328.5,240.13 L329.0,240.05 L329.5,239.93 L330.0,240.88 L330.5,239.86 L331.0,240.01 L331.5,240.08 L332.0,240.07 L332.5,240.62 L333.0,239.64 L333.5,240.04 L334.0,239.82 L334.5,239.82 L335.0,240.31 L335.5,240.48 L336.0,240.17 L336.5,239.79 L337.0,240.52 L337.5,239.38 L338.0,239.59 L338.5,240.04 L339.0,239.20 L339.5,239.71 L340.0,239.96 L340.5,239.50 L341.0,240.84 L341.5,239.57 L342.0,239.61 L342.5,239.66 L343.0,239.63 L343.5,239.56 L344.0,239.68 L344.5,239.83 L345.0,239.12 L345.5,239.85 L346.0,239.89 L346.5,239.97 L347.0,239.67 L347.5,239.87 L348.0,239.27 L348.5,240.34 L349.0,240.03 L349.5,240.16 L350.0,240.24 L350.5,240.34 L351.0,239.79 L351.5,240.31 L352.0,240.20 L352.5,239.74 L353.0,240.18 L353.5,239.92 L354.0,240.05 L354.5,240.09 L355.0,240.12 L355.5,240.59 L356.0,240.28 L356.5,240.53 L357.0,241.09 L357.5,240.74 L358.0,241.11 L358.5,241.21 L359.0,240.23 L359.5,240.86 L360.0,240.80 L360.5,240.32 L361.0,240.29 L361.5,240.01 L362.0,240.21 L362.5,240.92 L363.0,240.01 L363.5,240.04 L364.0,240.09 L364.5,240.28 L365.0,239.50 L365.5,239.63 L366.0,239.27 L366.5,239.39 L367.0,239.39 L367.5,239.89 L368.0,239.39 L368.5,239.51 L369.0,239.46 L369.5,239.42 L370.0,239.13 L370.5,238.63 L371.0,238.53 L371.5,238.83 L372.0,238.59 L372.5,238.57 L373.0,238.86 L373.5,238.64 L374.0,237.96 L374.5,238.42 L375.0,238.03 L375.5,237.84 L376.0,238.22 L376.5,238.04 L377.0,237.72 L377.5,238.08 L378.0,238.14 L378.5,238.27 L379.0,237.90 L379.5,237.47 L380.0,237.86 L380.5,237.71 L381.0,238.04 L381.5,237.68 L382.0,237.88 L382.5,237.04 L383.0,237.45 L383.5,237.02 L384.0,238.41 L384.5,237.51 L385.0,237.26 L385.5,237.73 L386.0,237.85 L386.5,237.58 L387.0,238.01 L387.5,237.52 L388.0,237.35 L388.5,237.12 L389.0,237.05 L389.5,237.35 L390.0,237.28 L390.5,237.42 L391.0,237.13 L391.5,237.28 L392.0,236.51 L392.5,237.02 L393.0,237.72 L393.5,237.24 L394.0,236.55 L394.5,236.87 L395.0,237.03 L395.5,237.08 L396.0,237.04 L396.5,236.98 L397.0,237.00 L397.5,237.09 L398.0,237.01 L398.5,236.78 L399.0,236.86 L399.5,236.75 L400.0,236.75 L400.5,236.72 L401.0,236.68 L401.5,236.65 L402.0,236.62 L402.5,236.58 L403.0,236.55 L403.5,236.51 L404.0,236.48 L404.5,236.44 L405.0,236.40 L405.5,236.36 L406.0,236.31 L406.5,236.25 L407.0,236.18 L407.5,236.12 L408.0,236.05 L408.5,235.97 L409.0,235.90 L409.5,235.82 L410.0,235.75 L410.5,235.68 L411.0,235.61 L411.5,235.55 L412.0,235.49 L412.5,235.43 L413.0,235.39 L413.5,235.35 L414.0,235.32 L414.5,235.31 L415.0,235.30 L415.5,235.30 L416.0,235.30 L416.5,235.30 L417.0,235.30 L417.5,235.30 L418.0,235.30 L418.5,235.30 L419.0,235.30 L419.5,235.30 L420.0,235.30 L420.5,235.30 L421.0,235.30 L421.5,235.30 L422.0,235.30 L422.5,235.30 L423.0,235.30 L423.5,235.30 L424.0,235.30 L424.5,235.30 L425.0,235.30 L425.5,235.31 L426.0,235.33 L426.5,235.36 L427.0,235.41 L427.5,235.46 L428.0,235.53 L428.5,235.59 L429.0,235.66 L429.5,235.73 L430.0,235.80 L430.5,235.88 L431.0,235.96 L431.5,236.06 L432.0,236.17 L432.5,236.29 L433.0,236.41 L433.5,236.53 L434.0,236.66 L434.5,236.78 L435.0,236.90 L435.5,237.02 L436.0,237.13 L436.5,237.24 L437.0,237.35 L437.5,237.47 L438.0,237.59 L438.5,237.72 L439.0,237.86 L439.5,238.02 L440.0,238.20 L440.5,238.41 L441.0,238.67 L441.5,238.97 L442.0,239.30 L442.5,239.64 L443.0,240.00 L443.5,240.35 L444.0,240.70 L444.5,241.04 L445.0,241.40 L445.5,241.76 L446.0,242.14 L446.5,242.52 L447.0,242.90 L447.5,243.35 L448.0,243.87 L448.5,244.41 L449.0,244.91 L449.5,245.31 L450.0,245.56 L450.5,245.58 L451.0,245.39 L451.5,245.03 L452.0,244.56 L452.5,244.03 L453.0,243.50 L453.5,242.88 L454.0,242.11 L454.5,241.25 L455.0,240.37 L455.5,239.57 L456.0,238.90 L456.5,238.34 L457.0,237.79 L457.5,237.28 L458.0,236.80 L458.5,236.35 L459.0,235.95 L459.5,235.60 L460.0,235.30 L460.5,235.04 L461.0,234.79 L461.5,234.56 L462.0,234.35 L462.5,234.15 L463.0,233.97 L463.5,233.81 L464.0,233.65 L464.5,233.52 L465.0,233.40 L465.5,233.29 L466.0,233.17 L466.5,233.06 L467.0,232.96 L467.5,232.86 L468.0,232.77 L468.5,232.70 L469.0,232.65 L469.5,232.61 L470.0,232.60 L470.5,232.60 L471.0,232.60 L471.5,232.61 L472.0,232.61 L472.5,232.61 L473.0,232.62 L473.5,232.63 L474.0,232.64 L474.5,232.64 L475.0,232.66 L475.5,232.67 L476.0,232.68 L476.5,232.69 L477.0,232.70 L477.5,232.72 L478.0,232.73 L478.5,232.75 L479.0,232.77 L479.5,232.78 L480.0,232.80 L480.5,232.83 L481.0,232.86 L481.5,232.91 L482.0,232.98 L482.5,233.05 L483.0,233.13 L483.5,233.22 L484.0,233.31 L484.5,233.41 L485.0,233.52 L485.5,233.63 L486.0,233.74 L486.5,233.86 L487.0,233.97 L487.5,234.08 L488.0,234.19 L488.5,234.30 L489.0,234.41 L489.5,234.51 L490.0,234.60 L490.5,234.69 L491.0,234.78 L491.5,234.87 L492.0,234.96 L492.5,235.05 L493.0,235.15 L493.5,235.24 L494.0,235.33 L494.5,235.42 L495.0,235.51 L495.5,235.60 L496.0,235.70 L496.5,235.79 L497.0,235.88 L497.5,235.96 L498.0,236.05 L498.5,236.14 L499.0,236.23 L499.5,236.31 L500.0,236.40 L500.5,236.49 L501.0,236.58 L501.5,236.68 L502.0,236.78 L502.5,236.89 L503.0,236.99 L503.5,237.10 L504.0,237.21 L504.5,237.31 L505.0,237.41 L505.5,237.51 L506.0,237.60 L506.5,237.68 L507.0,237.76 L507.5,237.83 L508.0,237.89 L508.5,237.94 L509.0,237.97 L509.5,237.99 L510.0,238.00 L510.5,237.85 L511.0,237.45 L511.5,236.86 L512.0,236.13 L512.5,235.35 L513.0,234.57 L513.5,233.84 L514.0,233.25 L514.5,232.85 L515.0,232.70 L515.5,232.78 L516.0,232.98 L516.5,233.28 L517.0,233.64 L517.5,234.03 L518.0,234.40 L518.5,234.85 L519.0,235.43 L519.5,236.08 L520.0,236.76 L520.5,237.39 L521.0,237.91 L521.5,238.27 L522.0,238.40 L522.5,238.31 L523.0,238.07 L523.5,237.71 L524.0,237.26 L524.5,236.78 L525.0,236.28 L525.5,235.81 L526.0,235.40 L526.5,235.04 L527.0,234.67 L527.5,234.31 L528.0,233.96 L528.5,233.60 L529.0,233.24 L529.5,232.89 L530.0,232.54 L530.5,232.19 L531.0,231.85 L531.5,231.50" stroke="#8A4FD6" stroke-width="2.2" fill="none" stroke-linejoin="round"/>
<path d="M59.5,253.60V263.60M74.0,254.38V264.38M39.2,253.29V256.63M41.7,254.85V255.59M42.5,254.10V256.11M44.2,254.18V255.52M46.1,253.18V257.36M47.2,253.38V256.81M48.1,253.68V258.09M49.1,253.11V252.25M50.1,253.40V254.61M51.2,253.44V255.19M51.9,254.20V252.76M54.1,253.39V252.25M54.9,253.61V254.97M55.9,253.20V257.01M56.8,253.19V251.67M57.6,253.16V254.95M58.5,252.87V254.08M59.3,253.59V251.28M60.5,253.41V258.24M61.7,254.52V256.42M62.3,252.44V252.87M63.4,252.56V253.53M64.2,252.70V255.50M65.2,253.55V256.97M65.9,254.12V259.80M67.1,252.76V254.90M68.2,254.11V255.02M69.8,253.99V259.45M70.5,253.32V257.14M71.2,253.57V258.28M72.2,253.41V256.96M74.0,254.30V258.22M74.6,253.52V255.62M75.6,253.44V256.26M76.8,253.98V259.10M78.0,253.85V257.01M78.6,253.43V256.08M79.6,253.32V252.53M80.7,253.42V254.37M81.4,253.57V252.68M82.1,252.44V251.50M83.2,252.72V253.54M84.2,251.77V255.30M85.3,253.90V255.53M86.6,253.24V254.61M87.4,252.94V255.53M88.3,253.07V258.63M89.0,252.86V254.31M89.8,252.39V254.20M90.9,253.05V252.53M91.5,251.59V253.15M92.1,252.37V257.72M93.0,253.88V256.06M95.1,252.03V256.42M96.3,252.27V255.13M97.5,251.68V252.57M98.3,250.62V252.71M99.5,253.19V254.71M100.3,251.97V252.39M102.2,250.86V250.38M104.2,250.78V251.77M105.2,251.93V252.86M106.0,252.42V253.06M324.1,240.17V241.05M325.5,240.02V241.48M327.1,240.05V241.47M331.5,240.08V240.80M333.0,239.66V241.45M334.5,239.82V240.48M336.0,240.14V241.05M337.6,239.41V240.58M338.9,239.43V241.08M341.4,239.74V241.63M343.2,239.60V243.27M344.1,239.71V240.65M345.5,239.86V242.99M347.2,239.75V240.45M348.3,239.90V245.79M349.5,240.16V246.31M351.8,240.24V240.97M353.6,239.95V244.16M356.5,240.54V243.33M359.9,240.81V244.83M361.2,240.16V245.50M362.7,240.58V247.90M364.1,240.13V244.89M366.9,239.39V240.35M370.9,238.56V244.01M372.2,238.58V241.00M373.7,238.37V242.36M378.2,238.19V238.71M379.6,237.57V242.16M381.0,238.03V240.64M382.1,237.70V240.92M383.6,237.23V239.85M385.0,237.29V238.01M386.0,237.84V243.01M388.9,237.06V240.65M390.8,237.24V239.56M393.2,237.56V238.68M360.5,240.32V246.72M354.0,240.05V245.25M373.6,238.50V242.50M380.9,237.98V241.18M357.5,240.74V245.14" stroke="#8A4FD6" stroke-width="1.5" fill="none"/>
<path d="M38.5,274.00 L39.0,273.89 L39.5,273.39 L40.0,274.05 L40.5,273.82 L41.0,273.77 L41.5,273.06 L42.0,273.80 L42.5,273.99 L43.0,273.73 L43.5,274.65 L44.0,275.44 L44.5,274.45 L45.0,274.76 L45.5,275.56 L46.0,274.60 L46.5,275.40 L47.0,273.71 L47.5,274.26 L48.0,275.29 L48.5,274.87 L49.0,274.44 L49.5,275.08 L50.0,274.72 L50.5,274.83 L51.0,274.24 L51.5,274.65 L52.0,274.75 L52.5,274.19 L53.0,273.09 L53.5,274.52 L54.0,276.31 L54.5,272.74 L55.0,273.99 L55.5,274.48 L56.0,274.85 L56.5,275.47 L57.0,275.42 L57.5,275.62 L58.0,275.69 L58.5,274.28 L59.0,274.71 L59.5,274.41 L60.0,275.08 L60.5,274.53 L61.0,274.16 L61.5,276.16 L62.0,274.73 L62.5,274.40 L63.0,275.44 L63.5,274.02 L64.0,274.53 L64.5,274.40 L65.0,273.52 L65.5,273.06 L66.0,274.89 L66.5,274.48 L67.0,274.48 L67.5,275.50 L68.0,274.34 L68.5,276.16 L69.0,273.80 L69.5,273.04 L70.0,274.84 L70.5,275.29 L71.0,276.18 L71.5,274.68 L72.0,274.77 L72.5,274.92 L73.0,276.74 L73.5,273.79 L74.0,275.30 L74.5,275.05 L75.0,274.40 L75.5,274.82 L76.0,275.17 L76.5,274.50 L77.0,275.11 L77.5,275.58 L78.0,275.65 L78.5,274.80 L79.0,274.94 L79.5,275.17 L80.0,275.74 L80.5,275.27 L81.0,276.01 L81.5,275.52 L82.0,274.07 L82.5,275.90 L83.0,274.73 L83.5,275.57 L84.0,275.20 L84.5,275.86 L85.0,275.25 L85.5,275.32 L86.0,274.07 L86.5,276.19 L87.0,275.26 L87.5,274.97 L88.0,276.15 L88.5,275.65 L89.0,275.43 L89.5,275.61 L90.0,275.32 L90.5,274.53 L91.0,274.40 L91.5,275.94 L92.0,276.04 L92.5,275.68 L93.0,275.53 L93.5,275.99 L94.0,276.13 L94.5,275.62 L95.0,276.03 L95.5,275.95 L96.0,274.97 L96.5,275.91 L97.0,274.63 L97.5,273.77 L98.0,275.83 L98.5,275.08 L99.0,276.72 L99.5,274.49 L100.0,276.02 L100.5,275.20 L101.0,275.56 L101.5,274.61 L102.0,277.06 L102.5,275.18 L103.0,276.80 L103.5,275.33 L104.0,274.53 L104.5,274.85 L105.0,276.24 L105.5,275.04 L106.0,275.44 L106.5,276.17 L107.0,275.96 L107.5,274.89 L108.0,275.26 L108.5,276.08 L109.0,275.18 L109.5,275.76 L110.0,275.47 L110.5,275.00 L111.0,275.49 L111.5,275.24 L112.0,275.42 L112.5,275.23 L113.0,275.50 L113.5,275.37 L114.0,275.48 L114.5,275.27 L115.0,275.35 L115.5,275.38 L116.0,275.34 L116.5,275.33 L117.0,275.32 L117.5,275.31 L118.0,275.30 L118.5,275.28 L119.0,275.27 L119.5,275.26 L120.0,275.24 L120.5,275.23 L121.0,275.21 L121.5,275.20 L122.0,275.18 L122.5,275.16 L123.0,275.15 L123.5,275.13 L124.0,275.11 L124.5,275.10 L125.0,275.08 L125.5,275.06 L126.0,275.04 L126.5,275.02 L127.0,275.00 L127.5,274.98 L128.0,274.96 L128.5,274.94 L129.0,274.92 L129.5,274.90 L130.0,274.88 L130.5,274.86 L131.0,274.84 L131.5,274.82 L132.0,274.80 L132.5,274.78 L133.0,274.76 L133.5,274.74 L134.0,274.72 L134.5,274.70 L135.0,274.68 L135.5,274.67 L136.0,274.65 L136.5,274.63 L137.0,274.61 L137.5,274.59 L138.0,274.57 L138.5,274.55 L139.0,274.53 L139.5,274.52 L140.0,274.50 L140.5,274.48 L141.0,274.47 L141.5,274.45 L142.0,274.43 L142.5,274.41 L143.0,274.39 L143.5,274.37 L144.0,274.36 L144.5,274.34 L145.0,274.32 L145.5,274.30 L146.0,274.28 L146.5,274.26 L147.0,274.24 L147.5,274.22 L148.0,274.20 L148.5,274.18 L149.0,274.16 L149.5,274.14 L150.0,274.12 L150.5,274.09 L151.0,274.07 L151.5,274.05 L152.0,274.03 L152.5,274.01 L153.0,273.99 L153.5,273.97 L154.0,273.95 L154.5,273.92 L155.0,273.90 L155.5,273.88 L156.0,273.86 L156.5,273.84 L157.0,273.82 L157.5,273.80 L158.0,273.78 L158.5,273.75 L159.0,273.73 L159.5,273.71 L160.0,273.69 L160.5,273.67 L161.0,273.65 L161.5,273.63 L162.0,273.61 L162.5,273.59 L163.0,273.57 L163.5,273.55 L164.0,273.53 L164.5,273.51 L165.0,273.49 L165.5,273.47 L166.0,273.45 L166.5,273.43 L167.0,273.41 L167.5,273.39 L168.0,273.37 L168.5,273.35 L169.0,273.34 L169.5,273.32 L170.0,273.30 L170.5,273.28 L171.0,273.27 L171.5,273.25 L172.0,273.23 L172.5,273.22 L173.0,273.20 L173.5,273.18 L174.0,273.17 L174.5,273.15 L175.0,273.14 L175.5,273.12 L176.0,273.11 L176.5,273.09 L177.0,273.08 L177.5,273.06 L178.0,273.05 L178.5,273.04 L179.0,273.02 L179.5,273.01 L180.0,272.99 L180.5,272.98 L181.0,272.97 L181.5,272.95 L182.0,272.94 L182.5,272.92 L183.0,272.91 L183.5,272.90 L184.0,272.88 L184.5,272.87 L185.0,272.86 L185.5,272.85 L186.0,272.83 L186.5,272.82 L187.0,272.81 L187.5,272.79 L188.0,272.78 L188.5,272.77 L189.0,272.76 L189.5,272.74 L190.0,272.73 L190.5,272.72 L191.0,272.71 L191.5,272.69 L192.0,272.68 L192.5,272.67 L193.0,272.66 L193.5,272.65 L194.0,272.63 L194.5,272.62 L195.0,272.61 L195.5,272.60 L196.0,272.59 L196.5,272.57 L197.0,272.56 L197.5,272.55 L198.0,272.54 L198.5,272.53 L199.0,272.52 L199.5,272.50 L200.0,272.49 L200.5,272.48 L201.0,272.47 L201.5,272.46 L202.0,272.45 L202.5,272.43 L203.0,272.42 L203.5,272.41 L204.0,272.40 L204.5,272.39 L205.0,272.37 L205.5,272.36 L206.0,272.35 L206.5,272.34 L207.0,272.33 L207.5,272.32 L208.0,272.30 L208.5,272.29 L209.0,272.28 L209.5,272.27 L210.0,272.25 L210.5,272.24 L211.0,272.23 L211.5,272.22 L212.0,272.21 L212.5,272.19 L213.0,272.18 L213.5,272.17 L214.0,272.16 L214.5,272.14 L215.0,272.13 L215.5,272.12 L216.0,272.11 L216.5,272.09 L217.0,272.08 L217.5,272.07 L218.0,272.05 L218.5,272.04 L219.0,272.03 L219.5,272.01 L220.0,272.00 L220.5,271.99 L221.0,271.97 L221.5,271.96 L222.0,271.95 L222.5,271.93 L223.0,271.92 L223.5,271.91 L224.0,271.89 L224.5,271.88 L225.0,271.87 L225.5,271.86 L226.0,271.84 L226.5,271.83 L227.0,271.82 L227.5,271.80 L228.0,271.79 L228.5,271.78 L229.0,271.77 L229.5,271.75 L230.0,271.74 L230.5,271.73 L231.0,271.71 L231.5,271.70 L232.0,271.69 L232.5,271.68 L233.0,271.66 L233.5,271.65 L234.0,271.64 L234.5,271.62 L235.0,271.61 L235.5,271.60 L236.0,271.59 L236.5,271.57 L237.0,271.56 L237.5,271.55 L238.0,271.53 L238.5,271.52 L239.0,271.51 L239.5,271.49 L240.0,271.48 L240.5,271.46 L241.0,271.45 L241.5,271.44 L242.0,271.42 L242.5,271.41 L243.0,271.39 L243.5,271.38 L244.0,271.36 L244.5,271.35 L245.0,271.33 L245.5,271.32 L246.0,271.30 L246.5,271.29 L247.0,271.27 L247.5,271.26 L248.0,271.24 L248.5,271.23 L249.0,271.21 L249.5,271.19 L250.0,271.18 L250.5,271.16 L251.0,271.14 L251.5,271.13 L252.0,271.11 L252.5,271.09 L253.0,271.07 L253.5,271.06 L254.0,271.04 L254.5,271.02 L255.0,271.00 L255.5,270.98 L256.0,270.96 L256.5,270.94 L257.0,270.92 L257.5,270.90 L258.0,270.87 L258.5,270.85 L259.0,270.82 L259.5,270.80 L260.0,270.77 L260.5,270.77 L261.0,270.85 L261.5,271.17 L262.0,272.01 L262.5,273.38 L263.0,274.73 L263.5,275.21 L264.0,274.56 L264.5,273.56 L265.0,273.09 L265.5,273.38 L266.0,273.96 L266.5,274.31 L267.0,274.14 L267.5,273.53 L268.0,272.74 L268.5,272.02 L269.0,271.48 L269.5,271.09 L270.0,270.80 L270.5,270.57 L271.0,270.39 L271.5,270.25 L272.0,270.15 L272.5,270.08 L273.0,270.03 L273.5,269.99 L274.0,269.96 L274.5,269.94 L275.0,269.91 L275.5,269.88 L276.0,269.86 L276.5,269.84 L277.0,269.82 L277.5,269.79 L278.0,269.77 L278.5,269.75 L279.0,269.73 L279.5,269.72 L280.0,269.70 L280.5,269.68 L281.0,269.67 L281.5,269.65 L282.0,269.64 L282.5,269.62 L283.0,269.61 L283.5,269.59 L284.0,269.58 L284.5,269.56 L285.0,269.55 L285.5,269.53 L286.0,269.52 L286.5,269.51 L287.0,269.49 L287.5,269.48 L288.0,269.47 L288.5,269.45 L289.0,269.44 L289.5,269.43 L290.0,269.41 L290.5,269.40 L291.0,269.39 L291.5,269.38 L292.0,269.36 L292.5,269.35 L293.0,269.34 L293.5,269.33 L294.0,269.32 L294.5,269.31 L295.0,269.30 L295.5,269.28 L296.0,269.27 L296.5,269.26 L297.0,269.25 L297.5,269.24 L298.0,269.23 L298.5,269.22 L299.0,269.21 L299.5,269.20 L300.0,269.19 L300.5,269.18 L301.0,269.17 L301.5,269.16 L302.0,269.15 L302.5,269.14 L303.0,269.13 L303.5,269.12 L304.0,269.11 L304.5,269.10 L305.0,269.09 L305.5,269.08 L306.0,269.07 L306.5,269.06 L307.0,269.05 L307.5,269.05 L308.0,269.04 L308.5,269.03 L309.0,269.02 L309.5,269.01 L310.0,269.00 L310.5,268.99 L311.0,268.98 L311.5,268.97 L312.0,268.97 L312.5,268.96 L313.0,268.95 L313.5,268.94 L314.0,268.94 L314.5,268.93 L315.0,268.92 L315.5,268.91 L316.0,268.91 L316.5,268.92 L317.0,268.80 L317.5,268.75 L318.0,268.84 L318.5,268.80 L319.0,269.02 L319.5,269.12 L320.0,268.63 L320.5,268.99 L321.0,268.68 L321.5,268.74 L322.0,268.79 L322.5,269.11 L323.0,269.01 L323.5,268.62 L324.0,268.71 L324.5,268.90 L325.0,268.12 L325.5,268.66 L326.0,268.81 L326.5,268.90 L327.0,268.86 L327.5,268.94 L328.0,268.06 L328.5,268.42 L329.0,269.66 L329.5,268.79 L330.0,268.31 L330.5,269.27 L331.0,268.38 L331.5,268.87 L332.0,268.57 L332.5,268.38 L333.0,268.17 L333.5,268.53 L334.0,268.50 L334.5,268.41 L335.0,268.10 L335.5,268.29 L336.0,269.08 L336.5,268.57 L337.0,268.63 L337.5,267.96 L338.0,269.17 L338.5,268.63 L339.0,268.54 L339.5,268.69 L340.0,268.51 L340.5,268.34 L341.0,267.99 L341.5,268.22 L342.0,268.03 L342.5,268.88 L343.0,268.20 L343.5,267.93 L344.0,268.64 L344.5,268.71 L345.0,268.44 L345.5,268.35 L346.0,268.52 L346.5,268.35 L347.0,268.58 L347.5,267.91 L348.0,268.61 L348.5,268.43 L349.0,268.44 L349.5,268.46 L350.0,268.41 L350.5,268.50 L351.0,268.02 L351.5,269.24 L352.0,269.15 L352.5,269.47 L353.0,268.70 L353.5,268.13 L354.0,269.24 L354.5,269.02 L355.0,269.63 L355.5,269.95 L356.0,269.70 L356.5,269.30 L357.0,269.43 L357.5,269.43 L358.0,269.54 L358.5,269.22 L359.0,268.74 L359.5,269.22 L360.0,269.35 L360.5,269.37 L361.0,269.37 L361.5,269.09 L362.0,268.82 L362.5,269.21 L363.0,269.09 L363.5,269.47 L364.0,269.00 L364.5,269.52 L365.0,269.30 L365.5,268.44 L366.0,268.69 L366.5,269.32 L367.0,268.25 L367.5,268.44 L368.0,269.06 L368.5,268.18 L369.0,268.36 L369.5,268.14 L370.0,268.98 L370.5,267.73 L371.0,268.00 L371.5,267.31 L372.0,268.01 L372.5,267.21 L373.0,267.37 L373.5,267.45 L374.0,266.85 L374.5,267.45 L375.0,267.58 L375.5,266.75 L376.0,266.94 L376.5,267.18 L377.0,266.75 L377.5,267.27 L378.0,266.61 L378.5,267.26 L379.0,266.92 L379.5,267.16 L380.0,266.92 L380.5,266.78 L381.0,265.93 L381.5,267.67 L382.0,266.96 L382.5,266.67 L383.0,266.46 L383.5,266.72 L384.0,267.14 L384.5,266.82 L385.0,266.65 L385.5,266.43 L386.0,266.37 L386.5,266.52 L387.0,267.02 L387.5,266.41 L388.0,267.30 L388.5,266.35 L389.0,267.16 L389.5,265.95 L390.0,266.13 L390.5,266.28 L391.0,265.63 L391.5,266.42 L392.0,265.61 L392.5,265.32 L393.0,265.76 L393.5,266.09 L394.0,265.38 L394.5,266.32 L395.0,266.15 L395.5,265.81 L396.0,265.79 L396.5,266.00 L397.0,266.21 L397.5,265.75 L398.0,266.03 L398.5,266.01 L399.0,265.75 L399.5,265.81 L400.0,265.82 L400.5,265.79 L401.0,265.76 L401.5,265.74 L402.0,265.72 L402.5,265.69 L403.0,265.67 L403.5,265.65 L404.0,265.63 L404.5,265.62 L405.0,265.60 L405.5,265.59 L406.0,265.57 L406.5,265.56 L407.0,265.54 L407.5,265.53 L408.0,265.52 L408.5,265.50 L409.0,265.49 L409.5,265.48 L410.0,265.46 L410.5,265.45 L411.0,265.44 L411.5,265.43 L412.0,265.43 L412.5,265.42 L413.0,265.41 L413.5,265.41 L414.0,265.40 L414.5,265.40 L415.0,265.40 L415.5,265.40 L416.0,265.40 L416.5,265.41 L417.0,265.41 L417.5,265.41 L418.0,265.42 L418.5,265.43 L419.0,265.44 L419.5,265.44 L420.0,265.45 L420.5,265.47 L421.0,265.48 L421.5,265.49 L422.0,265.50 L422.5,265.52 L423.0,265.53 L423.5,265.55 L424.0,265.57 L424.5,265.58 L425.0,265.60 L425.5,265.62 L426.0,265.65 L426.5,265.69 L427.0,265.73 L427.5,265.78 L428.0,265.84 L428.5,265.90 L429.0,265.96 L429.5,266.03 L430.0,266.10 L430.5,266.19 L431.0,266.29 L431.5,266.41 L432.0,266.55 L432.5,266.70 L433.0,266.86 L433.5,267.02 L434.0,267.18 L434.5,267.34 L435.0,267.50 L435.5,267.65 L436.0,267.80 L436.5,267.94 L437.0,268.08 L437.5,268.24 L438.0,268.40 L438.5,268.57 L439.0,268.76 L439.5,268.97 L440.0,269.20 L440.5,269.48 L441.0,269.83 L441.5,270.23 L442.0,270.66 L442.5,271.12 L443.0,271.59 L443.5,272.05 L444.0,272.50 L444.5,272.93 L445.0,273.37 L445.5,273.82 L446.0,274.27 L446.5,274.73 L447.0,275.20 L447.5,275.75 L448.0,276.39 L448.5,277.05 L449.0,277.66 L449.5,278.15 L450.0,278.45 L450.5,278.47 L451.0,278.15 L451.5,277.57 L452.0,276.82 L452.5,276.00 L453.0,275.20 L453.5,274.32 L454.0,273.26 L454.5,272.12 L455.0,271.00 L455.5,269.99 L456.0,269.20 L456.5,268.56 L457.0,267.96 L457.5,267.41 L458.0,266.90 L458.5,266.44 L459.0,266.03 L459.5,265.69 L460.0,265.40 L460.5,265.15 L461.0,264.90 L461.5,264.67 L462.0,264.45 L462.5,264.25 L463.0,264.07 L463.5,263.92 L464.0,263.81 L464.5,263.73 L465.0,263.70 L465.5,263.69 L466.0,263.68 L466.5,263.67 L467.0,263.66 L467.5,263.65 L468.0,263.65 L468.5,263.64 L469.0,263.63 L469.5,263.63 L470.0,263.62 L470.5,263.62 L471.0,263.61 L471.5,263.61 L472.0,263.61 L472.5,263.61 L473.0,263.60 L473.5,263.60 L474.0,263.60 L474.5,263.60 L475.0,263.60 L475.5,263.60 L476.0,263.61 L476.5,263.62 L477.0,263.63 L477.5,263.65 L478.0,263.67 L478.5,263.69 L479.0,263.72 L479.5,263.75 L480.0,263.79 L480.5,263.82 L481.0,263.87 L481.5,263.91 L482.0,263.96 L482.5,264.01 L483.0,264.06 L483.5,264.12 L484.0,264.17 L484.5,264.24 L485.0,264.30 L485.5,264.40 L486.0,264.55 L486.5,264.74 L487.0,264.96 L487.5,265.21 L488.0,265.47 L488.5,265.73 L489.0,265.98 L489.5,266.21 L490.0,266.40 L490.5,266.57 L491.0,266.73 L491.5,266.89 L492.0,267.04 L492.5,267.18 L493.0,267.32 L493.5,267.46 L494.0,267.59 L494.5,267.72 L495.0,267.85 L495.5,267.98 L496.0,268.12 L496.5,268.25 L497.0,268.38 L497.5,268.52 L498.0,268.67 L498.5,268.81 L499.0,268.97 L499.5,269.13 L500.0,269.30 L500.5,269.49 L501.0,269.71 L501.5,269.96 L502.0,270.22 L502.5,270.50 L503.0,270.78 L503.5,271.07 L504.0,271.35 L504.5,271.62 L505.0,271.87 L505.5,272.10 L506.0,272.30 L506.5,272.47 L507.0,272.59 L507.5,272.67 L508.0,272.70 L508.5,272.63 L509.0,272.42 L509.5,272.11 L510.0,271.71 L510.5,271.24 L511.0,270.73 L511.5,270.20 L512.0,269.67 L512.5,269.16 L513.0,268.69 L513.5,268.29 L514.0,267.98 L514.5,267.77 L515.0,267.70 L515.5,267.72 L516.0,267.79 L516.5,267.90 L517.0,268.05 L517.5,268.24 L518.0,268.47 L518.5,268.73 L519.0,269.02 L519.5,269.35 L520.0,269.70 L520.5,270.53 L521.0,271.88 L521.5,273.14 L522.0,273.70 L522.5,273.58 L523.0,273.26 L523.5,272.79 L524.0,272.21 L524.5,271.56 L525.0,270.89 L525.5,270.26 L526.0,269.70 L526.5,269.14 L527.0,268.49 L527.5,267.81 L528.0,267.14 L528.5,266.54 L529.0,266.05 L529.5,265.72 L530.0,265.60 L530.5,265.68 L531.0,265.92 L531.5,266.31" stroke="#EB4A7A" stroke-width="2.2" fill="none" stroke-linejoin="round"/>
<path d="M59.5,274.41V278.41M74.0,275.30V271.30M39.4,273.48V275.27M40.5,273.84V275.97M41.2,273.42V275.90M43.1,273.84V274.25M43.8,275.05V277.47M45.6,275.45V277.65M46.2,274.92V277.92M47.2,273.91V274.65M48.3,275.00V277.58M49.4,274.98V276.06M50.7,274.58V276.62M52.2,274.55V276.92M53.4,274.19V275.52M54.3,274.43V275.79M55.5,274.48V273.56M56.8,275.44V278.83M57.8,275.66V279.83M58.9,274.66V278.85M60.2,274.84V275.64M61.0,274.20V272.71M62.8,275.07V279.29M63.9,274.43V278.61M65.2,273.35V276.07M66.3,274.64V278.70M67.0,274.55V275.23M68.1,274.68V275.87M69.0,273.93V274.91M69.9,274.37V274.84M71.1,275.96V279.63M71.9,274.75V274.33M72.5,274.92V278.35M73.6,274.16V274.56M75.1,274.45V277.81M76.8,274.85V278.18M77.4,275.53V276.57M78.6,274.82V275.75M79.4,275.14V276.02M80.1,275.65V277.39M81.4,275.63V277.47M82.7,275.52V274.90M83.4,275.42V279.00M84.2,275.48V277.69M85.3,275.29V279.42M87.2,275.14V273.92M88.1,276.07V274.92M88.8,275.53V276.56M90.9,274.43V277.04M91.9,276.01V275.35M93.0,275.57V279.65M94.1,276.00V277.58M95.2,275.99V276.50M96.2,275.36V276.12M97.5,273.81V274.81M98.5,275.11V277.13M99.3,275.33V274.86M100.0,275.94V276.82M101.2,275.16V276.25M102.2,276.22V277.61M103.4,275.71V276.34M104.0,274.54V275.26M106.1,275.64V276.29M108.0,275.24V275.68M324.8,268.43V268.97M328.1,268.14V269.13M330.3,268.90V269.70M337.7,268.41V269.49M340.7,268.18V269.46M342.1,268.18V268.69M343.0,268.21V270.10M345.2,268.40V270.95M348.3,268.51V270.73M349.3,268.45V269.80M350.4,268.49V269.88M351.7,269.21V270.85M352.9,268.88V271.33M354.6,269.16V271.27M356.1,269.65V273.52M357.1,269.43V273.20M359.9,269.32V275.11M361.0,269.37V270.83M362.5,269.21V270.55M364.4,269.40V270.13M367.4,268.42V269.89M368.8,268.27V270.06M370.3,268.22V271.23M371.4,267.40V270.99M374.4,267.31V269.87M376.3,267.07V271.55M377.4,267.15V270.08M379.1,266.97V271.23M380.7,266.40V269.02M382.3,266.77V267.40M383.7,266.86V269.85M386.7,266.75V268.56M388.5,266.38V267.93M390.0,266.13V267.77M391.0,265.67V266.52M392.4,265.36V265.94M360.5,269.37V273.37M354.0,269.24V272.49M373.6,267.33V269.83M380.9,266.10V268.10M357.5,269.43V272.18" stroke="#EB4A7A" stroke-width="1.5" fill="none"/>
<path d="M38.5,314.77 L39.0,314.69 L39.5,313.51 L40.0,314.45 L40.5,314.95 L41.0,314.06 L41.5,314.80 L42.0,314.73 L42.5,314.71 L43.0,314.62 L43.5,315.09 L44.0,315.67 L44.5,314.20 L45.0,315.63 L45.5,315.11 L46.0,315.30 L46.5,314.23 L47.0,315.15 L47.5,316.13 L48.0,314.37 L48.5,313.77 L49.0,313.96 L49.5,315.40 L50.0,316.91 L50.5,316.05 L51.0,316.46 L51.5,315.38 L52.0,316.31 L52.5,315.16 L53.0,315.80 L53.5,315.20 L54.0,315.02 L54.5,315.51 L55.0,315.10 L55.5,316.36 L56.0,315.59 L56.5,315.75 L57.0,315.24 L57.5,316.36 L58.0,314.98 L58.5,315.96 L59.0,315.25 L59.5,314.84 L60.0,315.16 L60.5,314.94 L61.0,315.35 L61.5,315.25 L62.0,315.70 L62.5,315.87 L63.0,315.36 L63.5,315.43 L64.0,315.64 L64.5,315.05 L65.0,315.90 L65.5,315.98 L66.0,315.51 L66.5,317.02 L67.0,315.97 L67.5,315.22 L68.0,315.02 L68.5,315.09 L69.0,314.87 L69.5,315.99 L70.0,314.68 L70.5,315.08 L71.0,314.74 L71.5,315.81 L72.0,314.05 L72.5,314.76 L73.0,314.90 L73.5,315.17 L74.0,315.24 L74.5,314.73 L75.0,315.54 L75.5,315.03 L76.0,316.50 L76.5,313.69 L77.0,315.14 L77.5,313.94 L78.0,314.08 L78.5,315.99 L79.0,315.79 L79.5,313.23 L80.0,314.34 L80.5,314.42 L81.0,312.94 L81.5,314.35 L82.0,314.62 L82.5,314.45 L83.0,312.86 L83.5,314.98 L84.0,314.33 L84.5,314.07 L85.0,313.53 L85.5,314.50 L86.0,314.59 L86.5,313.56 L87.0,313.90 L87.5,314.36 L88.0,312.35 L88.5,313.74 L89.0,312.27 L89.5,312.90 L90.0,313.81 L90.5,313.32 L91.0,313.08 L91.5,313.09 L92.0,313.83 L92.5,313.68 L93.0,312.57 L93.5,313.27 L94.0,312.67 L94.5,314.63 L95.0,312.37 L95.5,312.62 L96.0,312.54 L96.5,312.42 L97.0,312.77 L97.5,312.82 L98.0,311.44 L98.5,312.13 L99.0,311.56 L99.5,313.31 L100.0,314.13 L100.5,313.33 L101.0,312.56 L101.5,313.00 L102.0,312.36 L102.5,313.37 L103.0,312.64 L103.5,311.97 L104.0,311.31 L104.5,311.63 L105.0,312.23 L105.5,311.24 L106.0,311.83 L106.5,312.67 L107.0,311.91 L107.5,312.84 L108.0,312.50 L108.5,311.67 L109.0,311.21 L109.5,311.71 L110.0,311.53 L110.5,311.79 L111.0,312.11 L111.5,311.31 L112.0,311.48 L112.5,311.61 L113.0,311.71 L113.5,311.56 L114.0,311.50 L114.5,311.54 L115.0,311.42 L115.5,311.36 L116.0,311.34 L116.5,311.31 L117.0,311.28 L117.5,311.25 L118.0,311.22 L118.5,311.19 L119.0,311.16 L119.5,311.13 L120.0,311.10 L120.5,311.07 L121.0,311.04 L121.5,311.01 L122.0,310.98 L122.5,310.96 L123.0,310.93 L123.5,310.90 L124.0,310.88 L124.5,310.85 L125.0,310.82 L125.5,310.80 L126.0,310.77 L126.5,310.75 L127.0,310.72 L127.5,310.69 L128.0,310.67 L128.5,310.64 L129.0,310.62 L129.5,310.59 L130.0,310.57 L130.5,310.54 L131.0,310.52 L131.5,310.49 L132.0,310.47 L132.5,310.44 L133.0,310.41 L133.5,310.39 L134.0,310.36 L134.5,310.33 L135.0,310.30 L135.5,310.28 L136.0,310.25 L136.5,310.22 L137.0,310.19 L137.5,310.16 L138.0,310.13 L138.5,310.10 L139.0,310.07 L139.5,310.03 L140.0,310.00 L140.5,309.97 L141.0,309.93 L141.5,309.90 L142.0,309.86 L142.5,309.82 L143.0,309.78 L143.5,309.74 L144.0,309.70 L144.5,309.66 L145.0,309.62 L145.5,309.58 L146.0,309.54 L146.5,309.50 L147.0,309.45 L147.5,309.41 L148.0,309.37 L148.5,309.32 L149.0,309.28 L149.5,309.23 L150.0,309.19 L150.5,309.14 L151.0,309.10 L151.5,309.05 L152.0,309.01 L152.5,308.96 L153.0,308.92 L153.5,308.87 L154.0,308.83 L154.5,308.78 L155.0,308.73 L155.5,308.69 L156.0,308.65 L156.5,308.60 L157.0,308.56 L157.5,308.51 L158.0,308.47 L158.5,308.43 L159.0,308.38 L159.5,308.34 L160.0,308.30 L160.5,308.26 L161.0,308.22 L161.5,308.18 L162.0,308.14 L162.5,308.10 L163.0,308.06 L163.5,308.02 L164.0,307.98 L164.5,307.94 L165.0,307.90 L165.5,307.86 L166.0,307.82 L166.5,307.78 L167.0,307.74 L167.5,307.70 L168.0,307.66 L168.5,307.62 L169.0,307.58 L169.5,307.54 L170.0,307.50 L170.5,307.46 L171.0,307.42 L171.5,307.38 L172.0,307.34 L172.5,307.30 L173.0,307.26 L173.5,307.22 L174.0,307.18 L174.5,307.14 L175.0,307.10 L175.5,307.06 L176.0,307.02 L176.5,306.98 L177.0,306.94 L177.5,306.90 L178.0,306.86 L178.5,306.82 L179.0,306.78 L179.5,306.74 L180.0,306.70 L180.5,306.66 L181.0,306.62 L181.5,306.58 L182.0,306.54 L182.5,306.50 L183.0,306.46 L183.5,306.42 L184.0,306.38 L184.5,306.34 L185.0,306.30 L185.5,306.26 L186.0,306.22 L186.5,306.18 L187.0,306.15 L187.5,306.11 L188.0,306.07 L188.5,306.03 L189.0,305.99 L189.5,305.95 L190.0,305.91 L190.5,305.87 L191.0,305.83 L191.5,305.79 L192.0,305.74 L192.5,305.70 L193.0,305.66 L193.5,305.62 L194.0,305.57 L194.5,305.53 L195.0,305.49 L195.5,305.44 L196.0,305.39 L196.5,305.35 L197.0,305.30 L197.5,305.25 L198.0,305.20 L198.5,305.15 L199.0,305.10 L199.5,305.05 L200.0,305.00 L200.5,304.95 L201.0,304.89 L201.5,304.83 L202.0,304.77 L202.5,304.71 L203.0,304.65 L203.5,304.58 L204.0,304.51 L204.5,304.44 L205.0,304.37 L205.5,304.30 L206.0,304.23 L206.5,304.16 L207.0,304.08 L207.5,304.01 L208.0,303.93 L208.5,303.86 L209.0,303.78 L209.5,303.70 L210.0,303.63 L210.5,303.55 L211.0,303.47 L211.5,303.40 L212.0,303.32 L212.5,303.24 L213.0,303.17 L213.5,303.09 L214.0,303.01 L214.5,302.94 L215.0,302.87 L215.5,302.79 L216.0,302.72 L216.5,302.65 L217.0,302.58 L217.5,302.51 L218.0,302.45 L218.5,302.38 L219.0,302.32 L219.5,302.26 L220.0,302.20 L220.5,302.14 L221.0,302.08 L221.5,302.03 L222.0,301.97 L222.5,301.92 L223.0,301.86 L223.5,301.81 L224.0,301.76 L224.5,301.70 L225.0,301.65 L225.5,301.60 L226.0,301.55 L226.5,301.50 L227.0,301.45 L227.5,301.40 L228.0,301.35 L228.5,301.30 L229.0,301.25 L229.5,301.21 L230.0,301.16 L230.5,301.11 L231.0,301.06 L231.5,301.02 L232.0,300.97 L232.5,300.92 L233.0,300.87 L233.5,300.83 L234.0,300.78 L234.5,300.73 L235.0,300.68 L235.5,300.64 L236.0,300.59 L236.5,300.54 L237.0,300.49 L237.5,300.45 L238.0,300.40 L238.5,300.35 L239.0,300.30 L239.5,300.25 L240.0,300.20 L240.5,300.15 L241.0,300.10 L241.5,300.05 L242.0,300.00 L242.5,299.95 L243.0,299.90 L243.5,299.85 L244.0,299.80 L244.5,299.74 L245.0,299.69 L245.5,299.64 L246.0,299.59 L246.5,299.54 L247.0,299.49 L247.5,299.44 L248.0,299.39 L248.5,299.33 L249.0,299.28 L249.5,299.23 L250.0,299.18 L250.5,299.13 L251.0,299.08 L251.5,299.03 L252.0,298.98 L252.5,298.93 L253.0,298.88 L253.5,298.83 L254.0,298.78 L254.5,298.73 L255.0,298.69 L255.5,298.64 L256.0,298.59 L256.5,298.54 L257.0,298.49 L257.5,298.45 L258.0,298.40 L258.5,298.35 L259.0,298.31 L259.5,298.26 L260.0,298.22 L260.5,298.21 L261.0,298.30 L261.5,298.73 L262.0,299.83 L262.5,301.65 L263.0,303.45 L263.5,304.08 L264.0,303.20 L264.5,301.83 L265.0,301.18 L265.5,301.50 L266.0,302.24 L266.5,302.68 L267.0,302.46 L267.5,301.67 L268.0,300.65 L268.5,299.73 L269.0,299.02 L269.5,298.52 L270.0,298.14 L270.5,297.84 L271.0,297.60 L271.5,297.42 L272.0,297.29 L272.5,297.19 L273.0,297.12 L273.5,297.07 L274.0,297.02 L274.5,296.97 L275.0,296.93 L275.5,296.89 L276.0,296.85 L276.5,296.80 L277.0,296.76 L277.5,296.72 L278.0,296.67 L278.5,296.63 L279.0,296.59 L279.5,296.54 L280.0,296.50 L280.5,296.46 L281.0,296.41 L281.5,296.37 L282.0,296.32 L282.5,296.28 L283.0,296.23 L283.5,296.19 L284.0,296.14 L284.5,296.09 L285.0,296.05 L285.5,296.00 L286.0,295.96 L286.5,295.91 L287.0,295.86 L287.5,295.82 L288.0,295.77 L288.5,295.72 L289.0,295.68 L289.5,295.63 L290.0,295.58 L290.5,295.54 L291.0,295.49 L291.5,295.45 L292.0,295.40 L292.5,295.35 L293.0,295.31 L293.5,295.26 L294.0,295.22 L294.5,295.17 L295.0,295.13 L295.5,295.08 L296.0,295.04 L296.5,295.00 L297.0,294.95 L297.5,294.91 L298.0,294.87 L298.5,294.82 L299.0,294.78 L299.5,294.74 L300.0,294.70 L300.5,294.66 L301.0,294.62 L301.5,294.58 L302.0,294.54 L302.5,294.50 L303.0,294.46 L303.5,294.42 L304.0,294.39 L304.5,294.35 L305.0,294.31 L305.5,294.28 L306.0,294.24 L306.5,294.20 L307.0,294.17 L307.5,294.13 L308.0,294.09 L308.5,294.06 L309.0,294.02 L309.5,293.99 L310.0,293.95 L310.5,293.91 L311.0,293.88 L311.5,293.84 L312.0,293.81 L312.5,293.77 L313.0,293.73 L313.5,293.70 L314.0,293.66 L314.5,293.62 L315.0,293.59 L315.5,293.55 L316.0,293.51 L316.5,293.45 L317.0,293.40 L317.5,293.44 L318.0,293.18 L318.5,293.36 L319.0,293.31 L319.5,293.34 L320.0,293.38 L320.5,292.69 L321.0,293.82 L321.5,292.92 L322.0,292.67 L322.5,293.42 L323.0,292.94 L323.5,292.83 L324.0,293.14 L324.5,293.41 L325.0,292.67 L325.5,292.11 L326.0,293.00 L326.5,292.01 L327.0,292.24 L327.5,292.63 L328.0,291.85 L328.5,292.51 L329.0,291.76 L329.5,292.69 L330.0,292.14 L330.5,292.21 L331.0,291.94 L331.5,292.18 L332.0,292.06 L332.5,291.93 L333.0,291.44 L333.5,292.07 L334.0,291.22 L334.5,291.61 L335.0,291.68 L335.5,290.94 L336.0,291.98 L336.5,291.63 L337.0,291.17 L337.5,291.95 L338.0,291.48 L338.5,291.17 L339.0,291.27 L339.5,292.00 L340.0,291.70 L340.5,292.02 L341.0,290.72 L341.5,290.66 L342.0,291.40 L342.5,291.56 L343.0,291.25 L343.5,291.21 L344.0,291.48 L344.5,291.11 L345.0,290.66 L345.5,291.15 L346.0,291.02 L346.5,290.88 L347.0,291.58 L347.5,290.97 L348.0,291.18 L348.5,290.62 L349.0,291.34 L349.5,291.00 L350.0,290.51 L350.5,291.60 L351.0,291.38 L351.5,290.94 L352.0,291.20 L352.5,290.96 L353.0,291.66 L353.5,290.96 L354.0,291.82 L354.5,291.81 L355.0,291.55 L355.5,292.29 L356.0,291.42 L356.5,291.98 L357.0,291.49 L357.5,291.81 L358.0,291.85 L358.5,291.68 L359.0,291.62 L359.5,291.73 L360.0,291.35 L360.5,291.92 L361.0,291.84 L361.5,291.98 L362.0,291.63 L362.5,291.49 L363.0,291.44 L363.5,290.72 L364.0,290.87 L364.5,290.68 L365.0,290.07 L365.5,290.61 L366.0,290.79 L366.5,290.52 L367.0,290.26 L367.5,289.67 L368.0,290.27 L368.5,289.91 L369.0,290.07 L369.5,289.12 L370.0,290.08 L370.5,289.87 L371.0,289.40 L371.5,289.28 L372.0,289.78 L372.5,289.37 L373.0,289.27 L373.5,288.72 L374.0,289.65 L374.5,289.60 L375.0,288.96 L375.5,289.38 L376.0,288.45 L376.5,288.81 L377.0,288.96 L377.5,288.48 L378.0,288.64 L378.5,288.79 L379.0,288.66 L379.5,288.72 L380.0,288.50 L380.5,288.22 L381.0,287.63 L381.5,288.46 L382.0,288.21 L382.5,288.81 L383.0,288.41 L383.5,288.59 L384.0,287.99 L384.5,288.22 L385.0,288.05 L385.5,288.49 L386.0,288.34 L386.5,288.48 L387.0,288.47 L387.5,288.01 L388.0,287.78 L388.5,287.53 L389.0,287.73 L389.5,287.82 L390.0,287.68 L390.5,288.50 L391.0,287.67 L391.5,287.62 L392.0,287.69 L392.5,287.63 L393.0,287.84 L393.5,287.86 L394.0,287.76 L394.5,287.37 L395.0,287.18 L395.5,287.36 L396.0,287.53 L396.5,287.04 L397.0,287.33 L397.5,287.10 L398.0,287.15 L398.5,287.10 L399.0,287.07 L399.5,287.06 L400.0,287.00 L400.5,286.96 L401.0,286.92 L401.5,286.87 L402.0,286.82 L402.5,286.77 L403.0,286.72 L403.5,286.67 L404.0,286.62 L404.5,286.57 L405.0,286.51 L405.5,286.45 L406.0,286.40 L406.5,286.34 L407.0,286.29 L407.5,286.23 L408.0,286.17 L408.5,286.12 L409.0,286.06 L409.5,286.00 L410.0,285.95 L410.5,285.90 L411.0,285.85 L411.5,285.79 L412.0,285.75 L412.5,285.70 L413.0,285.65 L413.5,285.61 L414.0,285.57 L414.5,285.53 L415.0,285.49 L415.5,285.46 L416.0,285.43 L416.5,285.40 L417.0,285.37 L417.5,285.35 L418.0,285.33 L418.5,285.32 L419.0,285.31 L419.5,285.30 L420.0,285.30 L420.5,285.31 L421.0,285.32 L421.5,285.35 L422.0,285.38 L422.5,285.42 L423.0,285.47 L423.5,285.53 L424.0,285.60 L424.5,285.67 L425.0,285.75 L425.5,285.84 L426.0,285.93 L426.5,286.02 L427.0,286.13 L427.5,286.23 L428.0,286.34 L428.5,286.45 L429.0,286.56 L429.5,286.68 L430.0,286.80 L430.5,286.93 L431.0,287.08 L431.5,287.25 L432.0,287.43 L432.5,287.64 L433.0,287.86 L433.5,288.10 L434.0,288.36 L434.5,288.64 L435.0,288.94 L435.5,289.25 L436.0,289.59 L436.5,289.93 L437.0,290.30 L437.5,290.74 L438.0,291.28 L438.5,291.91 L439.0,292.60 L439.5,293.32 L440.0,294.04 L440.5,294.74 L441.0,295.40 L441.5,296.00 L442.0,296.57 L442.5,297.13 L443.0,297.72 L443.5,298.37 L444.0,299.10 L444.5,299.98 L445.0,301.00 L445.5,302.12 L446.0,303.29 L446.5,304.47 L447.0,305.60 L447.5,306.84 L448.0,308.27 L448.5,309.73 L449.0,311.07 L449.5,312.14 L450.0,312.78 L450.5,312.83 L451.0,312.16 L451.5,310.94 L452.0,309.42 L452.5,307.83 L453.0,306.40 L453.5,305.11 L454.0,303.79 L454.5,302.45 L455.0,301.08 L455.5,299.69 L456.0,298.30 L456.5,296.78 L457.0,295.12 L457.5,293.44 L458.0,291.87 L458.5,290.55 L459.0,289.60 L459.5,288.91 L460.0,288.30 L460.5,287.74 L461.0,287.25 L461.5,286.82 L462.0,286.46 L462.5,286.15 L463.0,285.90 L463.5,285.68 L464.0,285.47 L464.5,285.28 L465.0,285.09 L465.5,284.93 L466.0,284.78 L466.5,284.66 L467.0,284.58 L467.5,284.52 L468.0,284.50 L468.5,284.53 L469.0,284.61 L469.5,284.73 L470.0,284.88 L470.5,285.04 L471.0,285.20 L471.5,285.42 L472.0,285.73 L472.5,286.07 L473.0,286.38 L473.5,286.61 L474.0,286.70 L474.5,286.70 L475.0,286.69 L475.5,286.68 L476.0,286.67 L476.5,286.66 L477.0,286.65 L477.5,286.64 L478.0,286.63 L478.5,286.62 L479.0,286.61 L479.5,286.60 L480.0,286.60 L480.5,286.63 L481.0,286.70 L481.5,286.82 L482.0,286.99 L482.5,287.19 L483.0,287.42 L483.5,287.68 L484.0,287.97 L484.5,288.28 L485.0,288.60 L485.5,289.05 L486.0,289.71 L486.5,290.50 L487.0,291.37 L487.5,292.26 L488.0,293.10 L488.5,294.03 L489.0,295.13 L489.5,296.25 L490.0,297.23 L490.5,297.93 L491.0,298.20 L491.5,298.04 L492.0,297.66 L492.5,297.15 L493.0,296.64 L493.5,296.26 L494.0,296.10 L494.5,296.22 L495.0,296.53 L495.5,296.95 L496.0,297.42 L496.5,297.86 L497.0,298.20 L497.5,298.44 L498.0,298.66 L498.5,298.85 L499.0,299.03 L499.5,299.20 L500.0,299.37 L500.5,299.54 L501.0,299.74 L501.5,299.95 L502.0,300.20 L502.5,300.48 L503.0,300.80 L503.5,301.16 L504.0,301.53 L504.5,301.93 L505.0,302.34 L505.5,302.77 L506.0,303.20 L506.5,303.72 L507.0,304.36 L507.5,305.02 L508.0,305.61 L508.5,306.04 L509.0,306.20 L509.5,306.12 L510.0,305.91 L510.5,305.58 L511.0,305.17 L511.5,304.70 L512.0,304.20 L512.5,303.69 L513.0,303.20 L513.5,302.63 L514.0,301.89 L514.5,301.07 L515.0,300.23 L515.5,299.45 L516.0,298.81 L516.5,298.36 L517.0,298.20 L517.5,298.35 L518.0,298.78 L518.5,299.43 L519.0,300.25 L519.5,301.19 L520.0,302.20 L520.5,303.98 L521.0,306.56 L521.5,308.89 L522.0,309.90 L522.5,309.37 L523.0,307.99 L523.5,306.07 L524.0,303.93 L524.5,301.87 L525.0,300.20 L525.5,298.82 L526.0,297.45 L526.5,296.14 L527.0,294.94 L527.5,293.91 L528.0,293.10 L528.5,292.40 L529.0,291.76 L529.5,291.28 L530.0,291.10 L530.5,291.27 L531.0,291.74 L531.5,292.51" stroke="#1F9A5E" stroke-width="2.2" fill="none" stroke-linejoin="round"/>
<path d="M59.5,314.84V309.84M74.0,315.24V320.24M39.5,313.59V316.80M40.7,314.67V315.63M42.3,314.71V313.42M44.5,314.31V316.97M45.7,315.20V316.04M46.9,314.96V319.81M48.0,314.53V318.89M48.7,313.85V318.68M49.6,315.65V319.34M50.6,316.12V314.99M51.8,316.03V317.16M52.6,315.31V316.51M53.8,315.08V315.96M54.6,315.46V321.16M55.7,315.99V315.19M56.5,315.70V313.53M57.6,316.05V321.70M58.4,315.82V317.07M59.1,315.14V316.80M60.1,315.12V318.44M60.9,315.26V320.81M62.1,315.75V318.43M63.0,315.37V316.95M64.6,315.14V316.10M65.6,315.92V319.19M66.6,316.84V320.44M67.4,315.31V316.29M68.2,315.05V318.23M69.2,315.30V316.10M70.4,315.00V315.94M71.0,314.74V318.05M71.7,315.17V316.45M72.4,314.66V318.77M73.2,315.00V319.50M74.4,314.86V317.48M75.3,315.28V320.12M77.2,314.72V315.58M77.8,314.04V313.61M78.9,315.84V318.58M80.2,314.37V315.24M81.4,314.03V319.64M82.2,314.56V319.69M83.2,313.88V312.31M83.9,314.41V316.21M84.6,314.00V319.19M85.5,314.50V316.34M86.8,313.74V315.21M87.7,313.75V315.04M88.3,313.13V316.11M89.4,312.72V314.13M91.7,313.34V315.48M94.0,312.76V313.27M94.9,312.64V317.34M95.9,312.56V315.63M96.9,312.72V316.40M97.6,312.68V313.56M98.6,312.02V314.17M101.0,312.60V313.03M102.0,312.43V313.13M103.1,312.51V314.34M104.0,311.31V312.63M105.1,312.06V313.14M106.2,312.23V312.76M107.8,312.61V313.13M326.2,292.50V293.58M328.5,292.44V293.57M333.3,291.84V292.36M334.5,291.61V292.82M338.4,291.21V291.86M340.0,291.72V292.48M343.1,291.25V293.53M344.4,291.15V294.12M347.1,291.42V293.43M348.5,290.68V293.90M349.7,290.83V294.51M351.3,291.07V292.86M353.0,291.59V297.89M356.4,291.82V295.58M357.3,291.70V293.50M359.2,291.67V297.34M360.2,291.53V292.38M363.0,291.38V294.24M364.5,290.63V295.01M366.0,290.78V292.25M367.2,290.04V291.32M369.2,289.71V290.39M372.5,289.37V294.32M374.2,289.63V293.16M375.6,289.14V291.93M377.0,288.93V290.02M378.4,288.77V289.95M380.3,288.36V289.83M381.4,288.36V290.86M382.8,288.58V290.99M384.1,288.04V290.51M385.1,288.10V291.58M386.6,288.48V289.90M387.7,287.90V289.17M389.0,287.72V288.22M390.0,287.69V288.29M391.5,287.62V289.68M392.8,287.75V288.84M360.5,291.92V296.72M354.0,291.82V295.72M373.6,288.90V291.90M380.9,287.75V290.15M357.5,291.81V295.11" stroke="#1F9A5E" stroke-width="1.5" fill="none"/>
<path d="M38.5,335.24 L39.0,334.69 L39.5,334.58 L40.0,333.44 L40.5,334.76 L41.0,334.59 L41.5,334.47 L42.0,334.89 L42.5,334.93 L43.0,334.17 L43.5,334.25 L44.0,334.45 L44.5,335.02 L45.0,334.94 L45.5,334.00 L46.0,334.08 L46.5,335.00 L47.0,335.41 L47.5,334.59 L48.0,334.25 L48.5,335.13 L49.0,334.42 L49.5,334.92 L50.0,335.32 L50.5,334.85 L51.0,334.56 L51.5,334.88 L52.0,334.18 L52.5,334.40 L53.0,334.19 L53.5,334.36 L54.0,334.20 L54.5,334.34 L55.0,334.23 L55.5,334.45 L56.0,334.43 L56.5,334.53 L57.0,335.07 L57.5,333.58 L58.0,334.99 L58.5,334.21 L59.0,333.70 L59.5,334.22 L60.0,334.33 L60.5,334.81 L61.0,333.73 L61.5,334.36 L62.0,334.29 L62.5,333.38 L63.0,333.61 L63.5,334.49 L64.0,334.52 L64.5,334.71 L65.0,334.41 L65.5,334.33 L66.0,334.18 L66.5,334.71 L67.0,333.67 L67.5,334.00 L68.0,334.25 L68.5,333.26 L69.0,334.69 L69.5,333.62 L70.0,333.96 L70.5,335.06 L71.0,333.55 L71.5,333.69 L72.0,334.72 L72.5,333.38 L73.0,333.69 L73.5,334.15 L74.0,334.10 L74.5,334.15 L75.0,334.02 L75.5,334.49 L76.0,334.31 L76.5,334.08 L77.0,333.43 L77.5,333.39 L78.0,332.78 L78.5,334.06 L79.0,332.79 L79.5,334.12 L80.0,334.58 L80.5,333.11 L81.0,333.28 L81.5,333.37 L82.0,334.00 L82.5,333.14 L83.0,333.48 L83.5,333.27 L84.0,333.38 L84.5,334.14 L85.0,332.99 L85.5,333.49 L86.0,333.57 L86.5,333.84 L87.0,332.76 L87.5,333.93 L88.0,333.57 L88.5,333.77 L89.0,333.35 L89.5,332.48 L90.0,332.95 L90.5,333.67 L91.0,333.26 L91.5,333.19 L92.0,334.10 L92.5,334.28 L93.0,333.14 L93.5,334.11 L94.0,332.13 L94.5,332.08 L95.0,333.52 L95.5,332.93 L96.0,333.34 L96.5,333.29 L97.0,332.96 L97.5,333.33 L98.0,333.05 L98.5,332.19 L99.0,333.05 L99.5,333.01 L100.0,333.82 L100.5,332.32 L101.0,332.87 L101.5,332.64 L102.0,332.76 L102.5,333.64 L103.0,332.99 L103.5,332.55 L104.0,332.84 L104.5,333.11 L105.0,332.27 L105.5,332.60 L106.0,333.34 L106.5,333.02 L107.0,332.65 L107.5,332.48 L108.0,332.58 L108.5,332.13 L109.0,332.88 L109.5,332.68 L110.0,332.60 L110.5,332.25 L111.0,332.39 L111.5,332.61 L112.0,332.54 L112.5,332.41 L113.0,332.53 L113.5,332.55 L114.0,332.38 L114.5,332.38 L115.0,332.36 L115.5,332.35 L116.0,332.36 L116.5,332.34 L117.0,332.32 L117.5,332.30 L118.0,332.28 L118.5,332.26 L119.0,332.24 L119.5,332.22 L120.0,332.20 L120.5,332.18 L121.0,332.16 L121.5,332.13 L122.0,332.11 L122.5,332.09 L123.0,332.06 L123.5,332.04 L124.0,332.01 L124.5,331.99 L125.0,331.96 L125.5,331.93 L126.0,331.91 L126.5,331.88 L127.0,331.85 L127.5,331.82 L128.0,331.80 L128.5,331.77 L129.0,331.74 L129.5,331.71 L130.0,331.68 L130.5,331.65 L131.0,331.62 L131.5,331.59 L132.0,331.56 L132.5,331.53 L133.0,331.50 L133.5,331.47 L134.0,331.45 L134.5,331.42 L135.0,331.39 L135.5,331.36 L136.0,331.33 L136.5,331.30 L137.0,331.27 L137.5,331.24 L138.0,331.21 L138.5,331.18 L139.0,331.16 L139.5,331.13 L140.0,331.10 L140.5,331.07 L141.0,331.05 L141.5,331.02 L142.0,330.99 L142.5,330.96 L143.0,330.94 L143.5,330.91 L144.0,330.88 L144.5,330.85 L145.0,330.83 L145.5,330.80 L146.0,330.77 L146.5,330.74 L147.0,330.72 L147.5,330.69 L148.0,330.66 L148.5,330.63 L149.0,330.61 L149.5,330.58 L150.0,330.55 L150.5,330.52 L151.0,330.50 L151.5,330.47 L152.0,330.44 L152.5,330.41 L153.0,330.39 L153.5,330.36 L154.0,330.33 L154.5,330.30 L155.0,330.27 L155.5,330.25 L156.0,330.22 L156.5,330.19 L157.0,330.16 L157.5,330.14 L158.0,330.11 L158.5,330.08 L159.0,330.05 L159.5,330.03 L160.0,330.00 L160.5,329.97 L161.0,329.94 L161.5,329.92 L162.0,329.89 L162.5,329.86 L163.0,329.83 L163.5,329.81 L164.0,329.78 L164.5,329.75 L165.0,329.72 L165.5,329.70 L166.0,329.67 L166.5,329.64 L167.0,329.62 L167.5,329.59 L168.0,329.56 L168.5,329.53 L169.0,329.50 L169.5,329.48 L170.0,329.45 L170.5,329.42 L171.0,329.39 L171.5,329.37 L172.0,329.34 L172.5,329.31 L173.0,329.28 L173.5,329.26 L174.0,329.23 L174.5,329.20 L175.0,329.17 L175.5,329.15 L176.0,329.12 L176.5,329.09 L177.0,329.06 L177.5,329.04 L178.0,329.01 L178.5,328.98 L179.0,328.95 L179.5,328.93 L180.0,328.90 L180.5,328.87 L181.0,328.85 L181.5,328.82 L182.0,328.79 L182.5,328.76 L183.0,328.74 L183.5,328.71 L184.0,328.68 L184.5,328.66 L185.0,328.63 L185.5,328.60 L186.0,328.58 L186.5,328.55 L187.0,328.52 L187.5,328.50 L188.0,328.47 L188.5,328.44 L189.0,328.42 L189.5,328.39 L190.0,328.36 L190.5,328.33 L191.0,328.31 L191.5,328.28 L192.0,328.25 L192.5,328.23 L193.0,328.20 L193.5,328.17 L194.0,328.14 L194.5,328.12 L195.0,328.09 L195.5,328.06 L196.0,328.03 L196.5,328.00 L197.0,327.97 L197.5,327.95 L198.0,327.92 L198.5,327.89 L199.0,327.86 L199.5,327.83 L200.0,327.80 L200.5,327.77 L201.0,327.74 L201.5,327.71 L202.0,327.68 L202.5,327.65 L203.0,327.62 L203.5,327.58 L204.0,327.55 L204.5,327.52 L205.0,327.49 L205.5,327.46 L206.0,327.42 L206.5,327.39 L207.0,327.36 L207.5,327.32 L208.0,327.29 L208.5,327.26 L209.0,327.22 L209.5,327.19 L210.0,327.16 L210.5,327.12 L211.0,327.09 L211.5,327.06 L212.0,327.02 L212.5,326.99 L213.0,326.96 L213.5,326.92 L214.0,326.89 L214.5,326.86 L215.0,326.82 L215.5,326.79 L216.0,326.76 L216.5,326.72 L217.0,326.69 L217.5,326.66 L218.0,326.63 L218.5,326.59 L219.0,326.56 L219.5,326.53 L220.0,326.50 L220.5,326.47 L221.0,326.44 L221.5,326.41 L222.0,326.38 L222.5,326.35 L223.0,326.32 L223.5,326.28 L224.0,326.25 L224.5,326.22 L225.0,326.19 L225.5,326.16 L226.0,326.13 L226.5,326.10 L227.0,326.07 L227.5,326.04 L228.0,326.01 L228.5,325.98 L229.0,325.95 L229.5,325.93 L230.0,325.90 L230.5,325.87 L231.0,325.84 L231.5,325.81 L232.0,325.78 L232.5,325.75 L233.0,325.72 L233.5,325.69 L234.0,325.66 L234.5,325.63 L235.0,325.60 L235.5,325.57 L236.0,325.54 L236.5,325.51 L237.0,325.48 L237.5,325.45 L238.0,325.42 L238.5,325.39 L239.0,325.36 L239.5,325.33 L240.0,325.30 L240.5,325.27 L241.0,325.24 L241.5,325.21 L242.0,325.18 L242.5,325.15 L243.0,325.12 L243.5,325.09 L244.0,325.06 L244.5,325.03 L245.0,325.00 L245.5,324.98 L246.0,324.95 L246.5,324.92 L247.0,324.89 L247.5,324.86 L248.0,324.83 L248.5,324.80 L249.0,324.77 L249.5,324.74 L250.0,324.71 L250.5,324.68 L251.0,324.65 L251.5,324.62 L252.0,324.59 L252.5,324.56 L253.0,324.53 L253.5,324.50 L254.0,324.47 L254.5,324.43 L255.0,324.40 L255.5,324.37 L256.0,324.34 L256.5,324.30 L257.0,324.27 L257.5,324.23 L258.0,324.20 L258.5,324.16 L259.0,324.13 L259.5,324.09 L260.0,324.06 L260.5,324.05 L261.0,324.12 L261.5,324.48 L262.0,325.40 L262.5,326.91 L263.0,328.42 L263.5,328.94 L264.0,328.23 L264.5,327.12 L265.0,326.62 L265.5,326.95 L266.0,327.62 L266.5,328.01 L267.0,327.81 L267.5,327.11 L268.0,326.20 L268.5,325.37 L269.0,324.74 L269.5,324.29 L270.0,323.95 L270.5,323.68 L271.0,323.46 L271.5,323.29 L272.0,323.17 L272.5,323.08 L273.0,323.01 L273.5,322.95 L274.0,322.91 L274.5,322.86 L275.0,322.82 L275.5,322.77 L276.0,322.73 L276.5,322.69 L277.0,322.65 L277.5,322.61 L278.0,322.56 L278.5,322.52 L279.0,322.48 L279.5,322.44 L280.0,322.40 L280.5,322.36 L281.0,322.32 L281.5,322.28 L282.0,322.24 L282.5,322.20 L283.0,322.16 L283.5,322.12 L284.0,322.08 L284.5,322.04 L285.0,322.00 L285.5,321.96 L286.0,321.92 L286.5,321.88 L287.0,321.84 L287.5,321.81 L288.0,321.77 L288.5,321.73 L289.0,321.69 L289.5,321.65 L290.0,321.61 L290.5,321.57 L291.0,321.53 L291.5,321.49 L292.0,321.45 L292.5,321.41 L293.0,321.37 L293.5,321.33 L294.0,321.29 L294.5,321.25 L295.0,321.21 L295.5,321.17 L296.0,321.13 L296.5,321.09 L297.0,321.05 L297.5,321.01 L298.0,320.97 L298.5,320.93 L299.0,320.88 L299.5,320.84 L300.0,320.80 L300.5,320.76 L301.0,320.72 L301.5,320.67 L302.0,320.63 L302.5,320.59 L303.0,320.55 L303.5,320.51 L304.0,320.47 L304.5,320.42 L305.0,320.38 L305.5,320.34 L306.0,320.30 L306.5,320.26 L307.0,320.21 L307.5,320.17 L308.0,320.13 L308.5,320.09 L309.0,320.04 L309.5,320.00 L310.0,319.96 L310.5,319.91 L311.0,319.87 L311.5,319.83 L312.0,319.78 L312.5,319.74 L313.0,319.69 L313.5,319.65 L314.0,319.60 L314.5,319.55 L315.0,319.51 L315.5,319.46 L316.0,319.41 L316.5,319.33 L317.0,319.24 L317.5,319.22 L318.0,319.20 L318.5,318.97 L319.0,319.39 L319.5,319.18 L320.0,318.88 L320.5,319.15 L321.0,319.61 L321.5,318.91 L322.0,318.85 L322.5,319.08 L323.0,318.18 L323.5,318.39 L324.0,318.26 L324.5,318.74 L325.0,317.81 L325.5,318.45 L326.0,318.10 L326.5,318.10 L327.0,317.94 L327.5,318.58 L328.0,317.69 L328.5,317.51 L329.0,317.96 L329.5,317.58 L330.0,317.89 L330.5,317.62 L331.0,317.58 L331.5,317.52 L332.0,316.83 L332.5,316.64 L333.0,317.99 L333.5,316.80 L334.0,317.32 L334.5,316.67 L335.0,316.96 L335.5,316.83 L336.0,317.36 L336.5,316.71 L337.0,316.17 L337.5,316.14 L338.0,316.68 L338.5,316.81 L339.0,317.15 L339.5,317.13 L340.0,315.82 L340.5,316.21 L341.0,315.76 L341.5,316.23 L342.0,316.35 L342.5,315.37 L343.0,316.26 L343.5,316.16 L344.0,315.76 L344.5,315.59 L345.0,316.34 L345.5,315.66 L346.0,315.29 L346.5,315.68 L347.0,315.97 L347.5,315.82 L348.0,314.87 L348.5,315.06 L349.0,315.38 L349.5,315.57 L350.0,315.56 L350.5,315.07 L351.0,315.84 L351.5,315.69 L352.0,314.98 L352.5,315.21 L353.0,315.53 L353.5,315.05 L354.0,315.61 L354.5,315.67 L355.0,315.47 L355.5,315.84 L356.0,316.28 L356.5,315.41 L357.0,315.81 L357.5,315.47 L358.0,316.14 L358.5,316.01 L359.0,315.53 L359.5,315.27 L360.0,315.70 L360.5,315.33 L361.0,314.84 L361.5,314.82 L362.0,315.01 L362.5,315.72 L363.0,315.22 L363.5,315.20 L364.0,314.91 L364.5,314.92 L365.0,314.82 L365.5,313.76 L366.0,314.21 L366.5,314.07 L367.0,313.88 L367.5,313.70 L368.0,312.52 L368.5,313.33 L369.0,312.64 L369.5,313.32 L370.0,312.67 L370.5,312.63 L371.0,312.58 L371.5,311.76 L372.0,312.30 L372.5,311.81 L373.0,312.49 L373.5,311.87 L374.0,311.56 L374.5,312.30 L375.0,311.67 L375.5,311.35 L376.0,311.57 L376.5,311.46 L377.0,311.53 L377.5,311.03 L378.0,311.68 L378.5,311.35 L379.0,311.74 L379.5,311.30 L380.0,310.69 L380.5,311.34 L381.0,310.81 L381.5,310.87 L382.0,309.91 L382.5,310.27 L383.0,311.13 L383.5,310.97 L384.0,309.91 L384.5,310.58 L385.0,310.52 L385.5,310.78 L386.0,309.90 L386.5,309.61 L387.0,310.27 L387.5,309.87 L388.0,309.83 L388.5,309.67 L389.0,310.36 L389.5,309.56 L390.0,310.14 L390.5,309.96 L391.0,309.46 L391.5,309.97 L392.0,310.01 L392.5,309.63 L393.0,309.37 L393.5,309.65 L394.0,309.07 L394.5,309.43 L395.0,309.66 L395.5,308.79 L396.0,308.67 L396.5,309.18 L397.0,308.81 L397.5,308.84 L398.0,308.87 L398.5,308.74 L399.0,308.74 L399.5,308.64 L400.0,308.61 L400.5,308.56 L401.0,308.50 L401.5,308.44 L402.0,308.39 L402.5,308.33 L403.0,308.28 L403.5,308.23 L404.0,308.17 L404.5,308.12 L405.0,308.07 L405.5,308.02 L406.0,307.97 L406.5,307.92 L407.0,307.87 L407.5,307.82 L408.0,307.78 L408.5,307.73 L409.0,307.69 L409.5,307.64 L410.0,307.60 L410.5,307.56 L411.0,307.51 L411.5,307.47 L412.0,307.42 L412.5,307.37 L413.0,307.33 L413.5,307.28 L414.0,307.23 L414.5,307.19 L415.0,307.15 L415.5,307.10 L416.0,307.07 L416.5,307.03 L417.0,307.00 L417.5,306.97 L418.0,306.95 L418.5,306.93 L419.0,306.91 L419.5,306.90 L420.0,306.90 L420.5,306.90 L421.0,306.91 L421.5,306.92 L422.0,306.94 L422.5,306.96 L423.0,306.98 L423.5,307.01 L424.0,307.04 L424.5,307.07 L425.0,307.11 L425.5,307.16 L426.0,307.20 L426.5,307.25 L427.0,307.31 L427.5,307.37 L428.0,307.43 L428.5,307.49 L429.0,307.56 L429.5,307.63 L430.0,307.70 L430.5,307.80 L431.0,307.95 L431.5,308.15 L432.0,308.38 L432.5,308.66 L433.0,308.97 L433.5,309.31 L434.0,309.68 L434.5,310.06 L435.0,310.47 L435.5,310.89 L436.0,311.32 L436.5,311.76 L437.0,312.20 L437.5,312.71 L438.0,313.32 L438.5,314.01 L439.0,314.73 L439.5,315.46 L440.0,316.15 L440.5,316.78 L441.0,317.30 L441.5,317.71 L442.0,318.06 L442.5,318.38 L443.0,318.70 L443.5,319.06 L444.0,319.50 L444.5,320.06 L445.0,320.74 L445.5,321.50 L446.0,322.31 L446.5,323.12 L447.0,323.90 L447.5,324.76 L448.0,325.75 L448.5,326.77 L449.0,327.72 L449.5,328.47 L450.0,328.92 L450.5,328.94 L451.0,328.34 L451.5,327.25 L452.0,325.88 L452.5,324.43 L453.0,323.10 L453.5,321.84 L454.0,320.50 L454.5,319.10 L455.0,317.71 L455.5,316.36 L456.0,315.10 L456.5,313.86 L457.0,312.61 L457.5,311.38 L458.0,310.25 L458.5,309.27 L459.0,308.50 L459.5,307.86 L460.0,307.25 L460.5,306.68 L461.0,306.17 L461.5,305.73 L462.0,305.36 L462.5,305.08 L463.0,304.90 L463.5,304.78 L464.0,304.67 L464.5,304.57 L465.0,304.47 L465.5,304.39 L466.0,304.33 L466.5,304.27 L467.0,304.23 L467.5,304.21 L468.0,304.20 L468.5,304.30 L469.0,304.56 L469.5,304.90 L470.0,305.24 L470.5,305.50 L471.0,305.60 L471.5,305.59 L472.0,305.56 L472.5,305.51 L473.0,305.46 L473.5,305.40 L474.0,305.34 L474.5,305.29 L475.0,305.24 L475.5,305.21 L476.0,305.20 L476.5,305.20 L477.0,305.21 L477.5,305.22 L478.0,305.23 L478.5,305.24 L479.0,305.26 L479.5,305.28 L480.0,305.30 L480.5,305.34 L481.0,305.41 L481.5,305.50 L482.0,305.63 L482.5,305.77 L483.0,305.94 L483.5,306.13 L484.0,306.34 L484.5,306.56 L485.0,306.80 L485.5,307.10 L486.0,307.51 L486.5,308.01 L487.0,308.59 L487.5,309.22 L488.0,309.90 L488.5,310.86 L489.0,312.18 L489.5,313.62 L490.0,314.95 L490.5,315.92 L491.0,316.30 L491.5,315.97 L492.0,315.16 L492.5,314.10 L493.0,313.04 L493.5,312.23 L494.0,311.90 L494.5,311.97 L495.0,312.15 L495.5,312.41 L496.0,312.71 L496.5,313.02 L497.0,313.30 L497.5,313.56 L498.0,313.82 L498.5,314.09 L499.0,314.36 L499.5,314.65 L500.0,314.94 L500.5,315.25 L501.0,315.58 L501.5,315.93 L502.0,316.30 L502.5,316.71 L503.0,317.18 L503.5,317.69 L504.0,318.23 L504.5,318.78 L505.0,319.33 L505.5,319.88 L506.0,320.40 L506.5,320.97 L507.0,321.63 L507.5,322.28 L508.0,322.85 L508.5,323.25 L509.0,323.40 L509.5,323.32 L510.0,323.10 L510.5,322.76 L511.0,322.34 L511.5,321.86 L512.0,321.36 L512.5,320.86 L513.0,320.40 L513.5,319.87 L514.0,319.21 L514.5,318.52 L515.0,317.91 L515.5,317.47 L516.0,317.30 L516.5,317.38 L517.0,317.60 L517.5,317.93 L518.0,318.36 L518.5,318.86 L519.0,319.40 L519.5,320.38 L520.0,321.97 L520.5,323.82 L521.0,325.57 L521.5,326.88 L522.0,327.40 L522.5,326.76 L523.0,325.10 L523.5,322.82 L524.0,320.33 L524.5,318.02 L525.0,316.30 L525.5,315.06 L526.0,313.92 L526.5,312.89 L527.0,311.95 L527.5,311.09 L528.0,310.30 L528.5,309.56 L529.0,308.85 L529.5,308.19 L530.0,307.56 L530.5,306.99 L531.0,306.48 L531.5,306.03" stroke="#F07F1C" stroke-width="2.2" fill="none" stroke-linejoin="round"/>
<path d="M59.5,334.22V328.22M74.0,334.10V329.10M41.6,334.55V335.29M42.8,334.41V335.41M43.5,334.25V335.41M44.4,334.85V335.68M45.2,334.58V335.47M46.2,334.50V335.63M47.2,335.14V336.59M47.9,334.31V336.33M48.9,334.58V335.15M50.0,335.30V335.92M51.0,334.57V335.69M51.9,334.33V335.98M52.6,334.36V335.74M54.2,334.27V335.66M56.9,334.93V336.10M58.1,334.82V336.73M58.8,333.91V334.64M60.0,334.34V335.62M62.6,333.44V334.22M64.5,334.68V335.97M65.2,334.38V336.41M65.9,334.22V334.86M67.7,334.11V335.68M69.0,334.59V335.23M71.1,333.58V334.91M71.8,334.21V334.70M72.8,333.57V335.28M74.4,334.14V335.87M75.9,334.33V335.98M77.0,333.43V333.90M78.0,332.86V334.63M79.8,334.38V336.25M80.5,333.18V335.13M82.2,333.68V334.41M83.3,333.34V334.48M84.5,334.07V335.80M85.5,333.49V335.22M88.3,333.71V335.03M89.5,332.49V333.30M90.5,333.64V335.52M91.8,333.66V334.47M92.4,334.26V335.15M96.6,333.24V334.63M97.2,333.12V334.25M98.5,332.26V332.77M99.2,333.03V334.05M100.4,332.72V333.55M104.6,332.92V333.40M327.1,318.13V318.94M333.2,317.53V318.52M335.7,316.99V317.87M337.9,316.60V317.58M342.3,315.81V316.36M343.6,316.07V317.50M344.9,316.19V316.96M346.1,315.35V317.23M347.8,315.31V317.29M348.7,315.20V316.19M350.1,315.45V316.83M353.5,315.07V318.08M354.8,315.55V316.25M355.8,316.09V319.24M357.0,315.80V317.23M358.2,316.09V317.09M360.1,315.65V318.17M361.8,314.95V316.21M363.5,315.18V318.20M364.6,314.90V318.17M365.6,313.86V315.27M366.9,313.91V315.62M368.1,312.70V313.96M371.2,312.24V313.54M373.5,311.89V314.36M374.8,311.87V315.41M376.0,311.56V314.75M377.1,311.44V312.14M378.1,311.63V315.06M379.8,310.88V312.14M381.1,310.82V313.87M383.9,310.12V311.47M385.6,310.68V312.45M390.9,309.52V310.06M393.5,309.65V310.19M360.5,315.33V318.53M354.0,315.61V318.21M373.6,311.80V313.80M380.9,310.92V312.52M357.5,315.47V317.67" stroke="#F07F1C" stroke-width="1.5" fill="none"/>
<path d="M38.5,368.57 L39.0,368.13 L39.5,368.63 L40.0,367.34 L40.5,369.10 L41.0,367.54 L41.5,368.65 L42.0,368.60 L42.5,368.15 L43.0,370.75 L43.5,368.35 L44.0,369.12 L44.5,369.58 L45.0,367.99 L45.5,369.80 L46.0,368.79 L46.5,369.60 L47.0,368.27 L47.5,368.20 L48.0,369.78 L48.5,369.29 L49.0,369.05 L49.5,369.41 L50.0,369.34 L50.5,368.17 L51.0,367.43 L51.5,367.81 L52.0,367.74 L52.5,367.44 L53.0,368.54 L53.5,368.63 L54.0,368.97 L54.5,369.15 L55.0,368.73 L55.5,368.82 L56.0,369.05 L56.5,368.30 L57.0,368.49 L57.5,369.00 L58.0,368.48 L58.5,368.53 L59.0,368.83 L59.5,369.81 L60.0,369.06 L60.5,368.56 L61.0,368.34 L61.5,368.62 L62.0,370.22 L62.5,366.40 L63.0,368.92 L63.5,368.65 L64.0,369.03 L64.5,367.56 L65.0,369.78 L65.5,368.93 L66.0,368.13 L66.5,368.21 L67.0,367.53 L67.5,368.00 L68.0,367.80 L68.5,368.49 L69.0,368.01 L69.5,367.64 L70.0,368.10 L70.5,367.95 L71.0,367.66 L71.5,366.37 L72.0,368.10 L72.5,366.50 L73.0,366.56 L73.5,367.14 L74.0,367.52 L74.5,368.10 L75.0,365.89 L75.5,368.07 L76.0,368.15 L76.5,366.64 L77.0,366.79 L77.5,366.50 L78.0,366.45 L78.5,365.90 L79.0,365.63 L79.5,366.64 L80.0,366.93 L80.5,368.00 L81.0,365.99 L81.5,365.20 L82.0,366.74 L82.5,366.28 L83.0,366.83 L83.5,366.28 L84.0,365.65 L84.5,366.02 L85.0,367.04 L85.5,366.64 L86.0,365.75 L86.5,367.01 L87.0,365.37 L87.5,365.98 L88.0,366.47 L88.5,365.35 L89.0,365.45 L89.5,366.28 L90.0,366.19 L90.5,366.05 L91.0,365.80 L91.5,365.41 L92.0,365.61 L92.5,368.27 L93.0,365.68 L93.5,367.15 L94.0,365.67 L94.5,367.01 L95.0,366.90 L95.5,366.33 L96.0,365.55 L96.5,365.02 L97.0,366.64 L97.5,365.04 L98.0,365.03 L98.5,366.97 L99.0,366.91 L99.5,365.89 L100.0,365.67 L100.5,365.36 L101.0,366.05 L101.5,365.44 L102.0,364.70 L102.5,365.21 L103.0,365.89 L103.5,364.59 L104.0,365.00 L104.5,365.74 L105.0,366.73 L105.5,365.73 L106.0,365.62 L106.5,366.66 L107.0,365.01 L107.5,365.19 L108.0,365.93 L108.5,365.99 L109.0,365.70 L109.5,364.50 L110.0,365.74 L110.5,365.68 L111.0,365.47 L111.5,365.62 L112.0,365.77 L112.5,365.44 L113.0,365.26 L113.5,365.15 L114.0,365.42 L114.5,365.34 L115.0,365.37 L115.5,365.37 L116.0,365.40 L116.5,365.40 L117.0,365.41 L117.5,365.43 L118.0,365.45 L118.5,365.48 L119.0,365.50 L119.5,365.52 L120.0,365.55 L120.5,365.57 L121.0,365.59 L121.5,365.60 L122.0,365.60 L122.5,365.59 L123.0,365.57 L123.5,365.54 L124.0,365.49 L124.5,365.44 L125.0,365.37 L125.5,365.30 L126.0,365.21 L126.5,365.12 L127.0,365.02 L127.5,364.92 L128.0,364.81 L128.5,364.70 L129.0,364.58 L129.5,364.46 L130.0,364.33 L130.5,364.21 L131.0,364.09 L131.5,363.96 L132.0,363.84 L132.5,363.72 L133.0,363.60 L133.5,363.49 L134.0,363.38 L134.5,363.27 L135.0,363.17 L135.5,363.08 L136.0,363.00 L136.5,362.92 L137.0,362.84 L137.5,362.76 L138.0,362.69 L138.5,362.61 L139.0,362.54 L139.5,362.46 L140.0,362.39 L140.5,362.31 L141.0,362.24 L141.5,362.17 L142.0,362.10 L142.5,362.04 L143.0,361.97 L143.5,361.90 L144.0,361.84 L144.5,361.78 L145.0,361.72 L145.5,361.66 L146.0,361.60 L146.5,361.54 L147.0,361.49 L147.5,361.43 L148.0,361.38 L148.5,361.33 L149.0,361.27 L149.5,361.22 L150.0,361.17 L150.5,361.12 L151.0,361.07 L151.5,361.02 L152.0,360.97 L152.5,360.92 L153.0,360.87 L153.5,360.83 L154.0,360.78 L154.5,360.73 L155.0,360.69 L155.5,360.64 L156.0,360.60 L156.5,360.55 L157.0,360.51 L157.5,360.46 L158.0,360.42 L158.5,360.38 L159.0,360.33 L159.5,360.29 L160.0,360.25 L160.5,360.21 L161.0,360.16 L161.5,360.12 L162.0,360.08 L162.5,360.04 L163.0,360.00 L163.5,359.96 L164.0,359.92 L164.5,359.88 L165.0,359.84 L165.5,359.80 L166.0,359.76 L166.5,359.72 L167.0,359.68 L167.5,359.64 L168.0,359.60 L168.5,359.56 L169.0,359.52 L169.5,359.48 L170.0,359.44 L170.5,359.40 L171.0,359.35 L171.5,359.31 L172.0,359.27 L172.5,359.23 L173.0,359.19 L173.5,359.15 L174.0,359.11 L174.5,359.07 L175.0,359.03 L175.5,358.99 L176.0,358.95 L176.5,358.90 L177.0,358.86 L177.5,358.82 L178.0,358.78 L178.5,358.73 L179.0,358.69 L179.5,358.64 L180.0,358.60 L180.5,358.56 L181.0,358.51 L181.5,358.47 L182.0,358.42 L182.5,358.38 L183.0,358.33 L183.5,358.28 L184.0,358.24 L184.5,358.19 L185.0,358.15 L185.5,358.10 L186.0,358.05 L186.5,358.01 L187.0,357.96 L187.5,357.91 L188.0,357.87 L188.5,357.82 L189.0,357.77 L189.5,357.73 L190.0,357.68 L190.5,357.63 L191.0,357.59 L191.5,357.54 L192.0,357.49 L192.5,357.44 L193.0,357.40 L193.5,357.35 L194.0,357.30 L194.5,357.25 L195.0,357.21 L195.5,357.16 L196.0,357.11 L196.5,357.06 L197.0,357.02 L197.5,356.97 L198.0,356.92 L198.5,356.87 L199.0,356.82 L199.5,356.78 L200.0,356.73 L200.5,356.68 L201.0,356.63 L201.5,356.59 L202.0,356.54 L202.5,356.49 L203.0,356.44 L203.5,356.40 L204.0,356.35 L204.5,356.30 L205.0,356.25 L205.5,356.21 L206.0,356.16 L206.5,356.11 L207.0,356.07 L207.5,356.02 L208.0,355.97 L208.5,355.93 L209.0,355.88 L209.5,355.83 L210.0,355.79 L210.5,355.74 L211.0,355.70 L211.5,355.65 L212.0,355.60 L212.5,355.56 L213.0,355.51 L213.5,355.47 L214.0,355.42 L214.5,355.38 L215.0,355.33 L215.5,355.29 L216.0,355.25 L216.5,355.20 L217.0,355.16 L217.5,355.11 L218.0,355.07 L218.5,355.03 L219.0,354.98 L219.5,354.94 L220.0,354.90 L220.5,354.86 L221.0,354.81 L221.5,354.77 L222.0,354.73 L222.5,354.69 L223.0,354.65 L223.5,354.61 L224.0,354.57 L224.5,354.53 L225.0,354.48 L225.5,354.45 L226.0,354.41 L226.5,354.37 L227.0,354.33 L227.5,354.29 L228.0,354.25 L228.5,354.21 L229.0,354.17 L229.5,354.14 L230.0,354.10 L230.5,354.06 L231.0,354.03 L231.5,353.99 L232.0,353.95 L232.5,353.92 L233.0,353.88 L233.5,353.85 L234.0,353.81 L234.5,353.78 L235.0,353.74 L235.5,353.71 L236.0,353.68 L236.5,353.64 L237.0,353.61 L237.5,353.58 L238.0,353.54 L238.5,353.51 L239.0,353.48 L239.5,353.44 L240.0,353.41 L240.5,353.38 L241.0,353.35 L241.5,353.31 L242.0,353.28 L242.5,353.25 L243.0,353.22 L243.5,353.19 L244.0,353.16 L244.5,353.13 L245.0,353.09 L245.5,353.06 L246.0,353.03 L246.5,353.00 L247.0,352.97 L247.5,352.94 L248.0,352.91 L248.5,352.88 L249.0,352.85 L249.5,352.82 L250.0,352.79 L250.5,352.76 L251.0,352.73 L251.5,352.70 L252.0,352.67 L252.5,352.64 L253.0,352.60 L253.5,352.57 L254.0,352.54 L254.5,352.51 L255.0,352.48 L255.5,352.45 L256.0,352.42 L256.5,352.39 L257.0,352.36 L257.5,352.33 L258.0,352.30 L258.5,352.27 L259.0,352.24 L259.5,352.21 L260.0,352.18 L260.5,352.19 L261.0,352.37 L261.5,353.05 L262.0,354.74 L262.5,357.50 L263.0,360.24 L263.5,361.22 L264.0,359.96 L264.5,357.98 L265.0,357.08 L265.5,357.67 L266.0,358.87 L266.5,359.59 L267.0,359.28 L267.5,358.09 L268.0,356.54 L268.5,355.13 L269.0,354.07 L269.5,353.32 L270.0,352.77 L270.5,352.34 L271.0,352.01 L271.5,351.76 L272.0,351.59 L272.5,351.47 L273.0,351.40 L273.5,351.35 L274.0,351.31 L274.5,351.28 L275.0,351.25 L275.5,351.23 L276.0,351.20 L276.5,351.17 L277.0,351.15 L277.5,351.12 L278.0,351.10 L278.5,351.07 L279.0,351.05 L279.5,351.02 L280.0,351.00 L280.5,350.98 L281.0,350.95 L281.5,350.93 L282.0,350.91 L282.5,350.89 L283.0,350.87 L283.5,350.85 L284.0,350.83 L284.5,350.81 L285.0,350.79 L285.5,350.77 L286.0,350.75 L286.5,350.73 L287.0,350.71 L287.5,350.70 L288.0,350.68 L288.5,350.66 L289.0,350.64 L289.5,350.62 L290.0,350.61 L290.5,350.59 L291.0,350.57 L291.5,350.55 L292.0,350.54 L292.5,350.52 L293.0,350.50 L293.5,350.49 L294.0,350.47 L294.5,350.45 L295.0,350.44 L295.5,350.42 L296.0,350.41 L296.5,350.39 L297.0,350.37 L297.5,350.36 L298.0,350.34 L298.5,350.32 L299.0,350.31 L299.5,350.29 L300.0,350.27 L300.5,350.26 L301.0,350.24 L301.5,350.22 L302.0,350.21 L302.5,350.19 L303.0,350.17 L303.5,350.15 L304.0,350.13 L304.5,350.12 L305.0,350.10 L305.5,350.08 L306.0,350.06 L306.5,350.04 L307.0,350.02 L307.5,350.00 L308.0,349.98 L308.5,349.96 L309.0,349.94 L309.5,349.92 L310.0,349.90 L310.5,349.88 L311.0,349.86 L311.5,349.84 L312.0,349.81 L312.5,349.79 L313.0,349.77 L313.5,349.75 L314.0,349.73 L314.5,349.70 L315.0,349.68 L315.5,349.66 L316.0,349.63 L316.5,349.60 L317.0,349.58 L317.5,349.60 L318.0,349.38 L318.5,349.62 L319.0,349.08 L319.5,349.11 L320.0,349.52 L320.5,349.45 L321.0,349.99 L321.5,348.86 L322.0,348.41 L322.5,349.22 L323.0,349.31 L323.5,349.51 L324.0,349.63 L324.5,348.93 L325.0,348.95 L325.5,349.00 L326.0,348.73 L326.5,348.98 L327.0,349.10 L327.5,348.73 L328.0,348.77 L328.5,348.86 L329.0,348.55 L329.5,348.62 L330.0,348.59 L330.5,348.94 L331.0,348.94 L331.5,347.79 L332.0,348.72 L332.5,348.85 L333.0,348.87 L333.5,349.39 L334.0,348.18 L334.5,348.37 L335.0,348.93 L335.5,348.48 L336.0,348.24 L336.5,349.27 L337.0,348.38 L337.5,348.24 L338.0,348.08 L338.5,348.43 L339.0,348.71 L339.5,347.84 L340.0,348.19 L340.5,348.54 L341.0,347.99 L341.5,348.91 L342.0,348.06 L342.5,348.00 L343.0,347.88 L343.5,347.94 L344.0,347.80 L344.5,348.28 L345.0,347.84 L345.5,347.83 L346.0,348.20 L346.5,347.69 L347.0,348.10 L347.5,348.40 L348.0,347.50 L348.5,348.22 L349.0,348.01 L349.5,347.49 L350.0,348.31 L350.5,347.53 L351.0,348.41 L351.5,348.49 L352.0,348.27 L352.5,348.01 L353.0,348.15 L353.5,347.75 L354.0,348.22 L354.5,348.25 L355.0,348.40 L355.5,347.97 L356.0,348.22 L356.5,348.18 L357.0,348.20 L357.5,348.08 L358.0,348.71 L358.5,349.00 L359.0,348.35 L359.5,347.63 L360.0,347.90 L360.5,347.85 L361.0,348.40 L361.5,348.32 L362.0,347.72 L362.5,347.74 L363.0,347.88 L363.5,347.47 L364.0,347.15 L364.5,347.07 L365.0,347.58 L365.5,347.40 L366.0,346.93 L366.5,347.05 L367.0,346.60 L367.5,346.63 L368.0,346.78 L368.5,346.79 L369.0,346.12 L369.5,346.58 L370.0,346.32 L370.5,345.27 L371.0,345.55 L371.5,346.30 L372.0,345.26 L372.5,345.35 L373.0,345.57 L373.5,344.79 L374.0,345.69 L374.5,344.75 L375.0,344.68 L375.5,344.56 L376.0,345.04 L376.5,345.09 L377.0,345.16 L377.5,344.96 L378.0,345.49 L378.5,344.73 L379.0,344.32 L379.5,345.00 L380.0,344.86 L380.5,344.90 L381.0,345.10 L381.5,344.03 L382.0,344.46 L382.5,344.07 L383.0,344.16 L383.5,343.92 L384.0,344.32 L384.5,344.12 L385.0,344.45 L385.5,344.26 L386.0,344.14 L386.5,344.10 L387.0,343.67 L387.5,343.43 L388.0,343.62 L388.5,343.71 L389.0,343.36 L389.5,344.00 L390.0,344.27 L390.5,343.54 L391.0,343.78 L391.5,343.32 L392.0,343.36 L392.5,343.73 L393.0,342.98 L393.5,343.58 L394.0,343.57 L394.5,343.06 L395.0,342.87 L395.5,343.11 L396.0,342.96 L396.5,343.43 L397.0,342.79 L397.5,342.99 L398.0,343.00 L398.5,342.93 L399.0,342.89 L399.5,342.88 L400.0,342.80 L400.5,342.76 L401.0,342.73 L401.5,342.70 L402.0,342.68 L402.5,342.65 L403.0,342.64 L403.5,342.62 L404.0,342.61 L404.5,342.60 L405.0,342.60 L405.5,342.60 L406.0,342.60 L406.5,342.60 L407.0,342.60 L407.5,342.60 L408.0,342.60 L408.5,342.61 L409.0,342.61 L409.5,342.61 L410.0,342.61 L410.5,342.61 L411.0,342.62 L411.5,342.62 L412.0,342.62 L412.5,342.62 L413.0,342.63 L413.5,342.63 L414.0,342.64 L414.5,342.64 L415.0,342.64 L415.5,342.65 L416.0,342.65 L416.5,342.66 L417.0,342.66 L417.5,342.67 L418.0,342.67 L418.5,342.68 L419.0,342.69 L419.5,342.69 L420.0,342.70 L420.5,342.72 L421.0,342.76 L421.5,342.83 L422.0,342.92 L422.5,343.02 L423.0,343.13 L423.5,343.26 L424.0,343.39 L424.5,343.53 L425.0,343.67 L425.5,343.81 L426.0,343.94 L426.5,344.08 L427.0,344.20 L427.5,344.31 L428.0,344.41 L428.5,344.49 L429.0,344.55 L429.5,344.59 L430.0,344.60 L430.5,344.60 L431.0,344.58 L431.5,344.56 L432.0,344.54 L432.5,344.51 L433.0,344.47 L433.5,344.42 L434.0,344.38 L434.5,344.32 L435.0,344.27 L435.5,344.21 L436.0,344.14 L436.5,344.08 L437.0,344.01 L437.5,343.94 L438.0,343.87 L438.5,343.81 L439.0,343.74 L439.5,343.67 L440.0,343.60 L440.5,343.53 L441.0,343.45 L441.5,343.37 L442.0,343.29 L442.5,343.20 L443.0,343.10 L443.5,343.00 L444.0,342.90 L444.5,342.80 L445.0,342.69 L445.5,342.58 L446.0,342.47 L446.5,342.36 L447.0,342.25 L447.5,342.14 L448.0,342.03 L448.5,341.92 L449.0,341.81 L449.5,341.70 L450.0,341.60 L450.5,341.50 L451.0,341.39 L451.5,341.28 L452.0,341.17 L452.5,341.06 L453.0,340.95 L453.5,340.84 L454.0,340.73 L454.5,340.62 L455.0,340.50 L455.5,340.39 L456.0,340.28 L456.5,340.18 L457.0,340.07 L457.5,339.97 L458.0,339.87 L458.5,339.77 L459.0,339.68 L459.5,339.59 L460.0,339.50 L460.5,339.41 L461.0,339.32 L461.5,339.23 L462.0,339.14 L462.5,339.04 L463.0,338.95 L463.5,338.86 L464.0,338.77 L464.5,338.68 L465.0,338.59 L465.5,338.51 L466.0,338.43 L466.5,338.36 L467.0,338.30 L467.5,338.24 L468.0,338.19 L468.5,338.15 L469.0,338.12 L469.5,338.11 L470.0,338.10 L470.5,338.10 L471.0,338.10 L471.5,338.10 L472.0,338.10 L472.5,338.10 L473.0,338.10 L473.5,338.10 L474.0,338.10 L474.5,338.10 L475.0,338.10 L475.5,338.10 L476.0,338.10 L476.5,338.10 L477.0,338.10 L477.5,338.10 L478.0,338.10 L478.5,338.10 L479.0,338.10 L479.5,338.10 L480.0,338.10 L480.5,338.10 L481.0,338.12 L481.5,338.14 L482.0,338.16 L482.5,338.19 L483.0,338.23 L483.5,338.28 L484.0,338.33 L484.5,338.39 L485.0,338.45 L485.5,338.52 L486.0,338.59 L486.5,338.66 L487.0,338.74 L487.5,338.82 L488.0,338.90 L488.5,339.00 L489.0,339.14 L489.5,339.30 L490.0,339.49 L490.5,339.70 L491.0,339.94 L491.5,340.19 L492.0,340.46 L492.5,340.73 L493.0,341.02 L493.5,341.31 L494.0,341.60 L494.5,341.91 L495.0,342.24 L495.5,342.59 L496.0,342.97 L496.5,343.37 L497.0,343.79 L497.5,344.23 L498.0,344.68 L498.5,345.14 L499.0,345.62 L499.5,346.11 L500.0,346.60 L500.5,347.12 L501.0,347.70 L501.5,348.30 L502.0,348.94 L502.5,349.59 L503.0,350.24 L503.5,350.89 L504.0,351.52 L504.5,352.13 L505.0,352.70 L505.5,353.27 L506.0,353.85 L506.5,354.45 L507.0,355.05 L507.5,355.62 L508.0,356.16 L508.5,356.65 L509.0,357.08 L509.5,357.44 L510.0,357.70 L510.5,357.91 L511.0,358.11 L511.5,358.25 L512.0,358.30 L512.5,357.95 L513.0,356.99 L513.5,355.61 L514.0,353.98 L514.5,352.25 L515.0,350.60 L515.5,348.60 L516.0,346.19 L516.5,344.08 L517.0,343.00 L517.5,342.72 L518.0,342.60 L518.5,343.11 L519.0,344.37 L519.5,345.99 L520.0,347.60 L520.5,349.53 L521.0,351.88 L521.5,353.87 L522.0,354.70 L522.5,354.29 L523.0,353.20 L523.5,351.66 L524.0,349.90 L524.5,348.14 L525.0,346.60 L525.5,345.22 L526.0,343.81 L526.5,342.39 L527.0,341.01 L527.5,339.70 L528.0,338.50 L528.5,337.24 L529.0,335.93 L529.5,334.91 L530.0,334.50 L530.5,334.72 L531.0,335.41 L531.5,336.57" stroke="#4A78E0" stroke-width="2.2" fill="none" stroke-linejoin="round"/>
<path d="M495.4,342.52V347.52M39.4,368.58V371.17M40.2,367.95V369.90M42.0,368.60V370.57M42.8,369.69V371.37M43.4,368.63V370.02M44.7,368.84V368.41M46.0,368.87V369.64M47.2,368.24V369.50M48.4,369.40V367.82M49.5,369.38V370.48M50.6,367.95V367.38M51.4,367.73V369.01M52.2,367.62V369.06M53.3,368.60V372.25M54.3,369.06V370.21M55.8,368.98V369.62M57.7,368.78V370.29M58.4,368.52V371.89M59.7,369.57V368.21M60.4,368.69V371.73M61.4,368.57V371.55M62.6,366.96V369.73M64.2,368.41V370.42M64.8,369.01V370.22M65.9,368.29V368.99M67.2,367.69V369.20M69.1,367.92V369.46M70.3,368.02V370.59M71.3,366.93V368.78M72.0,368.07V371.51M74.1,367.63V369.10M75.2,366.71V365.64M76.0,368.06V370.57M76.8,366.72V367.92M77.8,366.47V369.28M78.9,365.67V367.24M80.5,367.96V371.11M83.2,366.58V370.50M84.2,365.83V366.33M85.2,366.88V368.42M86.3,366.51V368.20M86.9,365.56V368.93M88.1,366.23V367.03M89.4,366.09V365.02M90.0,366.18V368.60M90.9,365.86V366.72M91.9,365.56V363.88M92.9,366.32V367.44M94.2,366.07V370.02M94.9,366.92V368.03M95.9,365.73V368.13M97.1,366.30V368.45M98.0,365.03V367.82M99.2,366.58V366.11M100.3,365.49V364.90M101.4,365.51V367.05M102.7,365.52V366.68M103.4,364.86V365.55M104.3,365.38V366.33M106.9,365.46V365.87M318.1,349.44V350.03M322.9,349.29V349.85M325.1,348.96V350.12M326.5,348.98V351.47M327.7,348.75V351.21M328.8,348.69V351.15M331.7,348.11V350.06M334.3,348.30V350.36M335.4,348.61V351.26M337.4,348.27V350.85M339.2,348.31V349.29M342.1,348.05V351.04M343.5,347.94V351.69M345.8,348.09V354.01M347.5,348.38V352.80M348.7,348.13V352.77M349.8,347.91V351.21M350.7,347.81V351.79M351.9,348.32V350.71M353.2,348.01V348.56M354.9,348.38V354.05M358.0,348.66V355.70M360.6,348.01V354.45M361.8,347.98V351.62M363.4,347.55V357.00M367.9,346.76V349.13M369.2,346.28V346.98M370.5,345.30V346.04M371.9,345.40V351.48M373.8,345.34V346.73M374.9,344.69V348.03M376.0,345.03V345.92M377.2,345.09V353.66M378.4,344.94V346.59M380.3,344.88V354.24M381.8,344.29V350.20M383.3,344.04V347.35M384.5,344.14V345.45M386.3,344.12V350.03M391.0,343.78V346.89M392.2,343.52V344.34M395.0,342.88V343.86M396.9,342.98V343.72M360.5,347.85V356.65M354.0,348.22V355.37M373.6,344.97V350.47M380.9,345.06V349.46M357.5,348.08V354.13" stroke="#4A78E0" stroke-width="1.5" fill="none"/>
<text x="154.5" y="41.2" fill="#CF9418" class="lb">RM120</text>
<text x="154.5" y="73.0" fill="#2483BF" class="lb">RM300</text>
<text x="154.5" y="104.5" fill="#9466E8" class="lb">RM350</text>
<text x="154.5" y="134.6" fill="#F0559E" class="lb">RM400</text>
<text x="154.5" y="162.4" fill="#26A836" class="lb">RM500</text>
<text x="154.5" y="189.8" fill="#E9A617" class="lb">RM600</text>
<text x="154.5" y="219.6" fill="#1DB5E5" class="lb">RM700</text>
<text x="154.5" y="244.3" fill="#8A4FD6" class="lb">RM800</text>
<text x="154.5" y="270.7" fill="#EB4A7A" class="lb">RM900</text>
<text x="154.5" y="300.5" fill="#1F9A5E" class="lb">RM1000</text>
<text x="154.5" y="326.6" fill="#F07F1C" class="lb">RM1100</text>
<text x="155" y="354.2" fill="#4A78E0" class="lb">Fe<tspan font-size="8.8" dy="3.9">2</tspan><tspan dy="-3.9">O</tspan><tspan font-size="8.8" dy="3.9">3</tspan><tspan dy="-3.9">-350</tspan></text>
<text x="245.00" y="21.9" class="an">2360</text>
<text x="283.15" y="35.2" class="an">2336</text>
<text x="452.30" y="31.0" class="an">995</text>
<text x="480.40" y="33.4" class="an">720</text>
<text x="504.45" y="33.4" class="an">668</text>
<text x="521.20" y="20.6" class="an">472</text>
<text x="464.00" y="89.1" class="an">458</text>
<text x="463.40" y="114.4" class="an">419</text>
<text x="463.60" y="145.9" class="an">546</text>
<text x="414.95" y="257.3" class="an">700</text>
<text x="508.20" y="262.8" class="an">571</text>
<text x="472.70" y="277.3" class="an">828</text>
<text x="465.50" y="335.1" class="an">517</text>
<text x="458.30" y="369.4" class="an">546</text>
<line x1="484.3" y1="86.0" x2="523.8" y2="86.0" stroke="#000" stroke-width="1.6"/>
<path d="M476.3,86.0 L487.3,83.3 L485.8,86.0 L487.3,88.7 Z" fill="#000"/>
<line x1="523.8" y1="83.0" x2="523.8" y2="89.5" stroke="#000" stroke-width="1.4"/>
<line x1="484.0" y1="110.7" x2="529.7" y2="110.7" stroke="#000" stroke-width="1.6"/>
<path d="M476.0,110.7 L487.0,108.0 L485.5,110.7 L487.0,113.4 Z" fill="#000"/>
<line x1="529.7" y1="107.7" x2="529.7" y2="114.2" stroke="#000" stroke-width="1.4"/>
<line x1="484.0" y1="141.3" x2="512.2" y2="141.3" stroke="#000" stroke-width="1.6"/>
<path d="M476.0,141.3 L487.0,138.6 L485.5,141.3 L487.0,144.0 Z" fill="#000"/>
<line x1="512.2" y1="138.3" x2="512.2" y2="144.8" stroke="#000" stroke-width="1.4"/>
<line x1="437.6" y1="252.9" x2="489.0" y2="252.9" stroke="#000" stroke-width="1.6"/>
<path d="M429.6,252.9 L440.6,250.2 L439.1,252.9 L440.6,255.6 Z" fill="#000"/>
<line x1="489.0" y1="249.9" x2="489.0" y2="256.4" stroke="#000" stroke-width="1.4"/>
<line x1="484.6" y1="332.9" x2="516.4" y2="332.9" stroke="#000" stroke-width="1.6"/>
<path d="M476.6,332.9 L487.6,330.2 L486.1,332.9 L487.6,335.6 Z" fill="#000"/>
<line x1="516.4" y1="329.9" x2="516.4" y2="336.4" stroke="#000" stroke-width="1.4"/>
<line x1="478.4" y1="365.8" x2="512.4" y2="365.8" stroke="#000" stroke-width="1.6"/>
<path d="M470.4,365.8 L481.4,363.1 L479.9,365.8 L481.4,368.5 Z" fill="#000"/>
<line x1="512.4" y1="362.8" x2="512.4" y2="369.3" stroke="#000" stroke-width="1.4"/>
<rect x="36.7" y="6.9" width="498" height="367.2" fill="none" stroke="#000" stroke-width="2.3"/>
<g stroke="#000" stroke-width="2.3">
<line x1="39.50" y1="374" x2="39.50" y2="381.4"/>
<line x1="94.20" y1="374" x2="94.20" y2="381.4"/>
<line x1="148.90" y1="374" x2="148.90" y2="381.4"/>
<line x1="203.60" y1="374" x2="203.60" y2="381.4"/>
<line x1="258.30" y1="374" x2="258.30" y2="381.4"/>
<line x1="313.00" y1="374" x2="313.00" y2="381.4"/>
<line x1="367.70" y1="374" x2="367.70" y2="381.4"/>
<line x1="422.40" y1="374" x2="422.40" y2="381.4"/>
<line x1="477.10" y1="374" x2="477.10" y2="381.4"/>
<line x1="531.80" y1="374" x2="531.80" y2="381.4"/>
</g>
<text transform="translate(39.50,400.5) scale(1,1.08)" class="tk">4000</text>
<text transform="translate(94.20,400.5) scale(1,1.08)" class="tk">3600</text>
<text transform="translate(148.90,400.5) scale(1,1.08)" class="tk">3200</text>
<text transform="translate(203.60,400.5) scale(1,1.08)" class="tk">2800</text>
<text transform="translate(258.30,400.5) scale(1,1.08)" class="tk">2400</text>
<text transform="translate(313.00,400.5) scale(1,1.08)" class="tk">2000</text>
<text transform="translate(367.70,400.5) scale(1,1.08)" class="tk">1600</text>
<text transform="translate(422.40,400.5) scale(1,1.08)" class="tk">1200</text>
<text transform="translate(477.10,400.5) scale(1,1.08)" class="tk">800</text>
<text transform="translate(531.80,400.5) scale(1,1.08)" class="tk">400</text>
<text x="196" y="436.1" style="font-size:20.7px" fill="#000">Wavenumber (cm</text>
<rect x="354.9" y="423.6" width="7.3" height="1.4" fill="#000"/>
<text x="363.6" y="428.1" style="font-size:12px" fill="#000">1</text>
<text x="370" y="436.1" style="font-size:20.7px" fill="#000">)</text>
<text transform="translate(20,190.5) rotate(-90)" text-anchor="middle" style="font-size:21px" fill="#000">Transmittance (a.u.)</text>
</svg>
</body></html>
